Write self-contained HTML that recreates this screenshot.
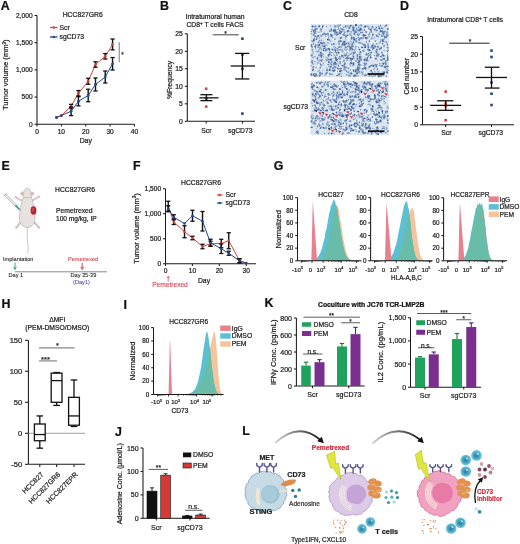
<!DOCTYPE html>
<html><head><meta charset="utf-8"><title>Figure</title>
<style>
html,body{margin:0;padding:0;background:#fff;}
svg{display:block;}
text{font-family:'Liberation Sans', Arial, Helvetica, sans-serif;stroke:currentColor;stroke-width:0.22px;}
</style></head>
<body>
<svg width="520" height="544" viewBox="0 0 520 544">
<rect width="520" height="544" fill="#fff"/>
<g id="panelA">
<text x="0.80" y="9.80" font-size="12.4" font-weight="bold" fill="#111" color="#111">A</text>
<line x1="37.00" y1="15.50" x2="37.00" y2="124.25" stroke="#1a1a1a" stroke-width="1.05"/>
<line x1="34.50" y1="124.25" x2="37.00" y2="124.25" stroke="#1a1a1a" stroke-width="1.05"/>
<text x="32.60" y="126.63" font-size="6.6" text-anchor="end" fill="#222" color="#222">0</text>
<line x1="34.50" y1="97.06" x2="37.00" y2="97.06" stroke="#1a1a1a" stroke-width="1.05"/>
<text x="32.60" y="99.44" font-size="6.6" text-anchor="end" fill="#222" color="#222">500</text>
<line x1="34.50" y1="69.88" x2="37.00" y2="69.88" stroke="#1a1a1a" stroke-width="1.05"/>
<text x="32.60" y="72.25" font-size="6.6" text-anchor="end" fill="#222" color="#222">1,000</text>
<line x1="34.50" y1="42.69" x2="37.00" y2="42.69" stroke="#1a1a1a" stroke-width="1.05"/>
<text x="32.60" y="45.06" font-size="6.6" text-anchor="end" fill="#222" color="#222">1,500</text>
<line x1="34.50" y1="15.50" x2="37.00" y2="15.50" stroke="#1a1a1a" stroke-width="1.05"/>
<text x="32.60" y="17.88" font-size="6.6" text-anchor="end" fill="#222" color="#222">2,000</text>
<line x1="37.00" y1="124.25" x2="134.50" y2="124.25" stroke="#1a1a1a" stroke-width="1.05"/>
<line x1="37.00" y1="124.25" x2="37.00" y2="126.45" stroke="#1a1a1a" stroke-width="1.05"/>
<text x="37.00" y="133.68" font-size="6.6" text-anchor="middle" fill="#222" color="#222">0</text>
<line x1="61.38" y1="124.25" x2="61.38" y2="126.45" stroke="#1a1a1a" stroke-width="1.05"/>
<text x="61.38" y="133.68" font-size="6.6" text-anchor="middle" fill="#222" color="#222">10</text>
<line x1="85.75" y1="124.25" x2="85.75" y2="126.45" stroke="#1a1a1a" stroke-width="1.05"/>
<text x="85.75" y="133.68" font-size="6.6" text-anchor="middle" fill="#222" color="#222">20</text>
<line x1="110.12" y1="124.25" x2="110.12" y2="126.45" stroke="#1a1a1a" stroke-width="1.05"/>
<text x="110.12" y="133.68" font-size="6.6" text-anchor="middle" fill="#222" color="#222">30</text>
<line x1="134.50" y1="124.25" x2="134.50" y2="126.45" stroke="#1a1a1a" stroke-width="1.05"/>
<text x="134.50" y="133.68" font-size="6.6" text-anchor="middle" fill="#222" color="#222">40</text>
<text x="82.70" y="17.45" font-size="6.8" text-anchor="middle" fill="#222" color="#222">HCC827GR6</text>
<text x="5.30" y="77.44" font-size="7.6" text-anchor="middle" fill="#222" color="#222" transform="rotate(-90 5.30 74.70)">Tumor volume (mm<tspan font-size="4.5" dy="-2.5">3</tspan><tspan dy="2.5">)</tspan></text>
<text x="85.75" y="142.75" font-size="6.8" text-anchor="middle" fill="#222" color="#222">Day</text>
<polyline points="56.50,117.51 61.38,115.55 71.12,106.25 78.44,93.26 88.19,81.29 95.50,64.49 105.25,56.28 112.56,44.48" fill="none" stroke="#d4453d" stroke-width="1.0"/>
<polyline points="56.50,117.51 61.38,115.55 71.12,111.25 78.44,101.25 88.19,95.49 95.50,84.50 105.25,77.00 112.56,63.79" fill="none" stroke="#27488c" stroke-width="1.0"/>
<circle cx="56.50" cy="117.51" r="1.40" fill="#d4453d"/>
<circle cx="61.38" cy="115.55" r="1.40" fill="#d4453d"/>
<line x1="71.12" y1="104.35" x2="71.12" y2="108.16" stroke="#111" stroke-width="1.4"/>
<line x1="69.03" y1="104.35" x2="73.22" y2="104.35" stroke="#111" stroke-width="1.3"/>
<line x1="69.03" y1="108.16" x2="73.22" y2="108.16" stroke="#111" stroke-width="1.3"/>
<circle cx="71.12" cy="106.25" r="1.40" fill="#d4453d"/>
<line x1="78.44" y1="90.54" x2="78.44" y2="95.97" stroke="#111" stroke-width="1.4"/>
<line x1="76.34" y1="90.54" x2="80.54" y2="90.54" stroke="#111" stroke-width="1.3"/>
<line x1="76.34" y1="95.97" x2="80.54" y2="95.97" stroke="#111" stroke-width="1.3"/>
<circle cx="78.44" cy="93.26" r="1.40" fill="#d4453d"/>
<line x1="88.19" y1="78.30" x2="88.19" y2="84.28" stroke="#111" stroke-width="1.4"/>
<line x1="86.09" y1="78.30" x2="90.29" y2="78.30" stroke="#111" stroke-width="1.3"/>
<line x1="86.09" y1="84.28" x2="90.29" y2="84.28" stroke="#111" stroke-width="1.3"/>
<circle cx="88.19" cy="81.29" r="1.40" fill="#d4453d"/>
<line x1="95.50" y1="61.77" x2="95.50" y2="67.21" stroke="#111" stroke-width="1.4"/>
<line x1="93.40" y1="61.77" x2="97.60" y2="61.77" stroke="#111" stroke-width="1.3"/>
<line x1="93.40" y1="67.21" x2="97.60" y2="67.21" stroke="#111" stroke-width="1.3"/>
<circle cx="95.50" cy="64.49" r="1.40" fill="#d4453d"/>
<line x1="105.25" y1="53.56" x2="105.25" y2="59.00" stroke="#111" stroke-width="1.4"/>
<line x1="103.15" y1="53.56" x2="107.35" y2="53.56" stroke="#111" stroke-width="1.3"/>
<line x1="103.15" y1="59.00" x2="107.35" y2="59.00" stroke="#111" stroke-width="1.3"/>
<circle cx="105.25" cy="56.28" r="1.40" fill="#d4453d"/>
<line x1="112.56" y1="39.04" x2="112.56" y2="49.92" stroke="#111" stroke-width="1.4"/>
<line x1="110.46" y1="39.04" x2="114.66" y2="39.04" stroke="#111" stroke-width="1.3"/>
<line x1="110.46" y1="49.92" x2="114.66" y2="49.92" stroke="#111" stroke-width="1.3"/>
<circle cx="112.56" cy="44.48" r="1.40" fill="#d4453d"/>
<circle cx="56.50" cy="117.51" r="1.40" fill="#27488c"/>
<circle cx="61.38" cy="115.55" r="1.40" fill="#27488c"/>
<line x1="71.12" y1="106.90" x2="71.12" y2="115.60" stroke="#111" stroke-width="1.4"/>
<line x1="69.03" y1="106.90" x2="73.22" y2="106.90" stroke="#111" stroke-width="1.3"/>
<line x1="69.03" y1="115.60" x2="73.22" y2="115.60" stroke="#111" stroke-width="1.3"/>
<circle cx="71.12" cy="111.25" r="1.40" fill="#27488c"/>
<line x1="78.44" y1="96.63" x2="78.44" y2="105.87" stroke="#111" stroke-width="1.4"/>
<line x1="76.34" y1="96.63" x2="80.54" y2="96.63" stroke="#111" stroke-width="1.3"/>
<line x1="76.34" y1="105.87" x2="80.54" y2="105.87" stroke="#111" stroke-width="1.3"/>
<circle cx="78.44" cy="101.25" r="1.40" fill="#27488c"/>
<line x1="88.19" y1="89.23" x2="88.19" y2="101.74" stroke="#111" stroke-width="1.4"/>
<line x1="86.09" y1="89.23" x2="90.29" y2="89.23" stroke="#111" stroke-width="1.3"/>
<line x1="86.09" y1="101.74" x2="90.29" y2="101.74" stroke="#111" stroke-width="1.3"/>
<circle cx="88.19" cy="95.49" r="1.40" fill="#27488c"/>
<line x1="95.50" y1="77.98" x2="95.50" y2="91.03" stroke="#111" stroke-width="1.4"/>
<line x1="93.40" y1="77.98" x2="97.60" y2="77.98" stroke="#111" stroke-width="1.3"/>
<line x1="93.40" y1="91.03" x2="97.60" y2="91.03" stroke="#111" stroke-width="1.3"/>
<circle cx="95.50" cy="84.50" r="1.40" fill="#27488c"/>
<line x1="105.25" y1="71.02" x2="105.25" y2="82.98" stroke="#111" stroke-width="1.4"/>
<line x1="103.15" y1="71.02" x2="107.35" y2="71.02" stroke="#111" stroke-width="1.3"/>
<line x1="103.15" y1="82.98" x2="107.35" y2="82.98" stroke="#111" stroke-width="1.3"/>
<circle cx="105.25" cy="77.00" r="1.40" fill="#27488c"/>
<line x1="112.56" y1="57.53" x2="112.56" y2="70.04" stroke="#111" stroke-width="1.4"/>
<line x1="110.46" y1="57.53" x2="114.66" y2="57.53" stroke="#111" stroke-width="1.3"/>
<line x1="110.46" y1="70.04" x2="114.66" y2="70.04" stroke="#111" stroke-width="1.3"/>
<circle cx="112.56" cy="63.79" r="1.40" fill="#27488c"/>
<line x1="50.00" y1="27.50" x2="57.50" y2="27.50" stroke="#d4453d" stroke-width="1.3"/>
<circle cx="53.75" cy="27.50" r="1.30" fill="#d4453d"/>
<text x="59.50" y="29.95" font-size="6.8" fill="#222" color="#222">Scr</text>
<line x1="50.00" y1="37.00" x2="57.50" y2="37.00" stroke="#27488c" stroke-width="1.3"/>
<circle cx="53.75" cy="37.00" r="1.30" fill="#27488c"/>
<text x="59.50" y="39.45" font-size="6.8" fill="#222" color="#222">sgCD73</text>
<line x1="119.20" y1="42.10" x2="119.20" y2="62.30" stroke="#777" stroke-width="1.0"/>
<text x="121.20" y="57.34" font-size="6.5" fill="#222" color="#222">*</text>
</g>
<g id="panelB">
<text x="160.00" y="10.20" font-size="12.4" font-weight="bold" fill="#111" color="#111">B</text>
<line x1="187.30" y1="33.80" x2="187.30" y2="121.30" stroke="#1a1a1a" stroke-width="1.05"/>
<line x1="184.80" y1="121.30" x2="187.30" y2="121.30" stroke="#1a1a1a" stroke-width="1.05"/>
<text x="182.90" y="123.75" font-size="6.8" text-anchor="end" fill="#222" color="#222">0</text>
<line x1="184.80" y1="103.80" x2="187.30" y2="103.80" stroke="#1a1a1a" stroke-width="1.05"/>
<text x="182.90" y="106.25" font-size="6.8" text-anchor="end" fill="#222" color="#222">5</text>
<line x1="184.80" y1="86.30" x2="187.30" y2="86.30" stroke="#1a1a1a" stroke-width="1.05"/>
<text x="182.90" y="88.75" font-size="6.8" text-anchor="end" fill="#222" color="#222">10</text>
<line x1="184.80" y1="68.80" x2="187.30" y2="68.80" stroke="#1a1a1a" stroke-width="1.05"/>
<text x="182.90" y="71.25" font-size="6.8" text-anchor="end" fill="#222" color="#222">15</text>
<line x1="184.80" y1="51.30" x2="187.30" y2="51.30" stroke="#1a1a1a" stroke-width="1.05"/>
<text x="182.90" y="53.75" font-size="6.8" text-anchor="end" fill="#222" color="#222">20</text>
<line x1="184.80" y1="33.80" x2="187.30" y2="33.80" stroke="#1a1a1a" stroke-width="1.05"/>
<text x="182.90" y="36.25" font-size="6.8" text-anchor="end" fill="#222" color="#222">25</text>
<line x1="187.30" y1="121.30" x2="255.00" y2="121.30" stroke="#1a1a1a" stroke-width="1.05"/>
<line x1="206.20" y1="121.30" x2="206.20" y2="123.50" stroke="#1a1a1a" stroke-width="1.05"/>
<line x1="242.40" y1="121.30" x2="242.40" y2="123.50" stroke="#1a1a1a" stroke-width="1.05"/>
<text x="206.40" y="133.35" font-size="6.8" text-anchor="middle" fill="#222" color="#222">Scr</text>
<text x="240.30" y="133.35" font-size="6.8" text-anchor="middle" fill="#222" color="#222">sgCD73</text>
<text x="215.00" y="19.45" font-size="6.8" text-anchor="middle" fill="#222" color="#222">Intratumoral human</text>
<text x="215.00" y="27.45" font-size="6.8" text-anchor="middle" fill="#222" color="#222">CD8<tspan font-size="4.5" dy="-2.5">+</tspan><tspan dy="2.5"> T cells FACS</tspan></text>
<text x="169.60" y="82.45" font-size="6.8" text-anchor="middle" fill="#222" color="#222" transform="rotate(-90 169.60 80.00)">%Frequency</text>
<line x1="212.80" y1="34.80" x2="238.80" y2="34.80" stroke="#444" stroke-width="1.0"/>
<text x="225.50" y="35.94" font-size="6.5" text-anchor="middle" fill="#222" color="#222">*</text>
<rect x="204.90" y="87.45" width="2.60" height="2.60" fill="#d4453d"/>
<rect x="204.90" y="97.95" width="2.60" height="2.60" fill="#d4453d"/>
<rect x="204.90" y="105.30" width="2.60" height="2.60" fill="#d4453d"/>
<rect x="204.90" y="96.90" width="2.60" height="2.60" fill="#d4453d"/>
<rect x="241.10" y="37.40" width="2.60" height="2.60" fill="#27488c"/>
<rect x="241.10" y="53.15" width="2.60" height="2.60" fill="#27488c"/>
<rect x="241.10" y="67.50" width="2.60" height="2.60" fill="#27488c"/>
<rect x="241.10" y="112.30" width="2.60" height="2.60" fill="#27488c"/>
<line x1="199.40" y1="97.85" x2="218.50" y2="97.85" stroke="#111" stroke-width="1.3"/>
<line x1="206.40" y1="94.70" x2="206.40" y2="100.65" stroke="#111" stroke-width="1.3"/>
<line x1="200.40" y1="94.70" x2="212.40" y2="94.70" stroke="#111" stroke-width="1.3"/>
<line x1="200.40" y1="100.65" x2="212.40" y2="100.65" stroke="#111" stroke-width="1.3"/>
<line x1="230.70" y1="66.00" x2="255.00" y2="66.00" stroke="#111" stroke-width="1.3"/>
<line x1="242.40" y1="53.40" x2="242.40" y2="78.95" stroke="#111" stroke-width="1.3"/>
<line x1="235.10" y1="53.40" x2="249.30" y2="53.40" stroke="#111" stroke-width="1.3"/>
<line x1="235.10" y1="78.95" x2="249.30" y2="78.95" stroke="#111" stroke-width="1.3"/>
</g>
<g id="panelC">
<text x="283.00" y="10.20" font-size="12.4" font-weight="bold" fill="#111" color="#111">C</text>
<text x="351.00" y="17.45" font-size="6.8" text-anchor="middle" fill="#222" color="#222">CD8</text>
<text x="305.30" y="50.35" font-size="6.8" text-anchor="end" fill="#222" color="#222">Scr</text>
<text x="308.10" y="108.75" font-size="6.8" text-anchor="end" fill="#222" color="#222">sgCD73</text>
<rect x="310.4" y="24.2" width="78.5" height="53.1" fill="#d9e4ee"/>
<path d="M343.2,53.7l2.9,-2.9l2.9,2.9l-2.9,2.9zM344.7,51.1l2.4,-2.4l2.4,2.4l-2.4,2.4zM323.7,51.3l2.4,-2.4l2.4,2.4l-2.4,2.4zM369.5,30.8l2.0,-2.0l2.0,2.0l-2.0,2.0zM316.6,66.0l2.5,-2.5l2.5,2.5l-2.5,2.5zM312.6,74.4l2.9,-2.9l2.9,2.9l-2.9,2.9zM359.4,56.4l1.7,-1.7l1.7,1.7l-1.7,1.7zM311.9,52.1l1.6,-1.6l1.6,1.6l-1.6,1.6zM325.0,38.1l1.5,-1.5l1.5,1.5l-1.5,1.5zM344.2,47.8l2.8,-2.8l2.8,2.8l-2.8,2.8zM348.8,57.6l2.2,-2.2l2.2,2.2l-2.2,2.2zM359.8,48.7l1.9,-1.9l1.9,1.9l-1.9,1.9zM384.0,75.1l2.8,-2.8l2.8,2.8l-2.8,2.8zM363.3,41.7l1.8,-1.8l1.8,1.8l-1.8,1.8zM331.3,29.6l2.6,-2.6l2.6,2.6l-2.6,2.6zM340.2,67.8l2.1,-2.1l2.1,2.1l-2.1,2.1zM382.3,67.8l1.5,-1.5l1.5,1.5l-1.5,1.5zM325.8,70.9l2.2,-2.2l2.2,2.2l-2.2,2.2zM383.8,45.7l1.6,-1.6l1.6,1.6l-1.6,1.6zM357.4,64.4l1.9,-1.9l1.9,1.9l-1.9,1.9zM315.9,42.5l2.9,-2.9l2.9,2.9l-2.9,2.9zM367.0,32.0l1.9,-1.9l1.9,1.9l-1.9,1.9zM317.2,29.1l2.7,-2.7l2.7,2.7l-2.7,2.7zM323.5,53.7l2.2,-2.2l2.2,2.2l-2.2,2.2zM324.9,62.1l1.7,-1.7l1.7,1.7l-1.7,1.7zM358.2,31.9l2.1,-2.1l2.1,2.1l-2.1,2.1zM325.3,39.4l3.0,-3.0l3.0,3.0l-3.0,3.0zM369.4,41.1l2.8,-2.8l2.8,2.8l-2.8,2.8zM325.3,45.6l2.8,-2.8l2.8,2.8l-2.8,2.8zM357.2,31.1l3.0,-3.0l3.0,3.0l-3.0,3.0zM325.6,38.9l2.7,-2.7l2.7,2.7l-2.7,2.7zM335.3,40.7l1.6,-1.6l1.6,1.6l-1.6,1.6zM317.2,54.8l1.9,-1.9l1.9,1.9l-1.9,1.9zM355.0,44.5l2.2,-2.2l2.2,2.2l-2.2,2.2zM381.5,50.0l2.4,-2.4l2.4,2.4l-2.4,2.4zM375.2,35.2l1.7,-1.7l1.7,1.7l-1.7,1.7zM378.2,66.4l1.9,-1.9l1.9,1.9l-1.9,1.9zM323.6,62.5l2.9,-2.9l2.9,2.9l-2.9,2.9zM324.2,72.9l2.8,-2.8l2.8,2.8l-2.8,2.8zM355.7,46.9l1.7,-1.7l1.7,1.7l-1.7,1.7zM313.4,73.5l1.9,-1.9l1.9,1.9l-1.9,1.9zM362.2,38.8l2.7,-2.7l2.7,2.7l-2.7,2.7zM355.1,40.6l1.8,-1.8l1.8,1.8l-1.8,1.8zM364.2,29.6l1.8,-1.8l1.8,1.8l-1.8,1.8zM351.7,68.1l2.4,-2.4l2.4,2.4l-2.4,2.4zM331.5,71.2l1.8,-1.8l1.8,1.8l-1.8,1.8zM311.5,39.4l2.2,-2.2l2.2,2.2l-2.2,2.2zM314.9,34.9l2.1,-2.1l2.1,2.1l-2.1,2.1zM353.0,32.7l2.0,-2.0l2.0,2.0l-2.0,2.0zM376.3,74.3l2.5,-2.5l2.5,2.5l-2.5,2.5zM362.2,54.9l1.7,-1.7l1.7,1.7l-1.7,1.7zM312.1,27.1l2.9,-2.9l2.9,2.9l-2.9,2.9zM363.1,73.5l1.5,-1.5l1.5,1.5l-1.5,1.5zM357.2,49.9l2.6,-2.6l2.6,2.6l-2.6,2.6zM334.5,75.3l1.6,-1.6l1.6,1.6l-1.6,1.6zM350.2,62.4l2.9,-2.9l2.9,2.9l-2.9,2.9zM364.6,60.8l2.7,-2.7l2.7,2.7l-2.7,2.7zM378.0,43.5l2.5,-2.5l2.5,2.5l-2.5,2.5zM377.4,69.0l2.1,-2.1l2.1,2.1l-2.1,2.1zM368.9,68.6l2.4,-2.4l2.4,2.4l-2.4,2.4zM356.6,45.0l2.4,-2.4l2.4,2.4l-2.4,2.4zM355.3,30.1l2.5,-2.5l2.5,2.5l-2.5,2.5zM383.8,69.4l2.6,-2.6l2.6,2.6l-2.6,2.6zM339.0,62.3l2.4,-2.4l2.4,2.4l-2.4,2.4zM343.6,67.4l1.6,-1.6l1.6,1.6l-1.6,1.6zM365.9,27.7l2.4,-2.4l2.4,2.4l-2.4,2.4zM345.7,37.5l2.5,-2.5l2.5,2.5l-2.5,2.5zM346.6,56.4l2.9,-2.9l2.9,2.9l-2.9,2.9zM329.5,26.8l2.0,-2.0l2.0,2.0l-2.0,2.0zM361.2,36.1l1.8,-1.8l1.8,1.8l-1.8,1.8zM377.7,58.6l2.2,-2.2l2.2,2.2l-2.2,2.2zM376.3,42.3l2.5,-2.5l2.5,2.5l-2.5,2.5zM324.5,47.4l2.7,-2.7l2.7,2.7l-2.7,2.7zM378.4,69.4l2.1,-2.1l2.1,2.1l-2.1,2.1zM354.1,41.7l1.7,-1.7l1.7,1.7l-1.7,1.7zM346.6,67.3l2.8,-2.8l2.8,2.8l-2.8,2.8zM363.5,72.8l1.9,-1.9l1.9,1.9l-1.9,1.9zM323.1,48.3l1.9,-1.9l1.9,1.9l-1.9,1.9zM325.9,46.5l2.4,-2.4l2.4,2.4l-2.4,2.4zM346.4,41.7l2.8,-2.8l2.8,2.8l-2.8,2.8zM383.9,48.4l1.6,-1.6l1.6,1.6l-1.6,1.6zM313.2,69.1l1.6,-1.6l1.6,1.6l-1.6,1.6zM363.2,54.2l2.0,-2.0l2.0,2.0l-2.0,2.0zM369.7,27.1l1.7,-1.7l1.7,1.7l-1.7,1.7zM343.5,27.4l2.7,-2.7l2.7,2.7l-2.7,2.7zM328.5,33.1l1.6,-1.6l1.6,1.6l-1.6,1.6zM356.8,48.1l2.4,-2.4l2.4,2.4l-2.4,2.4zM358.3,65.8l2.9,-2.9l2.9,2.9l-2.9,2.9zM361.2,36.0l2.2,-2.2l2.2,2.2l-2.2,2.2zM323.5,26.7l2.2,-2.2l2.2,2.2l-2.2,2.2zM363.7,35.0l1.9,-1.9l1.9,1.9l-1.9,1.9zM335.9,60.4l2.3,-2.3l2.3,2.3l-2.3,2.3zM356.1,63.3l2.1,-2.1l2.1,2.1l-2.1,2.1zM369.8,70.7l1.6,-1.6l1.6,1.6l-1.6,1.6zM380.2,61.7l1.7,-1.7l1.7,1.7l-1.7,1.7zM343.3,56.9l2.9,-2.9l2.9,2.9l-2.9,2.9zM337.7,54.1l2.8,-2.8l2.8,2.8l-2.8,2.8zM369.6,72.6l2.2,-2.2l2.2,2.2l-2.2,2.2zM358.3,36.3l2.6,-2.6l2.6,2.6l-2.6,2.6zM370.8,57.7l2.6,-2.6l2.6,2.6l-2.6,2.6zM325.3,70.4l3.0,-3.0l3.0,3.0l-3.0,3.0zM382.5,52.6l2.7,-2.7l2.7,2.7l-2.7,2.7zM333.5,70.9l2.8,-2.8l2.8,2.8l-2.8,2.8zM336.2,30.3l2.2,-2.2l2.2,2.2l-2.2,2.2z" fill="#eef2f8" opacity="0.7"/>
<path d="M354.4,65.3l-1.4,-0.1l-0.3,-1.4l1.4,0.1zM349.2,46.9l-0.3,-0.9l0.8,-0.5l0.3,0.9zM383.7,31.8l-1.5,0.9l-1.3,-1.2l1.5,-0.9zM357.7,31.0l0.7,-1.5l1.6,0.3l-0.7,1.5zM366.6,64.8l-1.9,0.5l-1.0,-1.6l1.9,-0.5zM387.5,59.2l-0.8,-1.5l1.3,-1.2l0.8,1.5zM313.8,76.8l0.5,-1.8l1.9,0.0l-0.5,1.8zM384.5,38.8l-0.4,-1.6l1.4,-0.8l0.4,1.6zM328.5,59.7l-1.1,-0.4l0.1,-1.2l1.1,0.4zM386.1,63.6l-1.3,-0.7l0.3,-1.4l1.3,0.7zM334.5,27.2l0.2,-1.6l1.6,-0.2l-0.2,1.6zM360.4,65.5l0.2,-1.0l1.0,-0.1l-0.2,1.0zM370.7,47.4l0.4,-1.8l1.9,-0.1l-0.4,1.8zM375.0,42.0l-0.5,-1.1l0.9,-0.8l0.5,1.1zM387.5,60.0l-0.1,-0.9l0.9,-0.3l0.1,0.9zM375.5,30.1l-1.0,0.2l-0.5,-0.9l1.0,-0.2zM358.9,34.6l0.4,-1.0l1.1,0.1l-0.4,1.0zM382.8,44.7l-1.0,-1.0l0.6,-1.2l1.0,1.0zM351.7,47.2l-0.8,-0.2l0.0,-0.9l0.8,0.2zM334.0,55.9l0.4,-0.8l0.9,0.1l-0.4,0.8zM321.6,53.9l-1.8,-0.5l0.0,-1.9l1.8,0.5zM326.3,58.3l-0.2,-1.0l1.0,-0.5l0.2,1.0zM326.9,35.0l-1.7,0.1l-0.6,-1.6l1.7,-0.1zM357.4,25.9l-1.8,0.1l-0.7,-1.7l1.8,-0.1zM311.8,47.2l-1.2,-0.8l0.4,-1.4l1.2,0.8zM333.7,47.5l-0.1,-0.9l0.9,-0.3l0.1,0.9zM338.2,76.1l-1.5,0.2l-0.6,-1.4l1.5,-0.2zM383.9,36.6l-1.3,-0.0l-0.3,-1.2l1.3,0.0zM311.9,42.0l0.6,-1.1l1.3,0.2l-0.6,1.1zM318.1,48.1l-0.8,-1.0l0.7,-1.1l0.8,1.0zM327.9,60.2l0.7,-0.8l1.0,0.4l-0.7,0.8zM372.9,39.2l-0.9,-0.3l0.1,-1.0l0.9,0.3zM377.6,52.0l-1.6,0.2l-0.7,-1.5l1.6,-0.2zM359.1,41.3l-1.1,-1.2l0.8,-1.3l1.1,1.2zM315.6,62.2l-1.0,0.0l-0.3,-0.9l1.0,-0.0zM352.8,54.1l0.6,-0.8l1.0,0.3l-0.6,0.8zM372.2,77.1l-1.0,-0.8l0.5,-1.2l1.0,0.8zM322.5,44.1l-1.1,-0.8l0.4,-1.3l1.1,0.8zM370.5,71.9l-0.2,-1.8l1.6,-0.6l0.2,1.8zM351.5,49.2l-0.4,-1.1l0.9,-0.7l0.4,1.1zM386.7,64.8l-1.8,-0.2l-0.4,-1.8l1.8,0.2zM348.2,28.7l0.5,-1.7l1.8,0.0l-0.5,1.7zM322.1,44.0l0.6,-0.7l0.9,0.4l-0.6,0.7zM368.8,57.0l-1.2,-0.7l0.3,-1.3l1.2,0.7zM346.6,37.1l-1.5,-0.9l0.4,-1.7l1.5,0.9zM348.8,49.8l1.2,-1.1l1.3,0.8l-1.2,1.1zM387.4,56.1l-0.7,-0.7l0.5,-0.9l0.7,0.7zM377.2,28.0l-1.3,-0.0l-0.3,-1.3l1.3,0.0zM387.9,51.3l-0.6,-1.1l0.9,-0.9l0.6,1.1zM364.0,46.3l-0.8,-1.5l1.2,-1.2l0.8,1.5zM377.4,65.7l-1.1,-0.5l0.2,-1.2l1.1,0.5zM360.6,43.8l-1.3,-0.2l-0.2,-1.3l1.3,0.2zM384.2,59.1l-0.9,0.3l-0.5,-0.8l0.9,-0.3zM314.0,32.2l-1.4,-1.1l0.7,-1.7l1.4,1.1zM368.8,66.7l0.6,-0.6l0.7,0.4l-0.6,0.6zM364.1,52.0l-1.1,-0.8l0.5,-1.2l1.1,0.8zM386.3,44.1l1.0,-0.8l1.0,0.7l-1.0,0.8zM369.6,49.7l-1.6,0.8l-1.2,-1.3l1.6,-0.8zM383.9,33.1l-1.6,0.1l-0.5,-1.6l1.6,-0.1zM361.6,29.3l-1.6,-0.3l-0.2,-1.6l1.6,0.3zM385.8,37.9l-0.1,-1.5l1.5,-0.5l0.1,1.5zM329.6,50.9l-1.5,-1.2l0.8,-1.8l1.5,1.2zM311.8,30.3l-0.3,-1.0l0.9,-0.6l0.3,1.0zM357.2,42.6l-1.8,-0.8l0.2,-1.9l1.8,0.8zM387.6,36.6l-1.1,-1.5l1.1,-1.5l1.1,1.5zM314.8,37.3l-0.6,-1.5l1.3,-0.9l0.6,1.5zM345.7,53.9l0.9,-1.0l1.2,0.6l-0.9,1.0zM330.1,34.9l-0.2,-1.0l0.9,-0.5l0.2,1.0zM312.9,35.4l-0.0,-0.9l0.8,-0.3l0.0,0.9zM352.8,55.8l-0.3,-0.9l0.8,-0.6l0.3,0.9zM314.7,34.1l-1.1,-1.2l0.8,-1.4l1.1,1.2zM353.4,29.2l-1.1,-1.2l0.8,-1.4l1.1,1.2zM328.7,59.4l-1.1,-0.1l-0.2,-1.1l1.1,0.1zM358.7,57.3l0.9,-1.7l1.8,0.4l-0.9,1.7zM311.6,47.3l-0.8,-1.3l1.0,-1.1l0.8,1.3zM340.5,34.3l-1.1,-0.6l0.2,-1.2l1.1,0.6zM317.3,40.1l-1.5,-0.2l-0.3,-1.5l1.5,0.2zM358.0,72.7l-0.9,-0.1l-0.2,-0.9l0.9,0.1zM324.6,49.2l-0.3,-1.3l1.2,-0.6l0.3,1.3zM340.3,64.2l-0.6,-0.7l0.5,-0.8l0.6,0.7zM339.7,58.7l-1.2,0.3l-0.6,-1.1l1.2,-0.3zM339.9,32.1l-1.0,-1.2l0.8,-1.3l1.0,1.2zM371.0,58.7l-1.0,-0.9l0.6,-1.2l1.0,0.9zM364.4,69.1l-0.8,0.4l-0.7,-0.7l0.8,-0.4zM336.7,33.8l-0.8,-1.5l1.2,-1.2l0.8,1.5zM382.0,36.9l-1.2,-1.0l0.6,-1.4l1.2,1.0zM322.8,49.2l0.1,-1.0l1.0,-0.2l-0.1,1.0zM328.0,57.0l-0.0,-1.1l1.1,-0.3l0.0,1.1zM331.2,64.9l-1.0,-0.5l0.2,-1.1l1.0,0.5zM337.0,35.1l-0.9,0.4l-0.6,-0.8l0.9,-0.4zM314.8,32.3l-1.2,0.2l-0.5,-1.1l1.2,-0.2zM354.0,31.1l-1.7,-0.8l0.3,-1.8l1.7,0.8zM337.9,47.4l1.1,-1.5l1.7,0.7l-1.1,1.5zM330.1,63.1l-1.7,0.0l-0.5,-1.7l1.7,-0.0zM327.1,49.4l0.8,-1.7l1.8,0.3l-0.8,1.7zM384.1,57.0l-1.4,-1.1l0.6,-1.6l1.4,1.1zM353.1,45.0l-1.2,-0.5l0.2,-1.3l1.2,0.5zM349.9,44.5l-0.9,0.7l-0.9,-0.7l0.9,-0.7zM384.0,55.4l-1.4,0.8l-1.2,-1.1l1.4,-0.8zM361.1,30.4l0.6,-0.8l0.9,0.3l-0.6,0.8zM335.1,47.9l0.2,-0.9l0.9,-0.1l-0.2,0.9zM316.7,58.4l0.5,-1.1l1.2,0.2l-0.5,1.1zM346.6,72.2l-0.6,-1.1l0.9,-0.9l0.6,1.1zM318.7,52.1l-1.1,-0.5l0.2,-1.2l1.1,0.5zM351.8,39.8l-1.2,-0.9l0.5,-1.4l1.2,0.9zM357.6,70.8l-1.5,-0.7l0.3,-1.7l1.5,0.7zM339.1,41.2l1.5,-1.2l1.6,1.1l-1.5,1.2zM374.6,30.8l-1.0,-1.1l0.8,-1.2l1.0,1.1zM361.7,26.2l-1.3,-0.5l0.1,-1.4l1.3,0.5zM341.9,76.9l-1.1,-0.1l-0.3,-1.1l1.1,0.1zM326.6,34.3l0.8,-1.4l1.6,0.4l-0.8,1.4zM376.6,47.1l-1.9,0.4l-0.9,-1.7l1.9,-0.4zM368.6,50.1l0.5,-1.0l1.1,0.2l-0.5,1.0zM352.2,26.6l0.5,-1.1l1.2,0.2l-0.5,1.1zM384.5,56.0l-1.1,-0.0l-0.3,-1.1l1.1,0.0zM379.4,49.5l0.4,-1.0l1.1,0.1l-0.4,1.0zM333.1,72.1l-0.1,-1.8l1.6,-0.6l0.1,1.8zM353.9,54.3l-0.4,-1.0l0.9,-0.7l0.4,1.0zM334.9,32.0l-0.8,-1.7l1.5,-1.2l0.8,1.7zM365.7,60.9l-1.8,0.1l-0.6,-1.7l1.8,-0.1zM388.7,57.4l-1.2,0.3l-0.7,-1.1l1.2,-0.3zM340.4,57.3l0.6,-1.0l1.1,0.3l-0.6,1.0zM317.7,76.1l0.4,-0.7l0.8,0.2l-0.4,0.7zM377.6,31.1l-0.9,0.0l-0.3,-0.8l0.9,-0.0zM367.6,60.9l-0.7,-0.9l0.7,-0.9l0.7,0.9zM361.5,32.3l0.9,-0.7l0.9,0.6l-0.9,0.7zM339.7,34.1l-1.2,-0.3l-0.0,-1.3l1.2,0.3zM328.8,53.2l0.6,-1.5l1.6,0.1l-0.6,1.5z" fill="#4b6fa5"/>
<path d="M388.0,31.4l-0.9,0.4l-0.6,-0.7l0.9,-0.4zM381.4,41.9l-1.2,-0.1l-0.3,-1.2l1.2,0.1zM388.7,71.0l-1.0,0.2l-0.5,-0.9l1.0,-0.2zM351.5,54.6l-1.0,0.3l-0.5,-0.9l1.0,-0.3zM340.9,47.9l-0.4,-1.2l1.0,-0.7l0.4,1.2zM312.6,62.5l-1.4,-1.1l0.6,-1.7l1.4,1.1zM331.7,75.3l-0.2,-1.2l1.1,-0.5l0.2,1.2zM363.0,75.2l-1.1,-0.7l0.4,-1.2l1.1,0.7zM357.6,63.5l-0.4,-1.6l1.4,-0.8l0.4,1.6zM367.1,44.5l0.5,-1.2l1.3,0.2l-0.5,1.2zM381.3,72.2l0.9,-0.7l0.9,0.6l-0.9,0.7zM370.0,65.8l0.5,-0.8l0.9,0.3l-0.5,0.8zM377.7,72.5l0.0,-1.3l1.3,-0.3l-0.0,1.3zM327.7,72.4l-0.9,0.4l-0.6,-0.8l0.9,-0.4zM355.9,29.7l0.9,-0.7l0.9,0.6l-0.9,0.7zM353.1,44.3l-0.6,-1.3l1.1,-0.9l0.6,1.3zM325.4,74.5l0.3,-1.5l1.5,-0.1l-0.3,1.5zM329.3,55.9l-0.6,-1.7l1.4,-1.0l0.6,1.7zM342.2,43.1l-0.4,-0.9l0.7,-0.6l0.4,0.9zM377.2,48.0l-0.3,-1.7l1.6,-0.8l0.3,1.7zM383.9,76.0l-1.4,0.0l-0.4,-1.3l1.4,-0.0zM386.9,71.8l-1.0,-0.2l-0.1,-1.0l1.0,0.2zM376.5,56.9l-0.4,-1.1l0.9,-0.7l0.4,1.1zM366.9,55.7l-1.7,-0.7l0.2,-1.8l1.7,0.7zM331.3,66.8l-0.4,-0.8l0.7,-0.6l0.4,0.8zM353.9,65.9l-1.0,0.5l-0.8,-0.8l1.0,-0.5zM354.1,38.4l-1.2,-0.7l0.3,-1.3l1.2,0.7zM338.0,35.6l-0.9,-1.1l0.8,-1.2l0.9,1.1zM387.4,61.4l-0.9,-1.6l1.3,-1.3l0.9,1.6zM365.5,39.6l0.1,-1.2l1.2,-0.3l-0.1,1.2zM341.5,38.0l-0.5,-0.7l0.6,-0.7l0.5,0.7zM343.7,45.4l-1.7,0.6l-1.0,-1.5l1.7,-0.6zM383.9,40.3l-1.6,0.2l-0.7,-1.5l1.6,-0.2zM365.2,61.5l0.6,-1.5l1.6,0.1l-0.6,1.5zM360.2,68.6l-1.7,0.0l-0.5,-1.7l1.7,-0.0zM345.4,71.0l-1.3,-0.9l0.5,-1.5l1.3,0.9zM319.8,42.4l-1.5,0.8l-1.2,-1.2l1.5,-0.8zM355.7,42.7l-0.8,-1.1l0.8,-1.1l0.8,1.1zM318.4,38.3l0.6,-1.0l1.1,0.3l-0.6,1.0zM320.8,48.0l-1.6,0.7l-1.1,-1.3l1.6,-0.7zM334.3,26.0l0.1,-0.9l0.9,-0.2l-0.1,0.9zM339.9,41.2l-1.2,0.5l-0.8,-1.0l1.2,-0.5zM377.9,31.0l-1.8,0.3l-0.8,-1.6l1.8,-0.3zM351.3,54.1l-0.1,-1.3l1.2,-0.5l0.1,1.3zM366.0,27.7l-0.7,-1.0l0.8,-0.9l0.7,1.0zM358.2,72.9l0.4,-1.7l1.8,-0.1l-0.4,1.7zM321.1,31.0l-0.9,-1.5l1.2,-1.3l0.9,1.5zM323.3,74.0l-1.4,0.8l-1.2,-1.1l1.4,-0.8zM350.7,43.7l0.7,-1.2l1.4,0.4l-0.7,1.2zM353.0,75.5l0.8,-1.2l1.4,0.5l-0.8,1.2zM330.0,36.4l0.9,-0.8l1.0,0.6l-0.9,0.8zM334.2,33.9l1.2,-1.2l1.5,0.8l-1.2,1.2zM329.9,70.9l-1.0,-0.0l-0.3,-1.0l1.0,0.0zM347.0,37.4l-1.9,-0.2l-0.3,-1.8l1.9,0.2zM314.7,74.6l-1.3,0.3l-0.6,-1.2l1.3,-0.3zM358.6,69.1l-1.3,0.2l-0.6,-1.2l1.3,-0.2zM316.6,27.1l-1.2,-0.4l0.0,-1.2l1.2,0.4zM329.7,63.6l0.5,-0.9l1.0,0.3l-0.5,0.9zM368.6,76.6l0.2,-1.5l1.5,-0.2l-0.2,1.5zM328.5,62.3l-0.5,-0.7l0.5,-0.7l0.5,0.7zM351.8,41.4l-1.0,0.6l-0.9,-0.8l1.0,-0.6zM346.8,28.7l-0.5,-0.8l0.6,-0.7l0.5,0.8zM377.7,70.2l-1.2,-0.9l0.5,-1.4l1.2,0.9zM314.4,75.5l1.4,-1.4l1.7,0.9l-1.4,1.4zM343.8,29.7l-1.3,0.7l-1.0,-1.1l1.3,-0.7zM332.0,36.9l-1.1,-1.1l0.8,-1.4l1.1,1.1zM378.8,29.5l0.1,-1.1l1.1,-0.2l-0.1,1.1zM329.9,60.1l1.0,-0.8l1.1,0.7l-1.0,0.8zM312.8,68.5l-0.5,-1.8l1.6,-0.9l0.5,1.8zM337.8,42.2l0.8,-1.6l1.7,0.3l-0.8,1.6zM357.8,76.7l-0.3,-1.0l0.9,-0.6l0.3,1.0zM378.3,37.7l-0.8,-1.0l0.7,-1.0l0.8,1.0zM318.8,27.4l-0.7,-1.4l1.2,-1.1l0.7,1.4zM373.0,49.2l-1.3,-1.0l0.6,-1.5l1.3,1.0zM316.5,76.6l0.2,-0.8l0.9,0.0l-0.2,0.8zM325.0,52.0l-0.7,-1.8l1.5,-1.2l0.7,1.8zM359.8,33.1l0.7,-1.5l1.6,0.3l-0.7,1.5zM321.3,46.6l0.3,-1.4l1.5,-0.1l-0.3,1.4zM362.2,48.4l-1.4,-0.5l0.1,-1.5l1.4,0.5zM318.8,56.6l-0.9,-1.5l1.2,-1.3l0.9,1.5zM376.7,51.3l-1.1,-1.5l1.2,-1.5l1.1,1.5zM342.2,30.4l-1.2,-1.1l0.7,-1.4l1.2,1.1zM355.1,30.9l-0.8,-0.8l0.5,-1.0l0.8,0.8zM332.9,45.1l0.1,-1.8l1.8,-0.4l-0.1,1.8zM312.2,34.0l-1.0,0.2l-0.5,-0.9l1.0,-0.2zM315.3,51.7l0.4,-1.0l1.1,0.1l-0.4,1.0zM361.4,60.7l-1.3,-1.0l0.6,-1.6l1.3,1.0zM368.7,68.5l-0.3,-1.9l1.7,-0.9l0.3,1.9zM348.3,32.3l-1.2,-0.3l-0.0,-1.2l1.2,0.3zM328.8,43.7l-0.8,-0.5l0.2,-0.9l0.8,0.5zM381.8,34.2l1.3,-1.5l1.8,0.8l-1.3,1.5zM385.0,62.1l-0.2,-1.7l1.6,-0.6l0.2,1.7zM341.3,62.3l-1.3,0.2l-0.6,-1.2l1.3,-0.2zM346.5,67.3l-1.3,1.0l-1.3,-1.0l1.3,-1.0zM340.9,37.7l0.8,-0.7l0.9,0.6l-0.8,0.7zM387.0,36.1l-1.3,-0.5l0.1,-1.4l1.3,0.5zM334.6,30.0l-1.3,0.1l-0.4,-1.2l1.3,-0.1zM353.2,71.3l-0.6,-1.0l0.8,-0.9l0.6,1.0zM337.4,29.4l0.9,-0.9l1.1,0.6l-0.9,0.9zM353.1,53.7l-0.1,-1.6l1.6,-0.5l0.1,1.6zM321.4,29.4l-1.3,0.4l-0.7,-1.1l1.3,-0.4zM360.6,44.0l-0.3,-1.2l1.0,-0.7l0.3,1.2zM374.9,76.6l-0.4,-1.5l1.3,-0.8l0.4,1.5zM373.0,66.3l-1.3,-0.4l0.0,-1.4l1.3,0.4zM334.5,64.7l0.4,-1.7l1.8,-0.1l-0.4,1.7zM337.9,51.5l-1.0,-0.9l0.6,-1.2l1.0,0.9zM380.9,48.0l0.1,-1.1l1.1,-0.2l-0.1,1.1zM331.6,65.6l-0.9,-1.0l0.7,-1.2l0.9,1.0zM366.6,68.2l-1.4,1.0l-1.3,-1.1l1.4,-1.0zM374.3,69.6l-0.9,0.1l-0.3,-0.9l0.9,-0.1zM368.1,38.9l-1.2,-0.5l0.1,-1.3l1.2,0.5zM359.0,31.7l0.2,-1.1l1.1,-0.2l-0.2,1.1zM345.7,67.8l1.0,-0.8l1.0,0.7l-1.0,0.8zM354.4,56.8l-1.3,0.1l-0.5,-1.2l1.3,-0.1zM334.1,49.9l-1.8,0.8l-1.2,-1.5l1.8,-0.8zM366.7,55.7l-1.0,-1.5l1.2,-1.4l1.0,1.5zM313.8,74.1l0.7,-1.2l1.3,0.3l-0.7,1.2zM331.2,74.4l-1.5,0.6l-1.0,-1.3l1.5,-0.6zM320.1,41.4l-1.2,-0.5l0.2,-1.2l1.2,0.5zM370.8,38.9l0.5,-0.9l1.0,0.3l-0.5,0.9zM347.3,68.6l1.0,-1.2l1.4,0.7l-1.0,1.2z" fill="#5f83b5"/>
<path d="M328.0,60.7l-1.8,0.5l-1.0,-1.6l1.8,-0.5zM350.9,76.7l-1.7,-0.4l-0.1,-1.7l1.7,0.4zM342.8,62.8l-0.9,-0.3l0.0,-0.9l0.9,0.3zM326.7,44.9l-0.9,-0.2l-0.1,-1.0l0.9,0.2zM351.5,50.7l-0.1,-1.1l1.1,-0.5l0.1,1.1zM322.5,64.6l0.2,-1.3l1.3,-0.2l-0.2,1.3zM380.7,66.3l-1.5,-0.3l-0.1,-1.5l1.5,0.3zM379.3,27.6l-0.9,-0.2l-0.1,-0.9l0.9,0.2zM314.1,27.2l-1.0,0.4l-0.7,-0.8l1.0,-0.4zM353.5,50.7l0.6,-1.5l1.6,0.1l-0.6,1.5zM333.4,62.8l0.9,-1.4l1.6,0.4l-0.9,1.4zM345.6,67.0l-1.2,-0.1l-0.3,-1.2l1.2,0.1zM313.8,50.2l-1.7,0.5l-1.0,-1.5l1.7,-0.5zM376.3,50.9l-0.2,-1.3l1.2,-0.5l0.2,1.3zM358.5,33.5l-1.0,0.2l-0.5,-0.9l1.0,-0.2zM372.2,36.8l-0.4,-1.5l1.3,-0.8l0.4,1.5zM351.6,39.2l-0.2,-1.0l0.9,-0.5l0.2,1.0zM322.2,50.5l-1.2,-0.5l0.1,-1.3l1.2,0.5zM342.4,51.4l-0.8,-0.6l0.3,-0.9l0.8,0.6zM357.9,48.0l0.2,-1.3l1.3,-0.2l-0.2,1.3zM334.8,49.4l-0.7,-1.0l0.7,-1.0l0.7,1.0zM376.6,61.0l0.4,-0.8l0.9,0.1l-0.4,0.8zM333.3,67.7l1.0,-1.7l1.9,0.4l-1.0,1.7zM331.0,62.8l0.4,-1.4l1.4,-0.0l-0.4,1.4zM329.7,66.4l0.7,-0.6l0.8,0.5l-0.7,0.6zM371.1,29.0l-0.0,-1.3l1.2,-0.4l0.0,1.3zM367.2,76.1l-1.5,-0.2l-0.2,-1.5l1.5,0.2zM343.1,28.3l-0.3,-1.1l1.0,-0.6l0.3,1.1zM330.5,27.2l-0.5,-1.1l0.9,-0.8l0.5,1.1zM378.0,70.5l-0.7,-0.5l0.3,-0.9l0.7,0.5zM363.7,67.0l-0.1,-1.9l1.8,-0.6l0.1,1.9zM314.3,53.2l-1.3,0.6l-0.9,-1.0l1.3,-0.6zM374.0,38.3l0.5,-0.9l1.0,0.2l-0.5,0.9zM383.0,46.1l0.9,-1.3l1.6,0.5l-0.9,1.3zM359.4,26.2l-0.8,-0.5l0.3,-1.0l0.8,0.5zM339.1,60.1l-0.4,-1.7l1.5,-0.9l0.4,1.7zM322.1,41.0l-1.0,0.3l-0.6,-0.9l1.0,-0.3zM384.0,42.4l-0.6,-0.9l0.7,-0.8l0.6,0.9zM382.1,33.6l0.1,-1.4l1.3,-0.2l-0.1,1.4zM331.8,45.5l-1.1,-1.1l0.7,-1.3l1.1,1.1zM348.3,31.2l0.7,-0.7l0.9,0.5l-0.7,0.7zM337.6,56.1l-1.5,-0.4l-0.0,-1.6l1.5,0.4zM357.3,70.5l-1.2,-0.5l0.2,-1.3l1.2,0.5zM313.9,58.2l-1.4,0.1l-0.5,-1.3l1.4,-0.1zM343.5,33.2l0.9,-0.9l1.1,0.6l-0.9,0.9zM339.0,48.1l-0.2,-1.4l1.2,-0.6l0.2,1.4zM310.2,55.7l1.4,-1.3l1.7,1.0l-1.4,1.3zM343.7,70.3l-0.5,-1.2l1.0,-0.8l0.5,1.2zM319.1,46.2l-1.0,-0.4l0.1,-1.1l1.0,0.4zM388.3,69.8l-1.6,0.4l-0.9,-1.4l1.6,-0.4zM369.2,56.2l-0.1,-1.9l1.8,-0.6l0.1,1.9zM338.8,75.2l-0.5,-1.6l1.4,-0.9l0.5,1.6zM375.9,75.6l-0.8,0.5l-0.7,-0.6l0.8,-0.5zM352.3,39.0l-0.5,-1.1l0.9,-0.8l0.5,1.1zM362.7,73.5l-1.6,-0.5l0.1,-1.7l1.6,0.5zM355.4,32.6l-1.7,-0.9l0.4,-1.9l1.7,0.9zM328.3,46.1l-1.0,-0.4l0.1,-1.1l1.0,0.4zM339.2,26.0l-1.5,0.8l-1.2,-1.2l1.5,-0.8zM339.8,63.4l-1.0,-1.0l0.7,-1.3l1.0,1.0zM361.3,39.5l-0.6,-1.3l1.1,-0.9l0.6,1.3zM327.7,71.6l-1.7,-0.8l0.3,-1.9l1.7,0.8zM363.8,44.5l-1.6,0.3l-0.7,-1.5l1.6,-0.3zM372.6,48.0l1.2,-1.3l1.6,0.8l-1.2,1.3zM316.7,36.5l0.7,-0.6l0.8,0.5l-0.7,0.6zM382.7,60.6l-0.2,-1.0l0.9,-0.5l0.2,1.0zM313.7,39.4l-0.1,-1.5l1.5,-0.5l0.1,1.5zM378.2,34.1l0.3,-1.4l1.4,-0.1l-0.3,1.4zM340.3,26.2l-0.8,-1.1l0.8,-1.1l0.8,1.1zM376.3,55.0l-0.5,-0.7l0.5,-0.7l0.5,0.7zM348.1,59.6l-1.0,-1.7l1.3,-1.4l1.0,1.7zM332.5,68.6l0.9,-1.1l1.3,0.6l-0.9,1.1zM359.9,60.6l1.0,-0.9l1.1,0.7l-1.0,0.9zM331.0,64.9l0.6,-0.7l0.9,0.4l-0.6,0.7zM345.2,46.3l-1.2,-0.3l0.0,-1.2l1.2,0.3zM379.6,28.6l-0.6,-0.7l0.5,-0.8l0.6,0.7zM335.1,58.1l-0.3,-1.3l1.1,-0.7l0.3,1.3zM338.2,64.8l-0.4,-0.8l0.7,-0.7l0.4,0.8zM339.0,53.3l-0.7,-0.5l0.3,-0.8l0.7,0.5zM334.4,53.9l-1.0,0.7l-1.0,-0.8l1.0,-0.7zM382.6,41.0l-0.8,-0.3l0.0,-0.9l0.8,0.3zM389.3,66.5l-1.5,1.0l-1.4,-1.2l1.5,-1.0zM353.0,27.0l0.9,-0.7l1.0,0.7l-0.9,0.7zM332.6,35.7l-0.9,0.1l-0.3,-0.9l0.9,-0.1zM314.7,28.0l-0.9,-1.7l1.4,-1.3l0.9,1.7zM313.4,56.8l0.7,-0.8l1.0,0.5l-0.7,0.8zM343.5,67.0l-0.9,-1.6l1.3,-1.3l0.9,1.6zM383.1,31.5l-1.5,-0.4l-0.1,-1.6l1.5,0.4zM359.6,58.3l0.3,-1.8l1.8,-0.2l-0.3,1.8zM331.4,37.2l1.0,-1.0l1.2,0.7l-1.0,1.0zM375.7,36.1l0.1,-1.5l1.4,-0.3l-0.1,1.5zM342.9,42.2l0.1,-1.3l1.3,-0.3l-0.1,1.3zM319.7,56.4l1.1,-1.4l1.6,0.7l-1.1,1.4zM356.8,70.5l-1.6,-0.4l-0.0,-1.6l1.6,0.4zM335.3,34.7l1.3,-1.5l1.8,0.8l-1.3,1.5zM376.9,52.3l-1.4,-0.2l-0.2,-1.4l1.4,0.2zM350.3,58.4l-1.2,0.5l-0.8,-1.0l1.2,-0.5zM370.5,47.5l0.7,-0.9l1.0,0.4l-0.7,0.9zM336.5,27.6l-1.3,-0.2l-0.2,-1.3l1.3,0.2zM348.7,34.2l1.2,-1.0l1.3,0.9l-1.2,1.0zM344.5,50.1l-0.4,-1.4l1.3,-0.7l0.4,1.4zM352.3,35.7l-1.2,0.6l-0.9,-1.0l1.2,-0.6zM382.1,28.4l0.8,-0.8l1.0,0.6l-0.8,0.8zM313.1,55.6l-1.8,0.4l-0.8,-1.6l1.8,-0.4zM368.0,50.9l0.6,-1.6l1.7,0.1l-0.6,1.6zM382.5,29.0l-1.4,-0.3l-0.1,-1.5l1.4,0.3zM351.5,47.7l-1.0,-1.3l0.9,-1.3l1.0,1.3zM342.0,29.0l-1.5,0.5l-0.9,-1.3l1.5,-0.5zM342.5,52.8l-0.1,-1.2l1.1,-0.4l0.1,1.2zM381.6,53.2l0.4,-0.8l0.9,0.2l-0.4,0.8zM329.5,69.8l-0.6,-0.9l0.7,-0.8l0.6,0.9zM315.8,49.1l-1.3,-1.2l0.8,-1.6l1.3,1.2zM322.2,54.7l-1.4,1.0l-1.4,-1.1l1.4,-1.0zM329.2,36.0l-1.4,-0.1l-0.3,-1.4l1.4,0.1zM386.6,65.2l-1.8,-0.6l0.0,-1.8l1.8,0.6zM327.6,51.3l-1.7,-0.2l-0.3,-1.7l1.7,0.2zM315.7,57.3l-0.5,-0.7l0.6,-0.7l0.5,0.7zM341.2,32.5l-0.1,-1.6l1.5,-0.5l0.1,1.6zM352.8,31.2l0.2,-1.4l1.4,-0.2l-0.2,1.4zM344.9,56.0l-0.9,0.1l-0.4,-0.8l0.9,-0.1zM330.1,66.4l-1.1,0.8l-1.0,-0.8l1.1,-0.8zM368.0,29.5l-0.1,-1.8l1.7,-0.6l0.1,1.8zM351.9,32.8l-1.5,-0.2l-0.2,-1.5l1.5,0.2zM357.1,29.5l-1.0,-0.7l0.4,-1.2l1.0,0.7zM346.2,39.8l-1.1,-0.5l0.2,-1.2l1.1,0.5z" fill="#7896c2"/>
<path d="M350.8,60.9l-0.5,-1.2l1.0,-0.8l0.5,1.2zM313.2,76.1l-0.7,-1.2l1.0,-1.0l0.7,1.2zM353.6,47.5l-1.9,-0.4l-0.2,-1.9l1.9,0.4zM381.7,52.8l-0.3,-0.9l0.8,-0.5l0.3,0.9zM360.5,62.1l-1.4,0.9l-1.2,-1.1l1.4,-0.9zM317.8,46.0l-0.6,-1.2l0.9,-0.9l0.6,1.2zM320.9,63.6l-1.0,0.2l-0.5,-0.9l1.0,-0.2zM335.8,53.4l0.2,-1.2l1.3,-0.1l-0.2,1.2zM354.6,53.4l-0.3,-1.3l1.1,-0.6l0.3,1.3zM352.6,73.9l-1.6,0.3l-0.8,-1.5l1.6,-0.3zM322.5,40.2l-0.9,0.3l-0.5,-0.8l0.9,-0.3zM347.7,43.9l0.2,-1.2l1.2,-0.2l-0.2,1.2zM352.7,64.8l-0.3,-1.9l1.7,-0.8l0.3,1.9zM338.5,44.3l0.4,-1.2l1.3,0.0l-0.4,1.2zM310.7,44.6l0.7,-0.7l0.8,0.5l-0.7,0.7zM340.0,34.5l-0.6,-0.9l0.7,-0.8l0.6,0.9zM351.6,48.5l-1.8,0.2l-0.7,-1.7l1.8,-0.2zM372.0,30.0l-1.6,0.8l-1.3,-1.3l1.6,-0.8zM331.5,62.5l-0.0,-1.0l0.9,-0.3l0.0,1.0zM346.0,27.4l-1.3,0.2l-0.5,-1.2l1.3,-0.2zM327.3,49.4l-1.0,0.3l-0.5,-0.9l1.0,-0.3zM328.9,71.2l-0.1,-1.9l1.8,-0.6l0.1,1.9zM350.7,37.5l0.8,-0.9l1.1,0.5l-0.8,0.9zM366.4,26.5l0.6,-0.9l1.0,0.3l-0.6,0.9zM358.9,30.0l1.2,-1.5l1.8,0.7l-1.2,1.5zM379.5,76.1l0.5,-0.7l0.8,0.3l-0.5,0.7zM371.6,66.6l-0.5,-1.0l0.8,-0.8l0.5,1.0zM376.3,56.0l0.9,-1.6l1.8,0.4l-0.9,1.6zM342.2,56.9l-1.2,-1.2l0.8,-1.5l1.2,1.2zM320.9,36.8l-0.6,-1.1l0.9,-0.9l0.6,1.1zM381.6,32.3l-1.8,-0.4l-0.1,-1.9l1.8,0.4zM331.6,60.2l-0.9,-0.6l0.3,-1.0l0.9,0.6zM370.1,58.5l-0.4,-1.5l1.3,-0.8l0.4,1.5zM316.5,29.5l-1.2,-0.7l0.4,-1.3l1.2,0.7zM344.0,44.8l-1.6,-0.2l-0.3,-1.6l1.6,0.2zM339.3,53.9l-1.6,-0.7l0.2,-1.7l1.6,0.7zM357.9,65.7l-0.2,-1.9l1.8,-0.7l0.2,1.9zM329.1,40.3l-1.8,0.2l-0.7,-1.7l1.8,-0.2zM319.6,74.0l-0.9,-0.7l0.5,-1.0l0.9,0.7zM360.0,39.6l-1.1,0.0l-0.3,-1.1l1.1,-0.0zM335.7,29.4l-1.0,0.2l-0.5,-0.9l1.0,-0.2zM374.3,66.9l-1.6,-0.5l0.1,-1.7l1.6,0.5zM336.8,63.2l-1.7,0.9l-1.4,-1.4l1.7,-0.9zM367.0,38.8l-1.8,-0.0l-0.5,-1.7l1.8,0.0zM385.4,36.8l-1.2,0.1l-0.4,-1.1l1.2,-0.1zM342.3,69.0l-1.4,0.6l-1.0,-1.2l1.4,-0.6zM317.5,59.2l-0.9,-0.6l0.3,-1.1l0.9,0.6zM365.0,60.4l-1.0,-0.6l0.3,-1.1l1.0,0.6zM352.5,31.3l-0.1,-0.9l0.8,-0.4l0.1,0.9zM333.9,65.9l-0.8,-0.8l0.6,-1.0l0.8,0.8zM353.3,59.5l-1.3,0.0l-0.4,-1.3l1.3,-0.0zM356.5,26.5l-1.5,-0.7l0.2,-1.7l1.5,0.7zM344.5,64.6l-0.1,-1.3l1.2,-0.5l0.1,1.3zM385.0,33.1l-1.0,0.6l-0.8,-0.8l1.0,-0.6zM344.4,45.7l-1.0,-1.3l0.9,-1.3l1.0,1.3zM380.2,28.6l0.6,-0.8l1.0,0.4l-0.6,0.8zM322.4,50.4l1.0,-1.0l1.2,0.7l-1.0,1.0zM384.8,27.2l-0.4,-1.3l1.1,-0.7l0.4,1.3zM356.7,47.3l-1.4,-0.2l-0.2,-1.4l1.4,0.2zM384.0,41.7l-1.5,0.2l-0.6,-1.3l1.5,-0.2zM334.5,71.0l-0.9,-0.3l0.0,-1.0l0.9,0.3zM346.2,58.4l1.1,-1.2l1.5,0.7l-1.1,1.2zM361.8,48.1l0.3,-1.3l1.3,-0.0l-0.3,1.3zM358.1,71.3l-0.8,-1.8l1.5,-1.3l0.8,1.8zM347.1,26.4l0.1,-0.9l0.9,-0.2l-0.1,0.9zM385.2,59.6l-1.6,-0.0l-0.4,-1.5l1.6,0.0zM337.8,62.3l-0.8,-0.4l0.1,-0.9l0.8,0.4zM313.4,64.8l-1.1,-0.5l0.1,-1.2l1.1,0.5zM382.8,66.7l-1.4,-0.4l-0.0,-1.4l1.4,0.4zM370.9,50.6l-1.3,0.6l-1.0,-1.1l1.3,-0.6zM364.4,64.4l-0.8,-1.1l0.8,-1.1l0.8,1.1zM365.9,64.7l-0.5,-1.3l1.1,-0.8l0.5,1.3zM380.0,60.5l-0.2,-1.1l1.0,-0.5l0.2,1.1zM326.4,27.3l-0.2,-1.0l0.9,-0.5l0.2,1.0zM333.8,71.3l0.1,-1.6l1.5,-0.4l-0.1,1.6zM324.5,34.8l-1.2,-0.9l0.5,-1.4l1.2,0.9zM371.8,34.4l0.9,-1.0l1.2,0.6l-0.9,1.0zM362.4,38.6l0.5,-1.0l1.1,0.2l-0.5,1.0zM339.7,59.5l-0.6,-1.1l0.9,-0.9l0.6,1.1zM371.6,45.6l1.2,-1.4l1.7,0.8l-1.2,1.4zM375.4,72.6l-1.0,-0.3l0.0,-1.0l1.0,0.3zM371.7,32.2l-1.0,-0.5l0.2,-1.1l1.0,0.5zM372.2,73.3l-0.3,-1.2l1.0,-0.6l0.3,1.2zM346.8,35.9l0.4,-1.1l1.2,0.0l-0.4,1.1zM368.5,54.4l-0.4,-1.1l0.9,-0.6l0.4,1.1zM359.3,67.7l-1.6,0.6l-1.0,-1.4l1.6,-0.6zM359.1,30.3l-1.0,0.7l-1.0,-0.7l1.0,-0.7zM360.5,50.2l-1.6,0.1l-0.6,-1.5l1.6,-0.1zM377.3,52.8l-1.0,0.7l-0.9,-0.8l1.0,-0.7zM338.5,27.3l-0.1,-0.9l0.9,-0.4l0.1,0.9zM336.3,35.2l0.2,-1.2l1.2,-0.1l-0.2,1.2zM343.3,56.0l-1.2,0.6l-0.9,-1.0l1.2,-0.6zM314.0,46.5l0.9,-1.1l1.3,0.6l-0.9,1.1zM312.6,71.3l-0.6,-1.1l0.9,-0.9l0.6,1.1zM357.9,72.1l-0.9,0.2l-0.4,-0.8l0.9,-0.2zM343.0,42.5l1.0,-1.6l1.8,0.5l-1.0,1.6zM347.3,42.6l0.6,-0.7l0.9,0.4l-0.6,0.7zM352.6,28.3l0.4,-1.3l1.4,0.1l-0.4,1.3zM383.8,67.9l0.4,-1.9l2.0,-0.1l-0.4,1.9zM363.7,30.7l0.1,-1.2l1.2,-0.2l-0.1,1.2zM322.8,27.6l-1.1,-0.9l0.5,-1.3l1.1,0.9zM366.3,37.8l0.6,-0.8l0.9,0.4l-0.6,0.8zM357.2,56.2l-0.8,-1.1l0.8,-1.1l0.8,1.1zM321.7,54.3l0.7,-0.6l0.7,0.5l-0.7,0.6zM338.6,69.2l-1.4,0.0l-0.4,-1.4l1.4,-0.0zM364.2,48.2l0.2,-1.9l1.9,-0.3l-0.2,1.9zM379.8,48.2l1.2,-1.0l1.3,0.8l-1.2,1.0zM382.3,75.4l-1.6,0.5l-1.0,-1.4l1.6,-0.5zM339.9,50.5l-0.6,-0.7l0.5,-0.8l0.6,0.7zM379.1,27.5l-0.8,-0.8l0.5,-1.0l0.8,0.8zM352.9,40.0l1.2,-1.5l1.8,0.7l-1.2,1.5zM336.3,52.7l-1.2,-0.1l-0.3,-1.2l1.2,0.1zM381.0,26.0l-0.9,-0.3l0.1,-1.0l0.9,0.3zM354.0,72.0l-1.1,-1.0l0.7,-1.3l1.1,1.0zM356.3,59.1l1.0,-1.1l1.4,0.6l-1.0,1.1zM365.9,69.8l-1.5,-1.1l0.7,-1.7l1.5,1.1z" fill="#3d5f95"/>
<path d="M378.3,47.7l-0.8,-0.4l0.1,-0.9l0.8,0.4zM371.0,32.5l0.6,-0.8l1.0,0.3l-0.6,0.8zM364.8,64.9l-1.3,-0.4l-0.0,-1.3l1.3,0.4zM328.2,70.0l-1.9,-0.4l-0.1,-1.9l1.9,0.4zM360.9,68.2l-1.5,0.0l-0.4,-1.5l1.5,-0.0zM340.2,44.8l-1.9,0.2l-0.7,-1.7l1.9,-0.2zM378.1,73.2l-0.6,-1.8l1.6,-1.1l0.6,1.8zM320.5,71.0l-1.7,0.9l-1.4,-1.4l1.7,-0.9zM320.6,37.4l-1.2,0.6l-0.9,-1.0l1.2,-0.6zM337.2,53.9l-0.5,-1.2l1.0,-0.9l0.5,1.2zM386.9,69.3l-1.3,0.6l-1.0,-1.1l1.3,-0.6zM384.5,47.6l-1.4,-0.5l0.1,-1.4l1.4,0.5zM370.1,26.6l-1.5,0.8l-1.2,-1.2l1.5,-0.8zM346.9,35.8l-0.9,0.1l-0.4,-0.8l0.9,-0.1zM339.9,33.0l-1.3,-0.2l-0.1,-1.3l1.3,0.2zM354.8,47.4l0.6,-1.6l1.7,0.1l-0.6,1.6zM374.1,45.1l-1.5,-0.6l0.1,-1.6l1.5,0.6zM356.8,49.0l-1.1,0.5l-0.7,-0.9l1.1,-0.5zM313.4,41.4l-1.7,0.7l-1.2,-1.5l1.7,-0.7zM313.6,52.5l-1.4,-0.4l0.0,-1.5l1.4,0.4zM312.8,69.4l-0.6,-1.2l0.9,-0.9l0.6,1.2zM383.2,66.9l0.4,-1.2l1.3,-0.0l-0.4,1.2zM318.2,64.5l-1.4,-0.4l0.0,-1.5l1.4,0.4zM318.2,62.0l0.7,-0.9l1.1,0.4l-0.7,0.9zM367.1,38.5l-0.6,-1.3l1.1,-1.0l0.6,1.3zM345.3,55.4l-1.7,-0.7l0.2,-1.9l1.7,0.7zM343.0,31.8l0.3,-0.9l0.9,-0.0l-0.3,0.9zM374.7,46.1l-1.2,-0.1l-0.3,-1.2l1.2,0.1zM339.8,60.6l-1.0,-1.5l1.2,-1.4l1.0,1.5zM317.3,72.3l-0.8,-0.2l-0.0,-0.9l0.8,0.2zM318.9,48.3l0.3,-1.6l1.6,-0.1l-0.3,1.6zM358.2,57.7l-1.3,-1.2l0.8,-1.6l1.3,1.2zM355.4,77.3l-0.1,-1.7l1.6,-0.5l0.1,1.7zM350.0,63.5l0.9,-1.1l1.3,0.6l-0.9,1.1zM339.3,71.4l0.0,-1.8l1.7,-0.5l-0.0,1.8zM381.7,27.6l-1.0,-0.2l-0.1,-1.0l1.0,0.2zM349.8,49.8l-0.9,0.0l-0.3,-0.8l0.9,-0.0zM324.1,57.9l-1.3,-0.4l-0.0,-1.4l1.3,0.4zM329.8,42.3l0.1,-1.0l1.0,-0.2l-0.1,1.0zM323.7,70.9l-1.1,0.2l-0.5,-1.0l1.1,-0.2zM373.0,46.1l-0.2,-0.9l0.8,-0.5l0.2,0.9zM338.9,64.8l-0.8,-0.9l0.6,-1.0l0.8,0.9zM327.7,56.2l0.9,-1.2l1.4,0.6l-0.9,1.2zM336.2,58.0l-1.2,-0.0l-0.3,-1.1l1.2,0.0zM327.4,65.3l-0.7,-0.8l0.5,-0.9l0.7,0.8zM320.6,32.4l-0.5,-1.8l1.6,-1.0l0.5,1.8zM373.7,69.9l-0.2,-1.5l1.4,-0.6l0.2,1.5zM372.9,73.7l-1.4,-0.0l-0.4,-1.4l1.4,0.0zM379.9,27.2l-0.5,-1.1l0.9,-0.8l0.5,1.1zM386.0,65.7l-0.4,-0.9l0.7,-0.6l0.4,0.9zM316.4,38.5l-0.9,-1.3l1.0,-1.2l0.9,1.3zM367.4,62.5l-0.3,-1.0l0.9,-0.5l0.3,1.0zM341.7,51.8l-0.4,-1.8l1.7,-0.9l0.4,1.8zM386.8,54.0l0.6,-0.8l0.9,0.4l-0.6,0.8zM319.3,57.9l-1.1,-0.2l-0.1,-1.1l1.1,0.2zM337.8,31.2l-1.1,0.5l-0.8,-0.9l1.1,-0.5zM350.7,62.9l0.9,-0.9l1.1,0.6l-0.9,0.9zM319.3,69.0l0.0,-1.6l1.5,-0.4l-0.0,1.6zM383.1,36.3l-1.3,0.3l-0.6,-1.2l1.3,-0.3zM323.1,44.0l-0.1,-1.5l1.4,-0.5l0.1,1.5zM345.0,66.0l-1.6,-0.1l-0.3,-1.5l1.6,0.1zM355.6,43.3l-1.1,0.3l-0.6,-0.9l1.1,-0.3zM347.6,55.8l0.9,-1.3l1.5,0.5l-0.9,1.3zM313.3,41.6l-0.8,-0.4l0.1,-0.9l0.8,0.4zM368.4,60.1l-1.6,0.6l-1.0,-1.4l1.6,-0.6zM387.1,37.1l-0.6,-1.8l1.5,-1.1l0.6,1.8zM334.8,35.2l-0.5,-0.8l0.6,-0.7l0.5,0.8zM319.4,51.4l-1.3,-1.3l0.9,-1.6l1.3,1.3zM347.6,61.0l-1.1,-0.8l0.4,-1.3l1.1,0.8zM383.1,50.9l0.7,-1.4l1.6,0.3l-0.7,1.4zM314.4,39.8l0.3,-0.8l0.9,0.1l-0.3,0.8zM374.0,38.6l-1.8,0.6l-1.1,-1.5l1.8,-0.6zM329.6,73.0l-0.1,-0.9l0.8,-0.4l0.1,0.9zM332.8,45.8l-0.0,-1.1l1.1,-0.4l0.0,1.1zM382.2,41.2l-1.8,-0.6l0.0,-1.9l1.8,0.6zM350.1,27.1l-1.6,0.8l-1.3,-1.3l1.6,-0.8zM369.8,52.9l-1.0,-0.6l0.3,-1.1l1.0,0.6zM383.6,72.4l-0.9,-0.7l0.4,-1.0l0.9,0.7zM324.4,75.9l0.1,-1.7l1.7,-0.4l-0.1,1.7zM313.3,69.3l-1.3,-1.0l0.6,-1.5l1.3,1.0zM318.2,64.1l-1.1,-1.1l0.7,-1.4l1.1,1.1zM333.4,56.0l0.7,-0.6l0.8,0.5l-0.7,0.6zM366.1,65.6l-1.1,-1.3l0.9,-1.4l1.1,1.3zM374.0,46.8l-0.9,0.5l-0.7,-0.7l0.9,-0.5zM340.9,52.0l-0.5,-1.3l1.1,-0.9l0.5,1.3zM334.5,28.0l-1.2,-1.2l0.8,-1.5l1.2,1.2zM350.5,45.2l-0.1,-1.9l1.8,-0.6l0.1,1.9zM317.3,39.2l-1.5,-1.2l0.8,-1.8l1.5,1.2zM375.2,76.1l-1.6,1.0l-1.4,-1.2l1.6,-1.0zM336.5,34.6l-1.7,0.6l-1.1,-1.5l1.7,-0.6zM342.2,74.2l-1.6,0.1l-0.6,-1.5l1.6,-0.1zM349.1,52.0l-0.4,-1.7l1.5,-0.9l0.4,1.7zM345.0,50.2l0.4,-0.8l0.9,0.2l-0.4,0.8zM355.5,60.3l0.8,-1.2l1.4,0.4l-0.8,1.2zM314.5,35.3l-1.4,0.1l-0.5,-1.3l1.4,-0.1zM342.3,35.6l-0.2,-1.7l1.5,-0.6l0.2,1.7zM384.9,63.3l-0.5,-0.8l0.6,-0.7l0.5,0.8zM381.2,66.4l-0.9,-0.1l-0.2,-0.9l0.9,0.1zM356.1,57.4l0.5,-1.6l1.7,-0.0l-0.5,1.6zM364.6,27.6l-1.2,0.4l-0.7,-1.0l1.2,-0.4zM334.0,50.2l0.3,-1.0l1.1,0.0l-0.3,1.0zM320.5,67.3l-0.1,-0.9l0.9,-0.4l0.1,0.9zM346.9,54.4l-0.8,-1.3l1.0,-1.1l0.8,1.3zM386.2,61.7l-0.9,-0.6l0.3,-1.0l0.9,0.6zM349.6,44.0l-1.4,-0.9l0.5,-1.6l1.4,0.9zM346.6,53.7l-0.8,-1.2l1.0,-1.1l0.8,1.2zM325.4,45.9l-1.1,-0.9l0.6,-1.3l1.1,0.9zM379.1,57.1l-1.7,0.2l-0.6,-1.5l1.7,-0.2zM339.2,26.7l-1.1,-1.4l1.0,-1.5l1.1,1.4zM347.8,35.2l0.7,-0.5l0.7,0.5l-0.7,0.5zM329.2,30.9l0.4,-1.7l1.8,-0.1l-0.4,1.7zM323.5,55.4l-1.1,-1.1l0.8,-1.3l1.1,1.1zM316.4,34.0l-0.8,-0.4l0.1,-0.9l0.8,0.4zM388.0,34.6l-1.7,-0.0l-0.4,-1.6l1.7,0.0zM353.6,77.3l-1.1,-1.5l1.1,-1.5l1.1,1.5zM381.1,64.4l-0.5,-1.0l0.9,-0.8l0.5,1.0zM381.3,42.9l-1.6,1.0l-1.4,-1.3l1.6,-1.0zM356.6,42.5l-1.2,-0.3l-0.0,-1.3l1.2,0.3zM353.4,44.1l-0.6,-0.8l0.6,-0.8l0.6,0.8zM325.5,62.2l-1.0,-0.1l-0.2,-1.0l1.0,0.1zM332.6,58.6l1.0,-0.9l1.1,0.7l-1.0,0.9zM343.3,56.8l-0.2,-1.1l1.0,-0.5l0.2,1.1zM359.2,73.1l0.8,-0.7l0.9,0.6l-0.8,0.7zM350.2,77.0l-1.5,-0.3l-0.1,-1.5l1.5,0.3zM379.0,48.0l-1.3,0.2l-0.6,-1.2l1.3,-0.2zM330.2,31.0l-0.9,-0.1l-0.2,-0.9l0.9,0.1zM365.0,37.7l-1.6,-0.3l-0.2,-1.6l1.6,0.3zM350.3,62.5l0.4,-1.4l1.5,-0.1l-0.4,1.4zM350.2,67.4l-0.8,-1.3l1.0,-1.2l0.8,1.3zM374.7,66.1l-0.9,-1.4l1.1,-1.2l0.9,1.4zM373.7,68.2l0.6,-0.8l1.0,0.3l-0.6,0.8zM347.6,50.0l-1.0,-0.8l0.5,-1.1l1.0,0.8zM368.5,47.1l-1.6,-0.9l0.5,-1.8l1.6,0.9zM334.9,60.5l0.7,-0.7l0.9,0.5l-0.7,0.7z" fill="#98b0d0"/>
<path d="M323.6,26.4l-1.0,-0.5l0.2,-1.1l1.0,0.5zM355.1,32.9l0.6,-1.8l1.9,0.1l-0.6,1.8zM349.1,64.6l0.6,-1.3l1.4,0.2l-0.6,1.3zM325.4,33.4l-1.1,0.4l-0.7,-0.9l1.1,-0.4zM368.3,35.0l0.7,-0.9l1.0,0.4l-0.7,0.9zM316.7,59.9l1.1,-0.9l1.2,0.8l-1.1,0.9zM376.4,65.4l-1.3,-0.2l-0.2,-1.3l1.3,0.2zM343.7,56.0l1.1,-1.5l1.7,0.7l-1.1,1.5zM372.5,29.6l-0.9,0.3l-0.5,-0.8l0.9,-0.3zM364.0,50.7l-1.3,0.6l-0.9,-1.1l1.3,-0.6zM359.4,28.6l-1.5,-0.7l0.3,-1.7l1.5,0.7zM333.3,71.0l-1.3,0.4l-0.7,-1.2l1.3,-0.4zM325.5,37.1l-0.7,-0.8l0.6,-0.9l0.7,0.8zM380.2,66.7l0.8,-0.6l0.8,0.6l-0.8,0.6zM361.6,26.6l-0.8,-1.0l0.7,-1.1l0.8,1.0zM363.3,38.5l-1.0,0.3l-0.6,-0.9l1.0,-0.3zM335.6,40.0l-1.3,-0.5l0.2,-1.4l1.3,0.5zM348.7,73.6l-1.3,-0.9l0.5,-1.5l1.3,0.9zM363.6,75.6l1.3,-1.1l1.4,1.0l-1.3,1.1zM325.1,73.9l0.8,-1.8l2.0,0.2l-0.8,1.8zM321.8,73.3l0.5,-0.7l0.8,0.3l-0.5,0.7zM382.6,59.3l0.5,-1.1l1.2,0.2l-0.5,1.1zM336.2,58.5l0.2,-0.9l0.9,-0.0l-0.2,0.9zM380.0,50.3l-1.5,-1.1l0.7,-1.7l1.5,1.1zM337.6,49.3l0.8,-0.6l0.8,0.6l-0.8,0.6zM316.7,37.3l-0.1,-1.2l1.1,-0.4l0.1,1.2zM354.0,59.2l-0.8,-1.0l0.7,-1.0l0.8,1.0zM312.9,41.2l-0.1,-1.8l1.7,-0.6l0.1,1.8zM343.8,62.2l-0.9,-1.5l1.2,-1.3l0.9,1.5zM339.4,38.3l0.5,-1.3l1.4,0.2l-0.5,1.3zM386.0,32.5l1.0,-0.9l1.1,0.8l-1.0,0.9zM342.0,38.4l-1.6,0.8l-1.3,-1.3l1.6,-0.8zM321.8,62.3l-0.8,-0.8l0.5,-1.0l0.8,0.8zM360.5,55.3l-1.7,-0.5l0.0,-1.8l1.7,0.5zM363.1,73.1l-1.0,-0.5l0.2,-1.1l1.0,0.5zM341.6,50.1l0.0,-1.0l1.0,-0.3l-0.0,1.0zM354.9,61.4l0.9,-1.2l1.4,0.5l-0.9,1.2zM340.7,69.4l-1.1,-0.4l0.1,-1.2l1.1,0.4zM336.8,71.4l0.6,-0.6l0.8,0.4l-0.6,0.6zM379.5,77.1l-1.7,-0.6l0.1,-1.8l1.7,0.6zM368.7,61.4l-1.1,-0.2l-0.2,-1.1l1.1,0.2zM353.6,32.9l0.0,-2.0l1.9,-0.5l-0.0,2.0zM342.4,57.6l1.0,-0.8l1.1,0.7l-1.0,0.8zM389.1,48.0l-1.6,0.8l-1.3,-1.3l1.6,-0.8zM378.3,73.9l-1.3,0.6l-0.9,-1.1l1.3,-0.6zM346.2,41.7l-0.9,-0.3l0.1,-0.9l0.9,0.3zM313.2,62.8l-1.4,0.7l-1.1,-1.2l1.4,-0.7zM358.2,43.7l-0.3,-1.3l1.2,-0.7l0.3,1.3zM313.1,47.7l-1.4,-0.1l-0.2,-1.4l1.4,0.1zM385.9,35.8l1.1,-1.0l1.3,0.8l-1.1,1.0zM350.4,74.4l-1.0,-0.8l0.5,-1.1l1.0,0.8zM338.8,33.0l0.4,-1.2l1.3,-0.0l-0.4,1.2zM336.5,68.3l-1.7,-0.4l-0.1,-1.7l1.7,0.4zM382.0,58.4l0.1,-0.9l0.9,-0.1l-0.1,0.9zM374.3,48.2l-1.7,0.8l-1.2,-1.4l1.7,-0.8zM365.0,46.7l-0.7,-1.5l1.2,-1.1l0.7,1.5zM348.2,76.5l-0.8,-0.9l0.7,-1.0l0.8,0.9zM316.9,68.1l-1.3,-0.0l-0.3,-1.2l1.3,0.0zM363.8,51.5l-0.9,-0.5l0.2,-1.0l0.9,0.5zM346.0,45.4l-1.0,-1.3l1.0,-1.3l1.0,1.3zM382.8,53.5l-1.3,0.1l-0.5,-1.3l1.3,-0.1zM319.1,33.0l-0.7,-0.8l0.6,-0.9l0.7,0.8zM320.3,60.4l1.0,-1.5l1.8,0.5l-1.0,1.5zM379.5,75.9l-1.5,0.8l-1.2,-1.2l1.5,-0.8zM314.5,33.8l0.4,-1.0l1.0,0.1l-0.4,1.0zM384.8,39.6l-0.8,0.6l-0.8,-0.6l0.8,-0.6zM382.6,61.3l-1.7,-0.4l-0.1,-1.7l1.7,0.4zM376.9,54.7l1.2,-1.5l1.8,0.8l-1.2,1.5zM337.0,64.7l-1.4,0.7l-1.1,-1.2l1.4,-0.7zM367.3,46.3l0.8,-1.4l1.5,0.3l-0.8,1.4zM358.8,36.6l-0.7,-0.9l0.6,-0.9l0.7,0.9zM321.7,66.2l-0.7,-1.0l0.8,-0.9l0.7,1.0zM324.7,44.4l-1.1,-0.2l-0.1,-1.1l1.1,0.2zM343.3,68.6l0.3,-1.8l1.9,-0.2l-0.3,1.8zM361.2,39.4l-1.8,-0.1l-0.4,-1.7l1.8,0.1zM325.1,43.3l-1.6,0.3l-0.8,-1.5l1.6,-0.3zM388.1,67.3l-1.9,0.1l-0.6,-1.7l1.9,-0.1zM330.8,40.5l-1.7,0.5l-0.9,-1.5l1.7,-0.5zM360.6,59.6l-1.5,-0.6l0.1,-1.6l1.5,0.6zM382.5,32.2l0.7,-1.1l1.2,0.3l-0.7,1.1zM332.8,64.7l0.2,-1.7l1.7,-0.3l-0.2,1.7zM320.9,61.4l-1.5,-0.3l-0.1,-1.5l1.5,0.3zM386.7,58.0l0.6,-0.7l0.8,0.3l-0.6,0.7zM386.1,31.6l-1.3,0.8l-1.1,-1.0l1.3,-0.8zM316.9,32.1l-1.4,0.5l-0.9,-1.2l1.4,-0.5zM380.3,63.9l-0.9,0.1l-0.4,-0.8l0.9,-0.1zM354.2,42.0l-1.0,-0.2l-0.1,-1.0l1.0,0.2zM331.0,60.7l-1.8,-0.1l-0.4,-1.8l1.8,0.1zM366.1,75.8l-1.3,0.5l-0.9,-1.1l1.3,-0.5zM321.1,58.4l-0.7,-1.6l1.3,-1.1l0.7,1.6zM350.9,46.7l0.8,-1.2l1.4,0.4l-0.8,1.2zM369.9,66.3l0.7,-1.2l1.4,0.4l-0.7,1.2zM371.1,39.9l-0.6,-0.7l0.5,-0.8l0.6,0.7zM320.7,48.9l-0.7,-0.9l0.7,-0.9l0.7,0.9zM328.8,38.7l-0.9,-1.0l0.8,-1.1l0.9,1.0zM366.2,58.9l-1.0,0.6l-0.9,-0.8l1.0,-0.6zM331.1,31.8l-0.7,-1.8l1.5,-1.2l0.7,1.8zM352.5,59.5l-1.2,0.3l-0.6,-1.1l1.2,-0.3zM330.2,74.1l0.7,-0.7l0.9,0.5l-0.7,0.7zM380.8,76.7l-1.3,0.0l-0.4,-1.3l1.3,-0.0zM381.9,77.1l-1.8,-0.3l-0.2,-1.8l1.8,0.3zM350.5,61.3l-0.6,-0.9l0.7,-0.8l0.6,0.9zM349.8,48.5l-0.9,-0.2l-0.1,-0.9l0.9,0.2zM321.0,74.5l-1.5,-1.0l0.5,-1.7l1.5,1.0zM378.5,35.3l0.4,-1.3l1.4,0.0l-0.4,1.3zM360.3,67.7l-1.5,0.7l-1.1,-1.2l1.5,-0.7zM318.1,29.3l-1.3,0.2l-0.6,-1.2l1.3,-0.2zM332.2,69.4l-0.6,-1.4l1.1,-1.0l0.6,1.4zM316.9,52.7l-0.1,-1.0l1.0,-0.4l0.1,1.0zM347.7,60.7l-1.0,0.4l-0.6,-0.9l1.0,-0.4zM332.4,44.5l0.7,-1.1l1.3,0.4l-0.7,1.1zM344.1,64.3l-0.2,-1.5l1.4,-0.6l0.2,1.5zM344.9,35.9l-1.9,-0.4l-0.1,-1.9l1.9,0.4zM353.8,70.2l-0.9,-0.1l-0.2,-0.9l0.9,0.1zM352.3,42.3l0.9,-0.7l0.9,0.6l-0.9,0.7zM347.6,74.7l-1.1,0.6l-0.8,-0.9l1.1,-0.6zM334.4,51.4l0.1,-1.9l1.9,-0.4l-0.1,1.9zM349.6,34.2l0.7,-0.6l0.8,0.5l-0.7,0.6zM377.5,54.4l-0.6,-1.0l0.8,-0.8l0.6,1.0zM322.6,53.7l-1.0,0.7l-0.9,-0.7l1.0,-0.7zM346.7,58.9l-1.0,-1.1l0.8,-1.2l1.0,1.1zM355.9,29.4l-0.3,-1.1l1.0,-0.6l0.3,1.1zM378.4,29.3l-0.1,-1.2l1.1,-0.4l0.1,1.2zM369.9,37.4l-1.2,-0.3l-0.0,-1.2l1.2,0.3zM368.7,35.8l-0.7,-1.1l0.8,-1.0l0.7,1.1zM334.9,60.8l0.8,-1.8l1.9,0.3l-0.8,1.8zM359.1,66.4l-0.2,-1.8l1.6,-0.7l0.2,1.8z" fill="#6a8cbc"/>
<path d="M366.2,58.2l0.9,-1.2l1.3,0.5l-0.9,1.2zM329.5,60.0l1.1,-1.6l1.8,0.6l-1.1,1.6zM346.5,31.8l0.9,-1.0l1.2,0.6l-0.9,1.0zM359.6,59.0l-0.7,-1.3l1.0,-1.0l0.7,1.3zM366.6,35.4l-1.3,0.9l-1.2,-1.0l1.3,-0.9zM372.8,50.5l-0.4,-0.8l0.6,-0.6l0.4,0.8zM317.0,74.3l-1.3,0.5l-0.8,-1.1l1.3,-0.5zM349.3,26.5l0.8,-1.7l1.8,0.3l-0.8,1.7zM329.1,62.7l-1.1,-0.1l-0.2,-1.1l1.1,0.1zM375.0,29.2l0.4,-0.9l1.0,0.1l-0.4,0.9zM355.3,35.1l-1.6,-0.4l-0.1,-1.7l1.6,0.4zM360.3,37.9l0.6,-0.9l1.0,0.4l-0.6,0.9zM336.2,48.7l0.9,-0.8l1.1,0.6l-0.9,0.8zM361.7,52.4l-1.6,0.5l-0.9,-1.4l1.6,-0.5zM369.3,42.2l-0.7,-1.3l1.0,-1.0l0.7,1.3zM332.4,53.0l-1.0,0.1l-0.4,-0.9l1.0,-0.1zM318.4,45.9l0.5,-1.3l1.4,0.1l-0.5,1.3zM332.4,30.9l1.3,-1.1l1.4,1.0l-1.3,1.1zM383.8,65.1l-1.6,-1.1l0.6,-1.8l1.6,1.1zM344.8,65.7l-0.9,-0.8l0.5,-1.1l0.9,0.8zM349.8,59.5l-0.1,-1.7l1.6,-0.5l0.1,1.7zM320.1,45.4l-1.4,-0.4l-0.0,-1.4l1.4,0.4zM355.0,39.9l-1.7,-0.7l0.2,-1.9l1.7,0.7zM372.5,48.4l1.0,-0.8l1.1,0.7l-1.0,0.8zM382.2,56.7l-1.3,0.9l-1.2,-1.0l1.3,-0.9zM360.0,61.5l-1.6,-0.4l-0.1,-1.7l1.6,0.4zM378.2,77.6l-0.2,-1.7l1.5,-0.7l0.2,1.7zM366.3,33.2l-1.2,-1.1l0.7,-1.4l1.2,1.1zM350.6,74.6l0.2,-1.0l1.0,-0.1l-0.2,1.0zM331.5,56.1l-0.5,-0.8l0.6,-0.7l0.5,0.8zM364.7,74.8l0.2,-1.0l1.0,-0.1l-0.2,1.0zM370.1,32.3l0.7,-0.9l1.0,0.4l-0.7,0.9zM340.5,56.5l-0.8,0.5l-0.8,-0.7l0.8,-0.5zM320.2,65.8l-0.3,-1.2l1.1,-0.6l0.3,1.2zM352.5,63.9l-1.8,0.3l-0.8,-1.7l1.8,-0.3zM386.0,26.2l-0.2,-1.4l1.3,-0.6l0.2,1.4zM352.7,58.1l-0.1,-1.5l1.4,-0.5l0.1,1.5zM367.0,42.4l-1.2,-0.0l-0.3,-1.2l1.2,0.0zM379.3,29.3l-0.7,-1.1l0.8,-0.9l0.7,1.1zM353.4,59.7l-1.7,0.6l-1.0,-1.4l1.7,-0.6zM313.7,30.1l1.3,-1.4l1.7,0.9l-1.3,1.4zM326.7,71.3l-0.4,-1.1l1.0,-0.7l0.4,1.1zM349.5,54.8l0.1,-1.0l1.0,-0.2l-0.1,1.0zM368.8,48.5l-1.2,-0.7l0.4,-1.3l1.2,0.7zM377.2,59.0l-1.8,0.5l-1.0,-1.6l1.8,-0.5zM354.8,77.1l-1.2,-0.5l0.2,-1.3l1.2,0.5zM365.8,59.6l0.9,-0.9l1.1,0.6l-0.9,0.9zM387.1,76.8l-1.3,-0.1l-0.3,-1.3l1.3,0.1zM310.6,75.3l0.2,-1.6l1.6,-0.3l-0.2,1.6zM329.4,67.3l0.9,-1.4l1.6,0.5l-0.9,1.4zM353.8,34.9l0.0,-1.5l1.5,-0.4l-0.0,1.5zM319.6,67.8l0.4,-1.0l1.1,0.1l-0.4,1.0zM364.3,69.1l-0.4,-1.0l0.9,-0.7l0.4,1.0zM336.0,51.6l-1.3,-0.6l0.2,-1.4l1.3,0.6zM376.0,36.7l0.4,-1.4l1.5,0.0l-0.4,1.4zM345.7,56.4l-0.5,-1.3l1.1,-0.8l0.5,1.3zM345.9,50.9l-0.3,-1.1l0.9,-0.6l0.3,1.1zM370.7,66.9l-0.9,0.1l-0.4,-0.9l0.9,-0.1zM331.8,29.4l-0.9,-0.2l-0.0,-0.9l0.9,0.2zM350.2,70.8l-0.5,-0.9l0.7,-0.7l0.5,0.9zM353.8,75.7l1.2,-1.1l1.4,0.9l-1.2,1.1zM385.7,72.7l-1.5,1.0l-1.4,-1.2l1.5,-1.0zM322.4,35.8l-0.6,-1.4l1.2,-1.0l0.6,1.4zM342.0,32.9l-1.7,-0.2l-0.3,-1.7l1.7,0.2zM348.0,32.1l-0.9,-1.4l1.1,-1.3l0.9,1.4zM338.4,28.7l-0.6,-0.7l0.5,-0.8l0.6,0.7zM347.3,47.5l-0.3,-1.5l1.4,-0.7l0.3,1.5zM342.7,70.9l-1.1,0.4l-0.7,-0.9l1.1,-0.4zM338.6,71.6l1.3,-1.5l1.8,0.8l-1.3,1.5zM344.3,30.6l-1.0,-0.7l0.4,-1.2l1.0,0.7zM341.1,65.9l1.0,-1.2l1.4,0.7l-1.0,1.2zM364.8,27.9l-0.8,-1.7l1.4,-1.2l0.8,1.7zM336.1,59.8l-1.4,-1.3l0.8,-1.7l1.4,1.3zM346.7,56.5l0.7,-1.0l1.2,0.3l-0.7,1.0zM361.5,69.4l0.7,-1.5l1.7,0.2l-0.7,1.5zM357.5,39.1l-0.9,0.3l-0.6,-0.8l0.9,-0.3zM362.2,35.2l0.7,-1.3l1.4,0.4l-0.7,1.3zM327.5,55.5l0.6,-1.4l1.6,0.2l-0.6,1.4zM314.0,35.8l-1.0,-0.9l0.6,-1.2l1.0,0.9zM319.1,76.6l-0.1,-1.7l1.6,-0.6l0.1,1.7zM356.9,35.3l0.6,-1.2l1.3,0.3l-0.6,1.2zM370.7,53.8l-0.2,-1.5l1.4,-0.7l0.2,1.5zM385.5,42.8l0.2,-1.3l1.3,-0.1l-0.2,1.3zM377.1,67.2l-1.6,-0.4l-0.0,-1.6l1.6,0.4zM355.9,72.7l-1.4,-1.4l0.9,-1.7l1.4,1.4zM322.8,28.1l-1.0,-0.3l0.0,-1.0l1.0,0.3zM355.2,26.5l-0.3,-1.9l1.8,-0.9l0.3,1.9zM334.7,33.2l-0.4,-1.5l1.3,-0.8l0.4,1.5zM340.7,49.8l-0.9,-0.3l0.0,-0.9l0.9,0.3zM344.9,43.4l1.0,-0.9l1.2,0.7l-1.0,0.9zM362.3,36.3l0.6,-1.8l1.9,0.1l-0.6,1.8zM314.2,41.7l-1.5,-1.2l0.7,-1.7l1.5,1.2zM369.6,34.0l-0.7,-0.8l0.6,-0.9l0.7,0.8zM323.5,47.6l-0.6,-1.2l0.9,-0.9l0.6,1.2zM386.7,73.8l-0.5,-1.7l1.5,-0.9l0.5,1.7zM355.7,74.2l0.7,-1.7l1.9,0.2l-0.7,1.7zM316.9,36.0l1.1,-1.2l1.5,0.8l-1.1,1.2zM322.0,44.2l-1.8,-0.4l-0.1,-1.9l1.8,0.4zM383.6,73.9l-0.3,-1.8l1.6,-0.8l0.3,1.8zM335.9,61.1l0.2,-1.8l1.8,-0.3l-0.2,1.8zM315.8,46.4l-0.9,-1.1l0.8,-1.2l0.9,1.1zM375.1,55.5l-0.8,0.5l-0.8,-0.6l0.8,-0.5zM357.2,56.8l-0.3,-1.0l0.9,-0.6l0.3,1.0zM379.1,75.1l-0.0,-1.7l1.6,-0.5l0.0,1.7zM323.8,49.3l-0.2,-1.3l1.2,-0.5l0.2,1.3zM310.7,66.2l0.3,-0.9l0.9,0.1l-0.3,0.9zM324.4,47.6l-0.6,-1.5l1.3,-1.0l0.6,1.5zM310.9,75.9l-0.6,-1.6l1.3,-1.0l0.6,1.6zM319.1,27.7l-0.9,-1.3l1.0,-1.2l0.9,1.3zM329.1,32.0l0.5,-1.1l1.2,0.1l-0.5,1.1zM388.2,51.4l-1.1,0.6l-0.9,-0.9l1.1,-0.6zM310.9,31.9l0.4,-0.8l0.9,0.2l-0.4,0.8zM320.2,55.6l1.3,-0.9l1.3,0.9l-1.3,0.9zM312.7,70.8l-0.2,-1.6l1.5,-0.7l0.2,1.6zM327.9,43.5l-0.6,-0.6l0.4,-0.8l0.6,0.6zM344.1,32.4l0.6,-1.0l1.1,0.3l-0.6,1.0zM347.0,48.0l-0.9,0.2l-0.5,-0.8l0.9,-0.2zM312.9,27.8l-1.4,-1.0l0.6,-1.7l1.4,1.0zM330.7,36.3l-0.1,-1.7l1.6,-0.6l0.1,1.7zM373.8,27.1l-1.4,0.8l-1.2,-1.2l1.4,-0.8zM357.7,38.1l-0.1,-1.0l0.9,-0.4l0.1,1.0zM387.9,45.8l-1.0,-0.1l-0.2,-1.0l1.0,0.1zM312.5,44.5l0.4,-1.3l1.3,0.0l-0.4,1.3zM350.8,49.2l-0.3,-1.0l0.9,-0.6l0.3,1.0zM382.2,41.0l0.2,-1.1l1.1,-0.1l-0.2,1.1zM338.5,69.4l-0.1,-1.1l1.1,-0.4l0.1,1.1zM377.8,44.3l-1.1,0.3l-0.6,-1.0l1.1,-0.3zM352.4,50.4l-0.6,-1.3l1.1,-1.0l0.6,1.3zM339.3,66.2l-1.2,0.2l-0.5,-1.1l1.2,-0.2zM367.7,59.8l-0.6,-0.7l0.5,-0.8l0.6,0.7zM346.7,26.8l-1.4,-0.1l-0.3,-1.4l1.4,0.1zM328.1,65.5l-0.4,-1.1l0.9,-0.7l0.4,1.1zM346.9,47.2l-1.3,0.8l-1.2,-1.0l1.3,-0.8zM346.2,59.3l-1.2,-0.2l-0.1,-1.2l1.2,0.2zM389.1,29.0l-1.3,0.9l-1.2,-1.0l1.3,-0.9zM339.1,76.0l-1.1,-0.9l0.5,-1.3l1.1,0.9z" fill="#4668a0"/>
<rect x="310.4" y="80.6" width="78.5" height="54.3" fill="#d9e4ee"/>
<path d="M378.5,130.3l2.8,-2.8l2.8,2.8l-2.8,2.8zM316.5,112.4l2.1,-2.1l2.1,2.1l-2.1,2.1zM350.1,89.2l1.8,-1.8l1.8,1.8l-1.8,1.8zM343.3,93.7l2.2,-2.2l2.2,2.2l-2.2,2.2zM311.7,86.9l2.6,-2.6l2.6,2.6l-2.6,2.6zM341.2,108.4l2.6,-2.6l2.6,2.6l-2.6,2.6zM336.5,85.5l2.7,-2.7l2.7,2.7l-2.7,2.7zM353.9,115.7l2.4,-2.4l2.4,2.4l-2.4,2.4zM382.1,100.8l2.6,-2.6l2.6,2.6l-2.6,2.6zM337.4,111.4l2.5,-2.5l2.5,2.5l-2.5,2.5zM333.6,86.9l2.2,-2.2l2.2,2.2l-2.2,2.2zM363.7,112.3l2.2,-2.2l2.2,2.2l-2.2,2.2zM358.5,91.8l1.8,-1.8l1.8,1.8l-1.8,1.8zM334.7,123.6l1.8,-1.8l1.8,1.8l-1.8,1.8zM319.4,87.6l1.6,-1.6l1.6,1.6l-1.6,1.6zM330.2,111.4l2.7,-2.7l2.7,2.7l-2.7,2.7zM335.1,101.2l1.9,-1.9l1.9,1.9l-1.9,1.9zM332.8,121.7l2.3,-2.3l2.3,2.3l-2.3,2.3zM329.0,88.0l2.7,-2.7l2.7,2.7l-2.7,2.7zM363.2,124.3l1.9,-1.9l1.9,1.9l-1.9,1.9zM350.6,128.8l2.4,-2.4l2.4,2.4l-2.4,2.4zM379.9,91.0l3.0,-3.0l3.0,3.0l-3.0,3.0zM315.0,103.5l1.5,-1.5l1.5,1.5l-1.5,1.5zM369.8,117.2l3.0,-3.0l3.0,3.0l-3.0,3.0zM370.1,130.3l2.3,-2.3l2.3,2.3l-2.3,2.3zM384.0,120.3l2.0,-2.0l2.0,2.0l-2.0,2.0zM383.2,101.6l1.8,-1.8l1.8,1.8l-1.8,1.8zM316.3,106.0l1.8,-1.8l1.8,1.8l-1.8,1.8zM380.1,130.4l1.8,-1.8l1.8,1.8l-1.8,1.8zM318.4,109.2l1.8,-1.8l1.8,1.8l-1.8,1.8zM351.0,123.5l1.9,-1.9l1.9,1.9l-1.9,1.9zM341.7,127.9l2.2,-2.2l2.2,2.2l-2.2,2.2zM335.2,127.5l2.7,-2.7l2.7,2.7l-2.7,2.7zM377.0,117.2l2.1,-2.1l2.1,2.1l-2.1,2.1zM361.6,124.3l2.5,-2.5l2.5,2.5l-2.5,2.5zM328.0,97.5l2.1,-2.1l2.1,2.1l-2.1,2.1zM367.6,110.6l2.3,-2.3l2.3,2.3l-2.3,2.3zM371.5,88.1l2.4,-2.4l2.4,2.4l-2.4,2.4zM334.4,110.7l2.8,-2.8l2.8,2.8l-2.8,2.8zM329.3,130.5l1.6,-1.6l1.6,1.6l-1.6,1.6zM352.4,109.9l1.9,-1.9l1.9,1.9l-1.9,1.9zM352.0,106.3l2.2,-2.2l2.2,2.2l-2.2,2.2zM363.9,82.8l2.1,-2.1l2.1,2.1l-2.1,2.1zM368.1,89.7l2.8,-2.8l2.8,2.8l-2.8,2.8zM325.8,116.9l1.8,-1.8l1.8,1.8l-1.8,1.8zM344.3,103.9l1.6,-1.6l1.6,1.6l-1.6,1.6zM362.0,106.8l2.5,-2.5l2.5,2.5l-2.5,2.5zM350.3,110.6l2.3,-2.3l2.3,2.3l-2.3,2.3zM333.0,127.8l1.6,-1.6l1.6,1.6l-1.6,1.6zM375.5,126.0l2.2,-2.2l2.2,2.2l-2.2,2.2zM367.9,116.5l2.4,-2.4l2.4,2.4l-2.4,2.4zM332.1,98.7l2.0,-2.0l2.0,2.0l-2.0,2.0zM332.9,130.9l2.0,-2.0l2.0,2.0l-2.0,2.0zM338.5,103.7l2.7,-2.7l2.7,2.7l-2.7,2.7zM346.1,110.5l1.9,-1.9l1.9,1.9l-1.9,1.9zM331.3,87.1l1.8,-1.8l1.8,1.8l-1.8,1.8zM329.8,125.5l2.3,-2.3l2.3,2.3l-2.3,2.3zM318.9,105.9l1.7,-1.7l1.7,1.7l-1.7,1.7zM351.8,104.8l2.8,-2.8l2.8,2.8l-2.8,2.8zM329.8,125.4l1.9,-1.9l1.9,1.9l-1.9,1.9zM384.0,114.5l1.6,-1.6l1.6,1.6l-1.6,1.6zM370.5,96.5l2.0,-2.0l2.0,2.0l-2.0,2.0zM321.7,124.7l1.6,-1.6l1.6,1.6l-1.6,1.6zM364.9,102.5l2.5,-2.5l2.5,2.5l-2.5,2.5zM331.4,86.5l2.9,-2.9l2.9,2.9l-2.9,2.9zM358.2,91.1l3.0,-3.0l3.0,3.0l-3.0,3.0zM378.8,91.8l1.5,-1.5l1.5,1.5l-1.5,1.5zM355.3,89.6l2.6,-2.6l2.6,2.6l-2.6,2.6zM345.0,118.3l2.4,-2.4l2.4,2.4l-2.4,2.4zM367.4,123.9l2.4,-2.4l2.4,2.4l-2.4,2.4zM354.8,99.0l1.7,-1.7l1.7,1.7l-1.7,1.7zM317.5,125.7l1.8,-1.8l1.8,1.8l-1.8,1.8zM341.7,98.5l2.4,-2.4l2.4,2.4l-2.4,2.4zM350.0,125.8l2.2,-2.2l2.2,2.2l-2.2,2.2zM336.7,115.4l2.6,-2.6l2.6,2.6l-2.6,2.6zM378.5,98.3l2.8,-2.8l2.8,2.8l-2.8,2.8zM383.8,132.0l1.7,-1.7l1.7,1.7l-1.7,1.7zM338.0,121.5l2.7,-2.7l2.7,2.7l-2.7,2.7zM312.8,102.5l2.6,-2.6l2.6,2.6l-2.6,2.6zM367.1,109.5l1.8,-1.8l1.8,1.8l-1.8,1.8zM340.7,85.5l2.0,-2.0l2.0,2.0l-2.0,2.0zM341.9,124.0l2.4,-2.4l2.4,2.4l-2.4,2.4zM341.3,95.0l2.0,-2.0l2.0,2.0l-2.0,2.0zM360.6,105.0l1.8,-1.8l1.8,1.8l-1.8,1.8zM370.7,111.6l3.0,-3.0l3.0,3.0l-3.0,3.0zM350.2,113.9l2.1,-2.1l2.1,2.1l-2.1,2.1zM354.7,128.8l3.0,-3.0l3.0,3.0l-3.0,3.0zM360.0,104.2l1.6,-1.6l1.6,1.6l-1.6,1.6zM372.9,102.3l2.1,-2.1l2.1,2.1l-2.1,2.1zM314.6,84.3l2.1,-2.1l2.1,2.1l-2.1,2.1zM382.5,119.9l2.6,-2.6l2.6,2.6l-2.6,2.6zM360.4,96.3l1.8,-1.8l1.8,1.8l-1.8,1.8zM354.9,85.8l2.4,-2.4l2.4,2.4l-2.4,2.4zM349.0,109.9l1.7,-1.7l1.7,1.7l-1.7,1.7zM315.7,106.4l1.7,-1.7l1.7,1.7l-1.7,1.7zM357.8,98.2l2.4,-2.4l2.4,2.4l-2.4,2.4zM366.0,113.1l2.3,-2.3l2.3,2.3l-2.3,2.3zM324.1,100.1l3.0,-3.0l3.0,3.0l-3.0,3.0zM330.2,96.9l2.2,-2.2l2.2,2.2l-2.2,2.2zM351.1,122.4l1.9,-1.9l1.9,1.9l-1.9,1.9zM381.4,83.7l2.7,-2.7l2.7,2.7l-2.7,2.7zM353.1,127.9l1.7,-1.7l1.7,1.7l-1.7,1.7zM361.2,130.2l2.5,-2.5l2.5,2.5l-2.5,2.5zM317.8,128.9l3.0,-3.0l3.0,3.0l-3.0,3.0zM319.0,124.2l1.6,-1.6l1.6,1.6l-1.6,1.6zM315.9,122.6l2.6,-2.6l2.6,2.6l-2.6,2.6z" fill="#eef2f8" opacity="0.7"/>
<path d="M382.2,114.0l-0.5,-1.2l1.0,-0.8l0.5,1.2zM323.3,111.3l-0.5,-1.0l0.8,-0.7l0.5,1.0zM369.0,90.7l-1.5,1.0l-1.4,-1.2l1.5,-1.0zM376.1,123.0l0.7,-1.5l1.6,0.3l-0.7,1.5zM360.5,90.6l0.6,-1.5l1.6,0.1l-0.6,1.5zM379.8,116.7l-1.0,-0.2l-0.0,-1.1l1.0,0.2zM384.6,103.6l0.3,-1.0l1.1,0.0l-0.3,1.0zM329.9,94.4l-1.7,0.7l-1.2,-1.4l1.7,-0.7zM354.9,130.2l-0.4,-0.9l0.8,-0.6l0.4,0.9zM386.4,85.1l-1.9,-0.1l-0.4,-1.9l1.9,0.1zM342.6,134.3l-0.7,-0.8l0.6,-0.9l0.7,0.8zM311.4,118.7l1.1,-1.1l1.3,0.8l-1.1,1.1zM313.7,96.2l-1.1,0.2l-0.5,-1.0l1.1,-0.2zM329.3,118.8l-1.8,-0.2l-0.3,-1.8l1.8,0.2zM372.4,89.1l-1.0,0.7l-0.9,-0.7l1.0,-0.7zM370.0,85.3l1.2,-1.1l1.4,0.9l-1.2,1.1zM323.7,85.2l0.5,-0.9l1.0,0.2l-0.5,0.9zM348.0,89.8l-1.8,0.1l-0.6,-1.7l1.8,-0.1zM336.9,100.5l-1.3,-0.2l-0.1,-1.3l1.3,0.2zM319.0,97.2l0.1,-1.6l1.5,-0.4l-0.1,1.6zM383.2,90.9l-0.7,-1.2l0.9,-1.0l0.7,1.2zM361.7,133.1l0.9,-1.6l1.8,0.4l-0.9,1.6zM374.4,114.4l-1.2,-0.1l-0.2,-1.2l1.2,0.1zM322.7,116.7l-0.7,-0.8l0.5,-0.9l0.7,0.8zM356.2,84.4l-1.8,-0.7l0.2,-1.9l1.8,0.7zM329.9,106.6l0.8,-1.4l1.6,0.3l-0.8,1.4zM365.0,84.0l-1.0,-1.1l0.8,-1.3l1.0,1.1zM373.5,109.8l-0.8,0.5l-0.7,-0.6l0.8,-0.5zM354.1,85.9l0.3,-1.4l1.4,-0.1l-0.3,1.4zM336.8,113.8l-1.2,-1.1l0.7,-1.5l1.2,1.1zM375.3,99.8l-1.3,-1.1l0.7,-1.6l1.3,1.1zM359.4,94.4l-1.5,1.1l-1.5,-1.2l1.5,-1.1zM333.2,133.3l-0.5,-0.8l0.6,-0.7l0.5,0.8zM379.8,85.1l-0.8,-0.6l0.3,-0.9l0.8,0.6zM351.3,100.7l-1.1,-0.7l0.3,-1.2l1.1,0.7zM357.2,98.0l-1.2,0.3l-0.6,-1.1l1.2,-0.3zM325.8,82.9l-1.1,-0.6l0.2,-1.2l1.1,0.6zM362.5,105.5l-1.6,-0.0l-0.4,-1.5l1.6,0.0zM346.4,85.4l-1.7,-0.2l-0.3,-1.7l1.7,0.2zM373.2,111.2l-1.4,0.6l-1.0,-1.2l1.4,-0.6zM342.5,117.6l-0.9,-1.3l0.9,-1.3l0.9,1.3zM365.3,127.4l0.9,-0.9l1.1,0.6l-0.9,0.9zM357.4,88.0l-0.3,-0.8l0.7,-0.6l0.3,0.8zM336.7,108.2l0.9,-1.5l1.7,0.4l-0.9,1.5zM340.6,116.6l0.6,-1.1l1.2,0.3l-0.6,1.1zM371.0,92.9l-0.1,-0.9l0.8,-0.4l0.1,0.9zM316.8,131.5l0.7,-1.2l1.4,0.4l-0.7,1.2zM338.4,95.7l-0.1,-1.6l1.5,-0.5l0.1,1.6zM360.5,125.5l-0.9,0.6l-0.8,-0.6l0.9,-0.6zM327.2,111.1l-0.3,-1.0l0.9,-0.6l0.3,1.0zM321.9,89.9l-1.3,0.5l-0.9,-1.1l1.3,-0.5zM376.2,123.7l-1.1,0.7l-1.0,-0.9l1.1,-0.7zM325.4,133.4l-0.8,0.5l-0.7,-0.6l0.8,-0.5zM365.8,88.8l-1.5,-1.1l0.6,-1.7l1.5,1.1zM354.6,108.7l-1.5,0.9l-1.3,-1.2l1.5,-0.9zM312.6,100.3l0.6,-0.9l1.0,0.4l-0.6,0.9zM351.5,92.6l0.0,-1.2l1.1,-0.3l-0.0,1.2zM379.8,101.6l-1.4,0.1l-0.4,-1.3l1.4,-0.1zM322.8,114.4l-0.6,-1.5l1.2,-1.0l0.6,1.5zM338.8,114.2l1.0,-1.2l1.4,0.6l-1.0,1.2zM382.9,128.8l0.7,-1.3l1.4,0.3l-0.7,1.3zM335.1,110.7l-1.5,0.3l-0.7,-1.4l1.5,-0.3zM356.3,88.2l-0.5,-1.9l1.7,-1.0l0.5,1.9zM385.5,129.7l0.4,-0.8l0.9,0.1l-0.4,0.8zM367.3,128.7l-0.1,-1.7l1.6,-0.6l0.1,1.7zM382.0,97.8l-0.8,-1.1l0.8,-1.0l0.8,1.1zM326.3,128.7l-1.0,-1.0l0.7,-1.3l1.0,1.0zM344.1,86.4l1.0,-0.7l1.0,0.7l-1.0,0.7zM339.7,120.1l-0.2,-1.2l1.1,-0.5l0.2,1.2zM364.3,89.4l-1.3,-0.9l0.5,-1.5l1.3,0.9zM362.3,129.7l-1.5,0.5l-0.9,-1.3l1.5,-0.5zM359.4,100.7l0.2,-1.9l1.9,-0.4l-0.2,1.9zM350.1,129.0l1.1,-1.2l1.5,0.7l-1.1,1.2zM336.5,87.2l-1.1,-0.7l0.4,-1.2l1.1,0.7zM356.8,122.7l0.6,-0.7l0.8,0.4l-0.6,0.7zM316.8,94.1l0.2,-1.2l1.2,-0.1l-0.2,1.2zM339.8,115.1l-0.9,-0.4l0.2,-1.0l0.9,0.4zM355.9,83.4l-0.9,-0.6l0.3,-1.0l0.9,0.6zM318.9,92.8l-0.8,-1.6l1.3,-1.2l0.8,1.6zM357.9,98.5l-0.4,-1.9l1.7,-0.9l0.4,1.9zM315.3,125.1l0.4,-0.8l0.9,0.2l-0.4,0.8zM363.7,100.3l-0.9,0.1l-0.4,-0.8l0.9,-0.1zM359.5,115.8l-1.4,-0.9l0.5,-1.6l1.4,0.9zM378.2,84.4l-0.1,-1.4l1.3,-0.5l0.1,1.4zM377.2,128.0l-1.1,0.3l-0.6,-1.0l1.1,-0.3zM352.2,84.1l-1.5,0.7l-1.1,-1.3l1.5,-0.7zM342.3,93.3l-0.7,-1.4l1.1,-1.1l0.7,1.4zM311.7,122.8l-1.3,-1.2l0.8,-1.5l1.3,1.2zM349.6,97.2l0.1,-1.3l1.3,-0.2l-0.1,1.3zM342.2,128.7l-1.6,0.7l-1.1,-1.3l1.6,-0.7zM377.6,105.4l1.4,-1.2l1.5,1.0l-1.4,1.2zM339.9,106.0l0.6,-0.7l0.9,0.3l-0.6,0.7zM344.8,108.4l-0.4,-1.5l1.3,-0.8l0.4,1.5zM322.1,94.0l-1.0,0.3l-0.5,-0.9l1.0,-0.3zM362.4,87.8l-0.7,-1.3l1.1,-1.0l0.7,1.3zM374.3,122.7l-0.6,-1.0l0.8,-0.8l0.6,1.0zM359.6,123.5l-0.9,-0.9l0.6,-1.1l0.9,0.9zM388.3,124.0l-1.2,-0.8l0.5,-1.4l1.2,0.8zM324.3,119.6l-1.0,-0.5l0.2,-1.1l1.0,0.5zM342.6,82.8l-1.2,-0.3l-0.1,-1.2l1.2,0.3zM327.3,116.4l1.3,-1.0l1.3,1.0l-1.3,1.0zM319.8,109.7l-1.8,0.8l-1.2,-1.5l1.8,-0.8zM370.9,109.7l-0.5,-0.8l0.7,-0.7l0.5,0.8zM333.9,96.9l-1.2,0.3l-0.6,-1.0l1.2,-0.3zM325.8,84.6l0.4,-1.0l1.1,0.1l-0.4,1.0zM379.3,100.0l-1.3,-0.6l0.2,-1.4l1.3,0.6zM355.7,95.9l-0.6,-1.2l1.0,-0.9l0.6,1.2zM340.5,125.5l-0.7,-1.6l1.3,-1.1l0.7,1.6zM338.0,103.4l0.5,-0.8l0.9,0.2l-0.5,0.8zM360.5,117.2l-0.8,-1.0l0.7,-1.0l0.8,1.0zM365.2,82.3l-1.1,0.2l-0.5,-1.0l1.1,-0.2zM349.7,104.0l-0.1,-1.6l1.5,-0.5l0.1,1.6zM381.2,84.4l-1.4,-0.6l0.1,-1.5l1.4,0.6z" fill="#4b6fa5"/>
<path d="M343.0,115.0l0.5,-0.7l0.8,0.3l-0.5,0.7zM363.0,117.8l-1.6,0.1l-0.6,-1.5l1.6,-0.1zM328.8,85.6l-1.6,-0.3l-0.2,-1.6l1.6,0.3zM356.3,124.0l-1.5,0.3l-0.7,-1.4l1.5,-0.3zM318.6,126.4l0.5,-1.6l1.7,0.1l-0.5,1.6zM323.8,129.3l-0.8,-0.9l0.6,-1.1l0.8,0.9zM331.2,87.9l0.9,-1.2l1.4,0.5l-0.9,1.2zM358.5,118.0l0.8,-0.8l1.0,0.6l-0.8,0.8zM364.1,134.7l-1.2,-1.5l1.1,-1.6l1.2,1.5zM357.3,120.4l-0.9,0.3l-0.5,-0.8l0.9,-0.3zM377.4,134.0l-1.3,0.4l-0.7,-1.1l1.3,-0.4zM329.9,115.9l-0.9,-0.7l0.4,-1.1l0.9,0.7zM380.7,85.8l-0.8,-0.4l0.2,-0.8l0.8,0.4zM379.5,122.9l-1.8,-0.4l-0.1,-1.8l1.8,0.4zM371.3,88.7l-0.9,0.3l-0.5,-0.8l0.9,-0.3zM329.0,87.0l-1.4,0.0l-0.4,-1.4l1.4,-0.0zM378.8,114.9l-0.3,-1.0l0.9,-0.6l0.3,1.0zM357.5,88.5l-0.5,-1.1l0.9,-0.8l0.5,1.1zM364.8,125.0l-0.0,-1.9l1.8,-0.5l0.0,1.9zM385.0,86.5l-0.1,-1.3l1.2,-0.5l0.1,1.3zM350.5,93.1l-0.7,-0.7l0.5,-0.9l0.7,0.7zM311.7,106.1l0.7,-1.0l1.1,0.4l-0.7,1.0zM328.8,117.2l-0.2,-1.5l1.4,-0.6l0.2,1.5zM337.3,99.2l-1.3,-0.3l-0.0,-1.3l1.3,0.3zM360.7,117.8l0.4,-0.8l0.9,0.2l-0.4,0.8zM320.0,97.5l-1.0,-1.4l1.1,-1.3l1.0,1.4zM323.7,121.1l-1.1,-0.7l0.4,-1.3l1.1,0.7zM316.9,129.2l-0.9,0.0l-0.3,-0.8l0.9,-0.0zM321.6,119.9l0.5,-1.8l1.9,0.0l-0.5,1.8zM377.1,95.2l0.2,-0.9l0.9,-0.0l-0.2,0.9zM375.2,115.1l-1.1,-0.5l0.1,-1.2l1.1,0.5zM348.5,84.5l0.8,-0.8l1.0,0.6l-0.8,0.8zM323.5,87.0l-1.0,-0.7l0.4,-1.2l1.0,0.7zM337.3,117.4l-1.0,-1.6l1.3,-1.4l1.0,1.6zM318.3,92.1l-1.6,0.9l-1.4,-1.3l1.6,-0.9zM355.0,108.5l-1.3,0.2l-0.6,-1.2l1.3,-0.2zM323.0,120.6l-1.0,0.7l-0.9,-0.7l1.0,-0.7zM338.7,99.0l-1.1,-0.4l0.0,-1.2l1.1,0.4zM359.7,116.6l-1.5,-1.3l0.8,-1.8l1.5,1.3zM370.7,101.5l-1.5,1.0l-1.4,-1.1l1.5,-1.0zM345.3,88.7l-1.2,-1.0l0.6,-1.4l1.2,1.0zM374.5,132.6l0.8,-1.4l1.5,0.3l-0.8,1.4zM367.8,128.2l0.9,-1.5l1.6,0.5l-0.9,1.5zM372.7,131.2l0.1,-0.9l0.9,-0.2l-0.1,0.9zM336.7,110.1l-0.4,-0.9l0.8,-0.6l0.4,0.9zM338.6,102.3l0.9,-1.1l1.3,0.6l-0.9,1.1zM353.9,125.2l-0.0,-1.0l1.0,-0.3l0.0,1.0zM369.7,105.6l0.2,-1.1l1.1,-0.1l-0.2,1.1zM370.2,119.3l-0.2,-0.9l0.8,-0.4l0.2,0.9zM364.3,84.5l-1.3,-1.5l1.1,-1.6l1.3,1.5zM346.1,105.6l-1.8,-0.3l-0.2,-1.9l1.8,0.3zM367.8,101.6l0.4,-0.9l1.0,0.1l-0.4,0.9zM353.8,126.9l0.4,-1.3l1.4,-0.0l-0.4,1.3zM315.7,100.8l-1.0,-1.5l1.2,-1.4l1.0,1.5zM357.8,116.3l-1.3,0.2l-0.6,-1.2l1.3,-0.2zM318.8,119.2l-1.3,0.3l-0.7,-1.1l1.3,-0.3zM335.7,87.1l-0.5,-1.5l1.3,-0.9l0.5,1.5zM370.0,121.9l-0.7,-1.7l1.4,-1.2l0.7,1.7zM387.3,117.4l-0.7,-0.6l0.4,-0.8l0.7,0.6zM369.5,95.4l-1.0,0.4l-0.7,-0.9l1.0,-0.4zM324.2,128.9l0.1,-1.5l1.5,-0.4l-0.1,1.5zM386.8,121.0l0.0,-1.7l1.6,-0.5l-0.0,1.7zM368.3,116.8l-0.9,-0.9l0.6,-1.1l0.9,0.9zM326.6,125.7l-0.6,-1.8l1.6,-1.0l0.6,1.8zM331.2,119.9l-1.0,0.1l-0.4,-0.9l1.0,-0.1zM386.0,95.1l-1.4,-0.4l-0.0,-1.5l1.4,0.4zM312.1,89.8l0.3,-0.9l0.9,0.0l-0.3,0.9zM381.3,108.7l-0.5,-0.7l0.5,-0.7l0.5,0.7zM313.8,105.5l1.1,-1.2l1.4,0.7l-1.1,1.2zM313.7,87.3l-1.9,-0.0l-0.5,-1.8l1.9,0.0zM334.8,86.4l-0.9,-1.4l1.1,-1.3l0.9,1.4zM347.6,120.1l-0.6,-0.9l0.7,-0.9l0.6,0.9zM344.5,86.3l-1.0,-0.8l0.5,-1.1l1.0,0.8zM347.7,101.0l-1.4,0.1l-0.5,-1.4l1.4,-0.1zM346.2,130.8l-1.8,0.5l-1.0,-1.6l1.8,-0.5zM372.4,108.3l-0.2,-1.0l0.9,-0.4l0.2,1.0zM355.1,112.2l-1.6,-0.4l-0.1,-1.7l1.6,0.4zM324.4,101.5l-1.4,0.2l-0.5,-1.3l1.4,-0.2zM366.6,84.3l-1.1,-0.1l-0.2,-1.0l1.1,0.1zM339.4,124.3l0.3,-1.8l1.8,-0.2l-0.3,1.8zM351.4,102.7l-1.4,-1.2l0.7,-1.7l1.4,1.2zM343.6,96.2l-0.9,-0.3l0.0,-1.0l0.9,0.3zM338.8,111.2l0.2,-1.8l1.7,-0.3l-0.2,1.8zM342.3,127.1l-1.3,0.2l-0.5,-1.2l1.3,-0.2zM351.6,92.3l0.5,-0.8l0.9,0.3l-0.5,0.8zM342.6,101.4l-0.3,-1.1l0.9,-0.6l0.3,1.1zM386.3,85.5l-0.1,-0.9l0.8,-0.3l0.1,0.9zM343.9,110.7l0.2,-1.8l1.8,-0.3l-0.2,1.8zM340.6,95.7l-0.2,-1.5l1.4,-0.6l0.2,1.5zM348.1,113.0l-1.4,0.5l-0.9,-1.2l1.4,-0.5zM349.7,99.4l0.8,-0.7l0.9,0.6l-0.8,0.7zM383.8,128.7l-1.2,0.5l-0.8,-1.1l1.2,-0.5zM384.7,116.4l-1.5,-0.4l-0.1,-1.5l1.5,0.4zM314.6,101.5l0.3,-1.2l1.2,-0.0l-0.3,1.2zM378.5,129.4l-1.9,-0.5l-0.0,-1.9l1.9,0.5zM371.2,90.4l-1.1,-0.9l0.6,-1.3l1.1,0.9zM384.7,89.8l-0.8,-1.0l0.7,-1.0l0.8,1.0zM359.0,89.7l-1.3,-0.2l-0.2,-1.3l1.3,0.2zM337.2,94.3l-0.9,-1.6l1.3,-1.3l0.9,1.6zM332.5,110.7l-0.2,-1.2l1.1,-0.6l0.2,1.2zM375.8,87.3l-0.8,-0.5l0.2,-0.9l0.8,0.5zM377.7,95.9l0.2,-1.1l1.1,-0.1l-0.2,1.1zM386.9,115.9l0.8,-0.6l0.8,0.6l-0.8,0.6zM320.5,82.5l1.2,-1.1l1.4,0.8l-1.2,1.1zM382.8,111.1l-1.5,-0.1l-0.3,-1.5l1.5,0.1zM326.6,104.1l0.7,-1.7l1.8,0.2l-0.7,1.7zM335.0,131.4l-0.9,0.1l-0.4,-0.8l0.9,-0.1zM336.5,97.6l0.9,-1.4l1.6,0.5l-0.9,1.4zM316.7,95.7l-1.6,-1.0l0.5,-1.8l1.6,1.0zM340.3,89.7l-1.0,-0.6l0.3,-1.1l1.0,0.6zM358.1,90.1l-1.8,0.7l-1.1,-1.5l1.8,-0.7zM379.5,92.9l-0.9,-0.8l0.6,-1.1l0.9,0.8zM365.3,126.3l-0.7,-1.2l1.0,-1.0l0.7,1.2zM384.0,117.7l-1.0,0.3l-0.6,-0.8l1.0,-0.3zM332.5,117.5l-1.6,0.6l-1.0,-1.3l1.6,-0.6zM329.7,126.4l-1.5,-0.7l0.2,-1.6l1.5,0.7zM321.5,128.7l-1.6,-0.3l-0.1,-1.7l1.6,0.3zM376.2,119.8l-1.1,-0.1l-0.2,-1.1l1.1,0.1zM337.7,86.6l-0.5,-0.7l0.6,-0.7l0.5,0.7zM337.9,105.1l0.8,-1.1l1.3,0.4l-0.8,1.1zM376.5,91.0l-0.2,-1.4l1.3,-0.6l0.2,1.4zM326.6,82.7l1.1,-1.3l1.5,0.7l-1.1,1.3zM351.7,84.8l-1.5,0.2l-0.6,-1.4l1.5,-0.2zM386.2,98.0l-1.3,-0.7l0.3,-1.4l1.3,0.7zM319.1,128.9l0.9,-0.9l1.1,0.6l-0.9,0.9zM351.2,114.0l-0.7,-1.2l1.0,-1.0l0.7,1.2zM350.0,127.3l-1.4,0.2l-0.6,-1.2l1.4,-0.2zM316.4,111.9l-1.4,-0.1l-0.3,-1.3l1.4,0.1zM356.5,97.6l-1.1,-0.2l-0.1,-1.1l1.1,0.2zM336.8,120.2l-1.8,0.6l-1.1,-1.6l1.8,-0.6zM370.0,109.1l1.0,-1.1l1.3,0.6l-1.0,1.1zM373.0,129.1l0.7,-0.7l0.9,0.5l-0.7,0.7zM363.8,122.1l-1.6,-0.7l0.2,-1.7l1.6,0.7zM333.3,115.6l-0.2,-1.6l1.5,-0.6l0.2,1.6zM384.9,82.5l0.3,-1.4l1.4,-0.2l-0.3,1.4zM358.8,93.6l0.1,-1.2l1.2,-0.2l-0.1,1.2z" fill="#5f83b5"/>
<path d="M384.6,115.8l-0.7,-1.2l1.0,-1.0l0.7,1.2zM343.5,127.0l-0.9,-0.2l-0.0,-0.9l0.9,0.2zM365.7,83.7l0.3,-1.0l1.0,0.0l-0.3,1.0zM315.4,117.8l0.3,-1.2l1.3,-0.1l-0.3,1.2zM361.2,116.1l1.2,-1.3l1.6,0.8l-1.2,1.3zM360.7,130.5l-1.0,0.2l-0.5,-0.9l1.0,-0.2zM335.8,123.1l-0.6,-1.1l0.9,-0.9l0.6,1.1zM321.4,105.1l-1.8,0.2l-0.7,-1.7l1.8,-0.2zM367.7,83.8l-0.5,-1.2l1.0,-0.8l0.5,1.2zM378.2,111.4l-0.6,-0.8l0.6,-0.8l0.6,0.8zM359.1,117.2l0.4,-1.6l1.7,-0.0l-0.4,1.6zM314.4,120.9l1.3,-1.4l1.7,0.9l-1.3,1.4zM354.9,92.5l-1.4,-0.1l-0.3,-1.4l1.4,0.1zM384.5,89.6l-1.1,0.4l-0.7,-1.0l1.1,-0.4zM327.8,103.3l-1.3,-0.8l0.4,-1.5l1.3,0.8zM348.7,110.0l-1.9,0.5l-1.0,-1.7l1.9,-0.5zM328.8,84.5l-0.9,0.2l-0.5,-0.8l0.9,-0.2zM315.6,86.4l-1.4,0.1l-0.5,-1.3l1.4,-0.1zM336.2,128.1l-1.3,-0.6l0.2,-1.4l1.3,0.6zM328.4,134.5l-0.5,-1.6l1.4,-1.0l0.5,1.6zM333.9,94.3l0.5,-0.8l0.9,0.3l-0.5,0.8zM377.2,90.8l0.6,-1.4l1.5,0.2l-0.6,1.4zM313.5,124.4l0.7,-0.7l0.8,0.5l-0.7,0.7zM354.6,100.2l-1.7,0.7l-1.2,-1.5l1.7,-0.7zM311.3,121.6l-0.3,-1.5l1.4,-0.7l0.3,1.5zM347.0,130.1l-0.3,-1.2l1.1,-0.7l0.3,1.2zM368.6,99.0l0.0,-1.2l1.2,-0.3l-0.0,1.2zM323.0,92.9l-1.6,0.6l-1.1,-1.4l1.6,-0.6zM330.2,127.0l-1.4,0.6l-1.0,-1.2l1.4,-0.6zM367.9,122.1l0.5,-0.9l1.0,0.2l-0.5,0.9zM318.1,98.9l-0.7,-0.5l0.2,-0.8l0.7,0.5zM322.6,108.4l0.7,-1.2l1.3,0.4l-0.7,1.2zM378.7,109.0l-1.4,0.2l-0.6,-1.2l1.4,-0.2zM356.6,106.8l-0.9,0.1l-0.4,-0.8l0.9,-0.1zM317.7,82.7l0.6,-0.9l1.0,0.3l-0.6,0.9zM355.4,97.3l-0.9,0.7l-0.9,-0.7l0.9,-0.7zM323.9,125.2l-1.9,-0.1l-0.4,-1.9l1.9,0.1zM360.0,92.6l-0.7,-1.6l1.3,-1.1l0.7,1.6zM364.9,114.1l-1.8,-0.0l-0.5,-1.7l1.8,0.0zM332.6,125.4l-0.5,-1.4l1.2,-0.9l0.5,1.4zM353.8,101.4l-1.9,0.5l-1.0,-1.6l1.9,-0.5zM343.9,134.4l-1.8,0.1l-0.6,-1.7l1.8,-0.1zM325.0,96.0l-0.8,-0.9l0.7,-1.0l0.8,0.9zM328.2,107.4l-0.4,-0.9l0.7,-0.6l0.4,0.9zM333.6,124.7l-1.9,0.5l-1.0,-1.7l1.9,-0.5zM363.0,101.2l-0.9,-1.5l1.2,-1.3l0.9,1.5zM355.0,117.0l-1.2,-0.5l0.1,-1.3l1.2,0.5zM367.8,121.1l-1.6,-0.7l0.3,-1.7l1.6,0.7zM369.3,97.5l-0.8,-1.5l1.2,-1.2l0.8,1.5zM326.4,91.2l-1.6,-0.7l0.2,-1.8l1.6,0.7zM341.7,106.5l-1.0,-0.8l0.5,-1.2l1.0,0.8zM365.1,98.5l-0.3,-1.7l1.5,-0.7l0.3,1.7zM371.3,135.0l-0.7,-1.6l1.3,-1.1l0.7,1.6zM381.8,97.2l-1.0,-1.3l1.0,-1.3l1.0,1.3zM345.6,81.9l-0.8,0.6l-0.8,-0.6l0.8,-0.6zM319.0,121.9l0.6,-1.5l1.6,0.1l-0.6,1.5zM381.1,129.0l0.6,-0.8l1.0,0.4l-0.6,0.8zM363.4,132.7l-1.7,-0.3l-0.2,-1.7l1.7,0.3zM330.0,109.1l-0.8,0.5l-0.7,-0.6l0.8,-0.5zM353.7,119.9l-1.0,-0.6l0.3,-1.2l1.0,0.6zM379.8,113.9l-1.8,-0.3l-0.2,-1.8l1.8,0.3zM372.7,129.3l-0.9,-0.5l0.2,-1.0l0.9,0.5zM360.7,92.9l-1.8,-0.6l0.1,-1.9l1.8,0.6zM322.0,110.7l-0.8,0.5l-0.7,-0.6l0.8,-0.5zM338.6,109.4l1.3,-1.1l1.4,0.9l-1.3,1.1zM344.8,82.2l-0.9,-0.3l0.0,-1.0l0.9,0.3zM315.6,85.7l-1.2,0.8l-1.1,-1.0l1.2,-0.8zM342.5,114.4l-0.6,-0.6l0.4,-0.7l0.6,0.6zM369.3,119.9l-1.2,0.2l-0.5,-1.1l1.2,-0.2zM329.2,82.3l-0.2,-1.1l1.0,-0.5l0.2,1.1zM360.6,129.6l-0.6,-0.9l0.7,-0.8l0.6,0.9zM342.6,130.6l-0.1,-1.6l1.5,-0.6l0.1,1.6zM311.2,85.2l-0.3,-1.8l1.6,-0.8l0.3,1.8zM372.4,132.9l-1.6,0.2l-0.6,-1.4l1.6,-0.2zM319.7,118.9l-1.1,-0.8l0.5,-1.3l1.1,0.8zM362.6,82.3l-1.0,0.2l-0.5,-0.9l1.0,-0.2zM315.6,108.9l0.0,-1.8l1.7,-0.5l-0.0,1.8zM335.2,86.9l-1.3,-1.3l0.9,-1.6l1.3,1.3zM331.0,107.1l-1.7,0.0l-0.5,-1.6l1.7,-0.0zM384.9,133.3l0.3,-1.5l1.5,-0.1l-0.3,1.5zM384.8,99.6l-1.5,-0.4l-0.0,-1.6l1.5,0.4zM314.3,122.3l-0.5,-1.3l1.1,-0.8l0.5,1.3zM335.8,84.7l-1.7,0.8l-1.2,-1.4l1.7,-0.8zM361.9,130.4l-1.2,-0.3l-0.1,-1.3l1.2,0.3zM379.5,86.6l0.8,-0.7l0.9,0.6l-0.8,0.7zM374.3,131.9l-1.3,-0.0l-0.3,-1.3l1.3,0.0zM346.2,131.0l-1.8,0.3l-0.8,-1.6l1.8,-0.3zM381.2,106.7l-1.4,0.1l-0.5,-1.3l1.4,-0.1zM382.2,99.6l-1.7,-0.5l-0.0,-1.8l1.7,0.5zM311.7,88.4l-1.2,-1.2l0.8,-1.5l1.2,1.2zM364.2,115.1l-1.0,-0.1l-0.2,-1.0l1.0,0.1zM358.1,91.1l0.4,-1.7l1.7,-0.1l-0.4,1.7zM387.0,129.7l-1.3,-1.1l0.7,-1.6l1.3,1.1zM350.0,104.8l-1.5,0.2l-0.6,-1.4l1.5,-0.2zM316.4,134.0l-1.0,-1.6l1.3,-1.4l1.0,1.6zM336.0,121.0l1.0,-0.8l1.0,0.7l-1.0,0.8zM328.9,123.0l-1.6,-0.1l-0.4,-1.5l1.6,0.1zM383.1,128.8l0.1,-1.1l1.1,-0.2l-0.1,1.1zM328.1,96.0l-0.2,-1.9l1.8,-0.7l0.2,1.9zM334.1,93.7l-1.6,-1.1l0.6,-1.8l1.6,1.1zM324.4,127.5l-1.0,0.8l-1.0,-0.8l1.0,-0.8zM335.3,114.5l1.0,-1.1l1.3,0.7l-1.0,1.1zM365.9,133.2l-1.5,0.3l-0.7,-1.4l1.5,-0.3zM312.4,86.9l-0.8,-0.6l0.3,-0.9l0.8,0.6zM362.6,124.0l-1.2,0.1l-0.5,-1.2l1.2,-0.1zM334.5,117.0l-0.4,-1.0l0.8,-0.7l0.4,1.0zM349.4,86.1l-1.5,-0.9l0.5,-1.7l1.5,0.9zM354.8,89.9l-0.2,-1.8l1.6,-0.7l0.2,1.8zM323.1,87.7l-1.7,0.1l-0.6,-1.6l1.7,-0.1zM355.7,105.8l-0.4,-1.5l1.4,-0.8l0.4,1.5zM380.0,86.6l-1.2,-1.0l0.6,-1.4l1.2,1.0zM351.5,111.4l-1.7,-0.9l0.4,-1.9l1.7,0.9zM373.7,99.7l-1.4,0.5l-0.9,-1.2l1.4,-0.5zM358.6,88.8l-0.5,-0.8l0.6,-0.7l0.5,0.8zM317.9,98.0l0.7,-1.0l1.2,0.4l-0.7,1.0zM311.5,128.0l0.3,-1.3l1.4,-0.1l-0.3,1.3zM357.8,100.3l0.7,-1.5l1.6,0.2l-0.7,1.5zM340.9,113.6l-1.9,0.0l-0.6,-1.8l1.9,-0.0zM314.7,90.4l-1.4,-0.1l-0.3,-1.4l1.4,0.1zM336.5,117.2l-1.8,0.3l-0.8,-1.7l1.8,-0.3zM334.5,126.5l1.3,-1.4l1.7,0.8l-1.3,1.4zM346.1,129.2l-0.7,-1.8l1.5,-1.2l0.7,1.8zM341.5,90.7l0.6,-1.0l1.2,0.3l-0.6,1.0z" fill="#7896c2"/>
<path d="M319.0,95.5l-0.9,-0.9l0.6,-1.1l0.9,0.9zM353.3,115.7l0.6,-1.6l1.7,0.1l-0.6,1.6zM370.4,99.4l0.6,-0.8l0.9,0.3l-0.6,0.8zM372.4,88.0l-1.2,-0.7l0.4,-1.4l1.2,0.7zM337.1,98.0l-0.6,-0.7l0.5,-0.8l0.6,0.7zM355.7,126.4l0.5,-0.7l0.9,0.3l-0.5,0.7zM353.5,115.2l-0.7,0.5l-0.7,-0.6l0.7,-0.5zM372.4,92.5l-0.4,-1.1l0.9,-0.7l0.4,1.1zM327.6,102.0l-0.8,0.2l-0.4,-0.7l0.8,-0.2zM359.7,126.6l-0.8,-0.1l-0.1,-0.8l0.8,0.1zM335.4,115.0l0.7,-1.0l1.2,0.4l-0.7,1.0zM381.9,121.1l-1.9,0.3l-0.8,-1.7l1.9,-0.3zM354.5,130.5l-1.6,0.7l-1.1,-1.3l1.6,-0.7zM347.2,116.7l-1.7,-0.8l0.3,-1.9l1.7,0.8zM362.8,120.2l-0.5,-1.5l1.3,-0.9l0.5,1.5zM334.7,114.5l-0.8,0.2l-0.4,-0.7l0.8,-0.2zM347.5,82.4l-0.9,-0.5l0.2,-1.0l0.9,0.5zM318.6,125.6l-0.3,-1.1l1.0,-0.6l0.3,1.1zM378.1,102.7l-1.4,0.8l-1.2,-1.2l1.4,-0.8zM345.7,128.1l-0.3,-0.9l0.8,-0.6l0.3,0.9zM333.8,118.7l-1.1,-0.6l0.3,-1.3l1.1,0.6zM359.4,107.4l-0.9,-1.2l0.9,-1.2l0.9,1.2zM379.9,108.7l0.1,-1.6l1.5,-0.3l-0.1,1.6zM375.1,96.9l-1.4,-1.3l0.8,-1.7l1.4,1.3zM354.0,124.6l-0.8,0.6l-0.8,-0.6l0.8,-0.6zM337.8,96.0l-1.2,0.8l-1.1,-1.0l1.2,-0.8zM381.2,111.6l1.0,-1.1l1.3,0.7l-1.0,1.1zM381.1,122.3l-1.3,-0.1l-0.2,-1.3l1.3,0.1zM318.1,82.9l-1.3,0.9l-1.2,-1.0l1.3,-0.9zM379.2,101.3l-0.5,-1.1l0.9,-0.7l0.5,1.1zM382.5,96.4l0.1,-1.1l1.1,-0.2l-0.1,1.1zM321.5,108.8l0.2,-1.6l1.6,-0.3l-0.2,1.6zM378.9,94.6l-1.0,0.7l-0.9,-0.8l1.0,-0.7zM366.3,113.6l-0.9,-0.9l0.6,-1.1l0.9,0.9zM346.5,105.8l-1.1,0.5l-0.8,-0.9l1.1,-0.5zM377.5,128.1l-0.8,-1.1l0.8,-1.1l0.8,1.1zM387.3,92.7l-0.7,-0.8l0.6,-0.9l0.7,0.8zM365.2,129.0l0.9,-1.7l1.8,0.4l-0.9,1.7zM386.2,117.0l-1.8,0.7l-1.2,-1.5l1.8,-0.7zM331.7,134.7l-1.1,-1.5l1.2,-1.5l1.1,1.5zM349.9,87.1l0.3,-1.3l1.3,-0.1l-0.3,1.3zM339.2,122.4l-1.2,-0.9l0.6,-1.4l1.2,0.9zM350.2,126.7l-1.3,-1.0l0.6,-1.5l1.3,1.0zM361.6,93.6l-0.8,-1.2l1.0,-1.1l0.8,1.2zM341.5,94.2l0.2,-1.3l1.3,-0.1l-0.2,1.3zM356.1,127.0l-1.1,0.1l-0.5,-1.0l1.1,-0.1zM376.2,123.8l0.4,-0.8l0.8,0.2l-0.4,0.8zM346.6,130.5l-1.1,-0.9l0.6,-1.3l1.1,0.9zM385.1,91.3l0.4,-1.9l1.9,-0.1l-0.4,1.9zM372.7,111.8l0.6,-1.0l1.2,0.3l-0.6,1.0zM358.2,125.5l-1.2,-0.3l-0.0,-1.3l1.2,0.3zM334.1,122.7l-1.2,-1.2l0.8,-1.5l1.2,1.2zM388.8,95.1l-1.4,0.6l-0.9,-1.1l1.4,-0.6zM328.9,98.7l-1.1,-0.5l0.2,-1.2l1.1,0.5zM350.2,84.9l-1.0,-0.7l0.4,-1.1l1.0,0.7zM362.5,125.3l-0.2,-1.6l1.4,-0.7l0.2,1.6zM362.8,132.2l-0.8,-1.4l1.1,-1.1l0.8,1.4zM332.1,121.2l0.1,-1.2l1.2,-0.2l-0.1,1.2zM346.8,92.5l-0.5,-0.9l0.7,-0.7l0.5,0.9zM341.5,116.9l-0.3,-1.8l1.7,-0.7l0.3,1.8zM360.8,102.8l-0.2,-1.6l1.5,-0.7l0.2,1.6zM333.8,89.7l0.7,-1.3l1.4,0.4l-0.7,1.3zM379.9,102.6l-1.2,0.4l-0.8,-1.0l1.2,-0.4zM347.5,133.9l-0.8,-0.6l0.3,-0.9l0.8,0.6zM377.6,85.6l-0.6,-1.2l1.0,-0.9l0.6,1.2zM339.6,132.2l0.0,-1.0l0.9,-0.2l-0.0,1.0zM374.9,131.5l-0.5,-1.0l0.9,-0.7l0.5,1.0zM335.9,124.8l-1.7,0.2l-0.6,-1.6l1.7,-0.2zM351.4,130.6l1.0,-1.2l1.5,0.6l-1.0,1.2zM334.1,130.7l-1.1,-1.1l0.8,-1.4l1.1,1.1zM368.0,83.7l-1.1,-1.3l0.9,-1.4l1.1,1.3zM349.3,97.4l0.9,-1.2l1.4,0.5l-0.9,1.2zM365.8,127.7l-1.3,-0.2l-0.2,-1.3l1.3,0.2zM356.5,97.1l-1.8,0.3l-0.8,-1.7l1.8,-0.3zM325.6,105.5l-1.5,0.9l-1.3,-1.2l1.5,-0.9zM366.7,84.6l-0.4,-1.8l1.6,-0.8l0.4,1.8zM364.0,84.0l-0.4,-1.0l0.9,-0.7l0.4,1.0zM315.9,87.4l1.3,-1.1l1.4,0.9l-1.3,1.1zM332.3,87.8l-1.7,0.4l-0.8,-1.5l1.7,-0.4zM326.6,111.0l-1.3,0.6l-0.9,-1.1l1.3,-0.6zM314.8,107.0l0.6,-0.7l0.9,0.4l-0.6,0.7zM332.2,118.1l-0.9,-0.3l0.0,-0.9l0.9,0.3zM355.6,84.3l0.8,-1.5l1.7,0.3l-0.8,1.5zM375.6,88.1l0.4,-1.1l1.2,0.1l-0.4,1.1zM344.9,101.5l0.8,-1.2l1.4,0.5l-0.8,1.2zM339.3,95.5l0.3,-1.8l1.8,-0.2l-0.3,1.8zM362.0,105.6l0.2,-1.1l1.1,-0.1l-0.2,1.1zM315.6,96.5l-1.4,0.1l-0.4,-1.3l1.4,-0.1zM325.5,118.5l-0.9,-0.5l0.2,-1.0l0.9,0.5zM359.5,90.4l-0.8,0.5l-0.7,-0.6l0.8,-0.5zM385.5,97.0l-1.4,0.1l-0.5,-1.3l1.4,-0.1zM318.6,124.2l-0.2,-1.0l0.9,-0.5l0.2,1.0zM356.8,85.3l-1.4,-1.1l0.7,-1.7l1.4,1.1zM343.3,97.8l-1.8,0.6l-1.1,-1.6l1.8,-0.6zM339.2,116.4l-1.7,-0.8l0.3,-1.8l1.7,0.8zM375.1,87.6l-1.0,-1.3l1.0,-1.3l1.0,1.3zM373.5,93.3l-1.3,-0.5l0.1,-1.4l1.3,0.5zM313.9,101.1l-1.6,-0.6l0.1,-1.7l1.6,0.6zM320.2,127.7l0.5,-0.7l0.8,0.3l-0.5,0.7zM315.3,110.8l0.8,-1.4l1.6,0.4l-0.8,1.4zM365.4,133.6l-0.2,-1.2l1.1,-0.5l0.2,1.2zM335.4,131.4l1.0,-1.1l1.4,0.6l-1.0,1.1zM384.9,82.2l-1.1,0.2l-0.5,-1.0l1.1,-0.2zM319.2,110.7l1.3,-1.2l1.5,0.9l-1.3,1.2zM388.7,121.0l-0.9,0.3l-0.5,-0.8l0.9,-0.3zM372.7,132.8l-1.0,0.6l-0.9,-0.8l1.0,-0.6zM346.6,117.2l-0.2,-1.1l1.0,-0.5l0.2,1.1zM318.5,103.4l-1.4,0.9l-1.2,-1.1l1.4,-0.9zM363.6,118.5l1.0,-1.0l1.3,0.7l-1.0,1.0zM319.7,83.9l-0.9,-0.4l0.2,-1.0l0.9,0.4zM346.4,89.2l-0.1,-0.9l0.8,-0.3l0.1,0.9zM322.5,128.3l0.4,-1.3l1.3,0.0l-0.4,1.3zM321.1,113.7l0.6,-0.6l0.8,0.4l-0.6,0.6zM379.4,86.8l-1.7,-0.9l0.4,-1.9l1.7,0.9zM377.9,93.3l0.8,-1.5l1.7,0.4l-0.8,1.5zM338.5,86.3l-0.5,-0.8l0.6,-0.7l0.5,0.8zM323.8,97.7l0.2,-1.1l1.1,-0.2l-0.2,1.1zM340.5,97.6l-1.0,-0.1l-0.2,-1.0l1.0,0.1zM315.0,103.0l-0.8,-0.7l0.4,-1.0l0.8,0.7zM330.8,129.7l-1.4,0.8l-1.1,-1.1l1.4,-0.8zM341.9,116.6l1.0,-1.7l1.9,0.5l-1.0,1.7zM336.2,103.2l-0.9,-1.5l1.2,-1.3l0.9,1.5zM334.0,101.7l1.1,-1.2l1.4,0.7l-1.1,1.2zM367.6,119.7l0.9,-1.3l1.5,0.5l-0.9,1.3zM368.5,126.1l-0.0,-1.6l1.5,-0.5l0.0,1.6zM371.6,118.1l-0.0,-1.4l1.4,-0.4l0.0,1.4zM316.3,119.3l-1.2,-0.3l-0.0,-1.2l1.2,0.3zM320.6,84.4l-1.1,-1.0l0.7,-1.3l1.1,1.0zM314.6,85.9l-1.3,-0.0l-0.3,-1.3l1.3,0.0zM378.4,115.2l-1.5,0.3l-0.7,-1.4l1.5,-0.3zM378.5,118.2l-0.1,-1.1l1.0,-0.4l0.1,1.1zM369.7,129.4l-0.3,-1.3l1.2,-0.7l0.3,1.3zM379.6,114.0l-1.5,-0.9l0.5,-1.7l1.5,0.9zM345.2,105.9l-1.0,0.6l-0.9,-0.8l1.0,-0.6zM314.2,102.4l-1.2,-1.5l1.1,-1.6l1.2,1.5zM350.2,131.8l-0.2,-1.4l1.3,-0.6l0.2,1.4zM312.3,127.5l-1.1,0.6l-0.9,-0.9l1.1,-0.6zM347.5,118.3l-1.7,-0.9l0.3,-1.9l1.7,0.9zM348.7,92.4l-1.0,0.6l-0.9,-0.8l1.0,-0.6zM324.7,84.4l-1.1,-0.3l-0.0,-1.1l1.1,0.3zM355.0,90.8l-0.1,-1.9l1.7,-0.7l0.1,1.9zM375.4,91.4l0.3,-1.0l1.0,0.1l-0.3,1.0zM354.3,100.4l-0.9,0.5l-0.7,-0.7l0.9,-0.5zM335.9,107.6l-1.1,-1.1l0.8,-1.3l1.1,1.1z" fill="#3d5f95"/>
<path d="M310.8,115.9l1.1,-1.5l1.8,0.6l-1.1,1.5zM372.0,89.6l-0.1,-1.0l0.9,-0.4l0.1,1.0zM315.7,116.6l0.0,-1.0l0.9,-0.2l-0.0,1.0zM384.6,130.4l-0.7,-0.6l0.4,-0.9l0.7,0.6zM340.6,129.0l-1.7,0.6l-1.1,-1.4l1.7,-0.6zM342.9,113.1l-1.3,0.8l-1.1,-1.0l1.3,-0.8zM369.6,124.8l-0.7,-0.9l0.6,-0.9l0.7,0.9zM357.8,117.3l-0.6,-1.1l0.9,-0.9l0.6,1.1zM327.6,100.5l0.1,-1.9l1.9,-0.4l-0.1,1.9zM327.6,89.9l-1.0,0.2l-0.4,-0.9l1.0,-0.2zM367.3,83.5l-0.8,-0.7l0.4,-1.0l0.8,0.7zM365.2,130.0l0.0,-1.1l1.1,-0.3l-0.0,1.1zM343.4,112.0l0.7,-1.2l1.4,0.3l-0.7,1.2zM357.4,97.9l-1.0,-0.1l-0.2,-1.0l1.0,0.1zM383.0,120.1l-1.0,-0.5l0.2,-1.1l1.0,0.5zM341.1,105.4l-1.6,-0.1l-0.4,-1.6l1.6,0.1zM376.8,116.5l0.6,-1.5l1.6,0.2l-0.6,1.5zM385.6,118.6l-1.4,-0.9l0.5,-1.6l1.4,0.9zM380.7,86.6l-1.4,-1.3l0.8,-1.7l1.4,1.3zM329.1,108.8l0.2,-1.1l1.2,-0.1l-0.2,1.1zM326.7,125.3l0.9,-1.5l1.7,0.4l-0.9,1.5zM348.2,91.4l0.1,-1.8l1.8,-0.4l-0.1,1.8zM322.4,110.8l0.1,-1.4l1.4,-0.3l-0.1,1.4zM327.8,126.1l-1.1,-1.5l1.1,-1.4l1.1,1.5zM312.9,93.4l-0.4,-1.0l0.8,-0.6l0.4,1.0zM318.6,120.2l-0.6,-1.6l1.4,-1.0l0.6,1.6zM354.9,118.4l0.3,-1.5l1.5,-0.1l-0.3,1.5zM386.0,127.1l-1.3,0.4l-0.7,-1.2l1.3,-0.4zM386.7,108.3l-0.4,-0.7l0.6,-0.6l0.4,0.7zM380.8,109.2l-1.1,-1.3l1.0,-1.4l1.1,1.3zM337.7,113.0l-0.3,-1.3l1.1,-0.7l0.3,1.3zM313.1,112.1l-0.9,-0.2l-0.1,-0.9l0.9,0.2zM369.3,125.2l0.3,-1.3l1.3,-0.1l-0.3,1.3zM312.8,103.7l-1.6,-0.0l-0.4,-1.5l1.6,0.0zM337.1,98.1l0.1,-1.1l1.1,-0.2l-0.1,1.1zM385.2,91.5l-0.5,-0.9l0.7,-0.7l0.5,0.9zM375.9,99.4l0.8,-1.0l1.2,0.5l-0.8,1.0zM334.4,96.6l-1.6,0.3l-0.8,-1.4l1.6,-0.3zM344.6,128.4l-0.9,0.5l-0.7,-0.7l0.9,-0.5zM364.8,88.9l-1.3,0.2l-0.6,-1.2l1.3,-0.2zM386.2,128.9l-0.3,-0.9l0.8,-0.5l0.3,0.9zM367.3,125.9l-0.6,-0.7l0.5,-0.7l0.6,0.7zM312.6,119.4l0.0,-1.7l1.6,-0.4l-0.0,1.7zM336.3,130.9l-0.5,-0.7l0.5,-0.7l0.5,0.7zM374.5,109.8l-0.9,0.4l-0.7,-0.8l0.9,-0.4zM364.6,95.3l-1.0,-0.6l0.2,-1.2l1.0,0.6zM369.1,99.5l-1.8,-0.7l0.2,-1.9l1.8,0.7zM323.0,115.3l0.1,-0.9l0.9,-0.2l-0.1,0.9zM345.5,85.1l-0.2,-1.4l1.2,-0.6l0.2,1.4zM359.0,132.9l-0.9,-0.5l0.3,-1.0l0.9,0.5zM322.3,127.7l-1.2,-0.7l0.3,-1.3l1.2,0.7zM360.7,125.6l-1.5,0.7l-1.1,-1.2l1.5,-0.7zM381.7,107.7l0.6,-0.6l0.8,0.4l-0.6,0.6zM321.8,109.9l0.8,-0.6l0.8,0.6l-0.8,0.6zM321.0,93.6l-1.2,-0.4l0.1,-1.2l1.2,0.4zM346.4,87.4l-0.3,-1.1l1.0,-0.6l0.3,1.1zM315.1,120.3l-0.7,-1.0l0.8,-0.9l0.7,1.0zM323.8,105.5l-1.8,-0.7l0.1,-1.9l1.8,0.7zM387.5,110.8l-0.2,-0.9l0.8,-0.5l0.2,0.9zM381.6,132.7l0.2,-0.9l0.9,-0.0l-0.2,0.9zM331.1,84.9l-1.0,-0.5l0.2,-1.1l1.0,0.5zM364.1,86.6l-1.3,0.1l-0.5,-1.2l1.3,-0.1zM361.3,123.4l0.4,-0.8l0.9,0.2l-0.4,0.8zM369.5,105.5l-0.6,-1.2l1.0,-0.9l0.6,1.2zM311.6,123.2l-0.1,-1.4l1.4,-0.5l0.1,1.4zM339.4,116.0l1.1,-0.9l1.2,0.8l-1.1,0.9zM380.6,122.7l0.3,-1.2l1.2,-0.1l-0.3,1.2zM334.0,128.2l-0.4,-1.5l1.3,-0.8l0.4,1.5zM315.5,94.8l-0.7,-0.9l0.7,-0.9l0.7,0.9zM366.8,112.0l-0.8,-0.4l0.2,-0.8l0.8,0.4zM367.3,105.3l0.5,-1.7l1.8,-0.0l-0.5,1.7zM350.6,92.6l-0.2,-0.9l0.8,-0.5l0.2,0.9zM342.8,88.5l-0.5,-0.7l0.5,-0.7l0.5,0.7zM382.8,96.6l-0.6,-0.9l0.7,-0.8l0.6,0.9zM325.7,99.7l0.8,-1.4l1.6,0.3l-0.8,1.4zM348.9,105.7l-0.0,-1.1l1.0,-0.3l0.0,1.1zM378.4,102.9l0.8,-0.6l0.8,0.6l-0.8,0.6zM343.3,131.6l-0.8,0.3l-0.5,-0.7l0.8,-0.3zM389.3,108.3l-1.4,0.9l-1.2,-1.1l1.4,-0.9zM363.5,125.8l-1.7,-0.6l0.2,-1.8l1.7,0.6zM387.0,120.2l-0.6,-1.2l1.0,-0.9l0.6,1.2zM341.0,121.9l-0.9,-1.5l1.2,-1.3l0.9,1.5zM384.4,99.6l-1.2,-0.3l-0.0,-1.2l1.2,0.3zM329.6,95.7l0.4,-1.3l1.3,0.0l-0.4,1.3zM388.0,123.0l-1.0,0.4l-0.7,-0.8l1.0,-0.4zM325.0,129.2l-0.1,-1.8l1.7,-0.7l0.1,1.8zM352.1,88.7l0.5,-1.2l1.3,0.1l-0.5,1.2zM339.3,114.2l-0.4,-1.8l1.6,-0.9l0.4,1.8zM329.8,120.1l1.2,-1.4l1.7,0.7l-1.2,1.4zM348.5,109.4l-1.6,-1.0l0.5,-1.8l1.6,1.0zM326.6,100.3l-1.3,0.8l-1.1,-1.1l1.3,-0.8zM321.2,83.5l-1.7,-0.7l0.2,-1.9l1.7,0.7zM338.0,122.2l0.4,-1.3l1.4,0.0l-0.4,1.3zM367.9,101.2l-0.8,-0.9l0.7,-1.0l0.8,0.9zM372.6,110.6l-1.3,0.7l-1.1,-1.0l1.3,-0.7zM318.0,93.6l-1.4,0.9l-1.3,-1.1l1.4,-0.9zM341.0,133.9l1.1,-1.3l1.5,0.7l-1.1,1.3zM358.6,86.4l0.0,-1.3l1.2,-0.3l-0.0,1.3zM345.4,126.3l0.1,-1.3l1.3,-0.3l-0.1,1.3zM347.5,107.8l-0.8,-1.1l0.8,-1.1l0.8,1.1zM314.3,123.6l-1.7,0.5l-0.9,-1.5l1.7,-0.5zM348.9,93.1l-0.6,-0.7l0.5,-0.8l0.6,0.7zM345.4,122.0l0.9,-1.1l1.3,0.6l-0.9,1.1zM365.0,94.0l0.7,-1.0l1.1,0.4l-0.7,1.0zM342.2,128.5l-1.8,0.6l-1.1,-1.6l1.8,-0.6zM332.4,96.5l0.2,-1.2l1.2,-0.1l-0.2,1.2zM318.3,88.8l0.2,-1.2l1.2,-0.1l-0.2,1.2zM361.1,114.3l0.7,-1.4l1.6,0.3l-0.7,1.4zM353.1,85.4l-0.7,-0.9l0.7,-0.9l0.7,0.9zM361.7,130.3l0.9,-1.5l1.7,0.5l-0.9,1.5zM332.9,107.4l-0.2,-1.4l1.3,-0.5l0.2,1.4zM357.7,87.7l1.0,-0.9l1.1,0.7l-1.0,0.9zM336.6,128.9l-1.6,0.3l-0.7,-1.4l1.6,-0.3zM381.9,117.5l-0.1,-1.8l1.8,-0.6l0.1,1.8zM354.4,119.7l-1.1,-0.0l-0.3,-1.0l1.1,0.0zM371.6,87.5l-0.9,0.1l-0.4,-0.9l0.9,-0.1zM364.1,85.9l-1.6,-0.8l0.4,-1.8l1.6,0.8zM371.1,114.9l-1.2,0.2l-0.5,-1.1l1.2,-0.2zM326.5,128.8l-1.5,-0.9l0.4,-1.6l1.5,0.9zM355.7,95.0l1.2,-1.1l1.4,0.8l-1.2,1.1zM352.7,97.9l0.7,-0.7l0.9,0.5l-0.7,0.7zM355.6,122.5l0.8,-1.6l1.7,0.4l-0.8,1.6zM314.3,124.2l-1.6,-0.9l0.4,-1.8l1.6,0.9zM370.6,83.7l-1.2,-0.2l-0.2,-1.2l1.2,0.2zM336.5,97.2l0.4,-1.5l1.5,-0.1l-0.4,1.5zM341.3,87.1l-0.9,-1.0l0.7,-1.2l0.9,1.0zM365.1,93.9l-0.8,-0.5l0.3,-0.9l0.8,0.5zM331.2,99.2l1.2,-1.2l1.5,0.8l-1.2,1.2zM384.0,104.5l-0.6,-0.7l0.5,-0.8l0.6,0.7zM357.4,131.9l-1.7,-0.2l-0.3,-1.6l1.7,0.2zM331.0,88.7l0.1,-0.8l0.8,-0.1l-0.1,0.8zM367.6,85.4l-1.1,-1.6l1.2,-1.5l1.1,1.6zM350.3,133.3l-1.5,0.7l-1.1,-1.3l1.5,-0.7zM364.1,131.8l-0.9,-0.2l-0.0,-1.0l0.9,0.2zM340.7,115.5l0.5,-0.7l0.8,0.3l-0.5,0.7zM323.7,119.2l-0.9,-0.5l0.2,-1.0l0.9,0.5zM330.3,110.6l0.8,-1.3l1.5,0.4l-0.8,1.3zM376.8,112.3l-1.0,-0.6l0.3,-1.1l1.0,0.6zM333.5,134.2l0.4,-1.3l1.4,-0.0l-0.4,1.3zM339.4,97.8l-1.5,-0.1l-0.3,-1.5l1.5,0.1zM340.4,123.6l-0.5,-1.0l0.9,-0.7l0.5,1.0zM357.0,89.6l0.1,-1.1l1.1,-0.2l-0.1,1.1zM352.2,88.1l-1.8,0.2l-0.7,-1.7l1.8,-0.2zM379.9,96.2l-1.2,-0.3l-0.1,-1.3l1.2,0.3zM342.6,82.3l-1.9,0.3l-0.8,-1.8l1.9,-0.3zM338.5,105.1l-0.2,-1.1l1.0,-0.5l0.2,1.1zM362.2,85.4l0.0,-0.9l0.9,-0.2l-0.0,0.9zM355.6,89.0l0.2,-1.3l1.3,-0.1l-0.2,1.3zM345.5,95.6l-1.8,0.8l-1.3,-1.5l1.8,-0.8z" fill="#98b0d0"/>
<path d="M359.9,131.8l-1.3,0.1l-0.5,-1.2l1.3,-0.1zM386.7,131.8l0.8,-1.6l1.8,0.3l-0.8,1.6zM338.5,92.6l0.4,-1.1l1.2,0.1l-0.4,1.1zM365.6,110.1l-1.2,0.6l-0.9,-1.0l1.2,-0.6zM370.3,127.8l-1.8,-0.6l0.0,-1.9l1.8,0.6zM378.6,92.6l-0.9,-0.9l0.6,-1.1l0.9,0.9zM348.2,100.4l-0.5,-1.1l0.9,-0.8l0.5,1.1zM374.0,100.4l-1.1,-0.6l0.2,-1.3l1.1,0.6zM321.8,119.5l-1.2,-0.6l0.2,-1.3l1.2,0.6zM339.7,125.5l-1.6,0.5l-0.9,-1.4l1.6,-0.5zM335.7,109.6l-0.5,-1.0l0.8,-0.8l0.5,1.0zM381.0,87.2l-0.7,0.5l-0.7,-0.5l0.7,-0.5zM352.5,117.2l-0.3,-1.3l1.1,-0.7l0.3,1.3zM348.0,106.3l-0.7,-0.6l0.4,-0.8l0.7,0.6zM337.3,97.1l0.5,-1.5l1.5,0.1l-0.5,1.5zM374.6,116.2l0.4,-1.5l1.6,-0.0l-0.4,1.5zM355.2,127.7l0.2,-1.8l1.8,-0.3l-0.2,1.8zM325.4,119.9l-0.9,0.2l-0.5,-0.8l0.9,-0.2zM347.0,106.1l-1.0,-0.8l0.5,-1.2l1.0,0.8zM380.9,119.1l-0.6,-1.8l1.5,-1.1l0.6,1.8zM374.7,88.8l1.1,-1.0l1.3,0.8l-1.1,1.0zM335.7,94.7l0.9,-0.7l0.9,0.6l-0.9,0.7zM357.1,90.8l0.6,-0.7l0.8,0.4l-0.6,0.7zM351.0,128.5l-1.3,0.4l-0.7,-1.2l1.3,-0.4zM375.1,87.6l1.5,-1.2l1.6,1.1l-1.5,1.2zM385.0,117.8l-0.7,-1.1l0.8,-1.0l0.7,1.1zM345.9,103.3l-0.9,-0.7l0.4,-1.0l0.9,0.7zM385.2,113.8l-0.3,-1.6l1.5,-0.8l0.3,1.6zM346.5,102.8l0.1,-1.0l1.0,-0.2l-0.1,1.0zM343.4,85.3l-0.0,-1.3l1.3,-0.4l0.0,1.3zM344.3,122.1l-0.2,-1.8l1.7,-0.7l0.2,1.8zM372.3,109.3l-1.0,-0.5l0.2,-1.1l1.0,0.5zM362.9,116.9l-1.2,0.1l-0.5,-1.1l1.2,-0.1zM384.6,88.9l-1.8,-0.6l0.0,-1.9l1.8,0.6zM321.0,116.8l0.6,-1.2l1.3,0.3l-0.6,1.2zM339.1,116.3l-0.5,-0.8l0.6,-0.7l0.5,0.8zM358.5,87.0l-0.4,-1.3l1.1,-0.7l0.4,1.3zM342.8,83.0l0.2,-1.5l1.6,-0.2l-0.2,1.5zM373.5,112.5l0.8,-0.7l0.9,0.6l-0.8,0.7zM322.0,100.0l-0.8,-0.5l0.3,-0.9l0.8,0.5zM351.4,121.9l-1.8,0.0l-0.5,-1.7l1.8,-0.0zM314.4,118.0l-1.0,-0.4l0.0,-1.1l1.0,0.4zM350.1,96.9l-0.9,-0.8l0.5,-1.1l0.9,0.8zM386.8,106.9l0.8,-1.0l1.2,0.5l-0.8,1.0zM384.8,112.0l0.2,-1.2l1.2,-0.1l-0.2,1.2zM342.4,134.5l-0.2,-1.6l1.5,-0.7l0.2,1.6zM377.9,86.9l-1.4,-0.6l0.2,-1.5l1.4,0.6zM386.3,88.7l0.4,-1.3l1.3,0.0l-0.4,1.3zM380.3,96.7l-1.5,-0.3l-0.2,-1.6l1.5,0.3zM315.7,131.8l0.6,-0.9l1.0,0.3l-0.6,0.9zM363.7,124.5l-0.8,0.3l-0.5,-0.7l0.8,-0.3zM330.9,93.8l1.0,-0.9l1.2,0.7l-1.0,0.9zM316.7,118.1l-0.8,-1.3l1.0,-1.1l0.8,1.3zM367.7,89.5l0.6,-1.1l1.2,0.3l-0.6,1.1zM344.8,84.0l-0.5,-0.9l0.8,-0.7l0.5,0.9zM319.2,133.7l-1.6,0.2l-0.6,-1.5l1.6,-0.2zM316.5,97.2l-1.0,0.2l-0.5,-0.9l1.0,-0.2zM376.5,110.5l-1.0,0.2l-0.5,-0.9l1.0,-0.2zM335.1,119.4l-1.1,0.2l-0.5,-1.0l1.1,-0.2zM383.3,83.4l-1.0,0.4l-0.6,-0.8l1.0,-0.4zM369.3,83.6l-0.4,-1.7l1.5,-0.9l0.4,1.7zM376.8,122.4l-1.1,-1.0l0.7,-1.3l1.1,1.0zM320.6,115.9l-1.5,-1.2l0.7,-1.8l1.5,1.2zM388.0,84.0l-1.4,-0.1l-0.3,-1.4l1.4,0.1zM338.4,87.2l-1.7,0.8l-1.3,-1.4l1.7,-0.8zM319.9,108.4l-1.1,0.8l-1.0,-0.9l1.1,-0.8zM316.9,133.4l-0.7,-1.5l1.3,-1.1l0.7,1.5zM373.5,115.8l0.1,-1.9l1.8,-0.5l-0.1,1.9zM364.8,90.7l0.2,-1.9l1.8,-0.3l-0.2,1.9zM322.1,110.2l-0.6,-1.7l1.5,-1.1l0.6,1.7zM379.1,90.3l-0.8,-0.5l0.2,-0.9l0.8,0.5zM314.0,108.4l0.3,-0.9l1.0,0.0l-0.3,0.9zM325.1,120.0l-1.3,0.6l-0.9,-1.0l1.3,-0.6zM377.5,86.7l-0.0,-1.5l1.5,-0.4l0.0,1.5zM356.7,87.0l-0.7,-1.2l1.0,-1.0l0.7,1.2zM377.4,131.6l-1.4,-1.3l0.8,-1.7l1.4,1.3zM337.5,120.0l-1.2,0.4l-0.7,-1.1l1.2,-0.4zM343.8,96.2l0.3,-1.7l1.7,-0.1l-0.3,1.7zM330.9,101.2l-0.6,-0.9l0.7,-0.8l0.6,0.9zM357.9,132.6l0.3,-1.5l1.6,-0.1l-0.3,1.5zM349.1,104.8l0.1,-1.4l1.4,-0.3l-0.1,1.4zM336.3,87.2l-1.6,-0.1l-0.4,-1.6l1.6,0.1zM330.0,115.6l0.2,-1.2l1.2,-0.1l-0.2,1.2zM328.7,95.2l-1.0,-0.2l-0.0,-1.0l1.0,0.2zM368.5,98.8l0.2,-1.3l1.3,-0.2l-0.2,1.3zM372.7,92.7l-0.6,-1.1l0.9,-0.9l0.6,1.1zM367.6,134.4l-0.5,-1.5l1.3,-0.9l0.5,1.5zM383.1,119.1l-0.2,-1.9l1.8,-0.7l0.2,1.9zM360.3,104.7l1.0,-1.6l1.8,0.5l-1.0,1.6zM314.0,91.5l0.7,-1.4l1.5,0.3l-0.7,1.4zM343.6,100.8l-0.8,-0.4l0.2,-0.9l0.8,0.4zM323.0,115.1l-1.3,-1.3l0.8,-1.6l1.3,1.3zM381.9,131.2l-1.0,0.0l-0.3,-1.0l1.0,-0.0zM330.6,119.6l-0.8,-0.3l0.1,-0.9l0.8,0.3zM319.4,98.5l-0.4,-1.0l0.9,-0.7l0.4,1.0zM318.9,106.4l0.4,-1.1l1.2,0.0l-0.4,1.1zM347.5,133.6l0.6,-1.4l1.6,0.1l-0.6,1.4zM377.9,86.3l-0.4,-1.5l1.3,-0.8l0.4,1.5zM314.4,87.2l-1.1,-0.4l0.0,-1.2l1.1,0.4zM367.4,91.5l-1.3,-1.4l1.0,-1.6l1.3,1.4z" fill="#6a8cbc"/>
<path d="M352.3,110.4l-1.5,-0.0l-0.4,-1.5l1.5,0.0zM386.7,86.8l-1.0,0.2l-0.4,-0.9l1.0,-0.2zM331.9,111.2l-0.4,-1.5l1.3,-0.8l0.4,1.5zM333.2,119.7l-1.4,1.0l-1.3,-1.0l1.4,-1.0zM365.3,84.8l0.6,-1.2l1.3,0.2l-0.6,1.2zM380.2,101.2l0.2,-1.2l1.2,-0.2l-0.2,1.2zM346.0,121.3l-0.7,-1.4l1.2,-1.0l0.7,1.4zM339.9,123.4l-1.6,-0.1l-0.3,-1.5l1.6,0.1zM368.5,96.3l-1.1,-0.1l-0.2,-1.1l1.1,0.1zM350.9,108.2l0.4,-1.4l1.4,0.0l-0.4,1.4zM363.6,126.2l-1.8,0.2l-0.6,-1.7l1.8,-0.2zM331.0,102.2l0.5,-0.8l0.9,0.2l-0.5,0.8zM353.2,119.7l0.4,-1.0l1.1,0.1l-0.4,1.0zM357.9,124.1l-1.4,0.5l-0.9,-1.2l1.4,-0.5zM333.0,88.3l-0.9,-0.7l0.4,-1.0l0.9,0.7zM384.3,119.4l-0.5,-0.7l0.5,-0.7l0.5,0.7zM312.7,89.1l-1.3,-1.2l0.8,-1.6l1.3,1.2zM376.3,97.3l-1.5,0.7l-1.0,-1.2l1.5,-0.7zM332.6,95.8l0.4,-1.3l1.4,0.0l-0.4,1.3zM339.8,133.8l-1.4,-0.7l0.3,-1.6l1.4,0.7zM366.7,112.5l-0.9,-0.7l0.4,-1.0l0.9,0.7zM364.9,121.7l-1.0,-0.3l-0.0,-1.0l1.0,0.3zM374.4,90.6l-1.6,-0.3l-0.2,-1.7l1.6,0.3zM314.1,94.7l-1.7,0.5l-0.9,-1.5l1.7,-0.5zM366.6,109.4l-0.8,0.5l-0.7,-0.6l0.8,-0.5zM319.6,113.6l-1.2,-0.8l0.5,-1.3l1.2,0.8zM354.7,105.2l-1.6,-0.8l0.3,-1.7l1.6,0.8zM347.7,108.8l1.2,-1.3l1.6,0.8l-1.2,1.3zM344.1,94.4l0.0,-1.2l1.1,-0.3l-0.0,1.2zM367.4,98.1l-0.1,-1.7l1.6,-0.6l0.1,1.7zM371.4,85.3l0.2,-1.7l1.7,-0.3l-0.2,1.7zM380.1,87.2l-1.4,-0.3l-0.1,-1.4l1.4,0.3zM370.6,100.8l-1.0,-1.3l1.0,-1.4l1.0,1.3zM370.8,84.9l-1.6,-0.0l-0.4,-1.6l1.6,0.0zM318.4,116.4l-1.5,0.6l-1.0,-1.3l1.5,-0.6zM344.8,115.6l0.1,-0.9l0.9,-0.1l-0.1,0.9zM357.8,86.3l-1.3,0.9l-1.2,-1.0l1.3,-0.9zM353.5,82.9l-0.7,-1.1l0.9,-1.0l0.7,1.1zM362.4,114.6l-0.9,-1.1l0.8,-1.2l0.9,1.1zM337.5,105.2l0.4,-1.2l1.2,0.1l-0.4,1.2zM323.3,93.6l-0.8,-0.8l0.6,-1.0l0.8,0.8zM353.8,85.1l-1.3,0.9l-1.3,-0.9l1.3,-0.9zM380.9,91.4l-1.0,-0.7l0.4,-1.2l1.0,0.7zM321.7,96.2l-0.1,-1.3l1.2,-0.4l0.1,1.3zM341.3,104.7l-0.4,-1.0l0.8,-0.7l0.4,1.0zM346.5,124.7l-0.9,-0.9l0.6,-1.1l0.9,0.9zM378.9,135.2l-1.7,-0.7l0.2,-1.8l1.7,0.7zM353.0,106.4l-1.2,0.5l-0.8,-1.0l1.2,-0.5zM383.1,92.6l0.3,-0.9l0.9,0.0l-0.3,0.9zM342.2,124.0l0.6,-1.4l1.5,0.2l-0.6,1.4zM354.3,124.6l-0.5,-1.5l1.3,-0.9l0.5,1.5zM357.6,125.5l-0.1,-1.0l0.9,-0.4l0.1,1.0zM319.6,91.9l0.5,-1.2l1.3,0.1l-0.5,1.2zM351.6,97.2l0.0,-1.5l1.4,-0.4l-0.0,1.5zM311.2,88.0l0.2,-1.7l1.7,-0.2l-0.2,1.7zM381.1,93.0l0.7,-0.7l0.8,0.5l-0.7,0.7zM372.3,91.9l-1.0,0.1l-0.4,-1.0l1.0,-0.1zM314.5,94.1l1.0,-1.0l1.2,0.6l-1.0,1.0zM360.7,110.7l-0.7,-0.8l0.6,-0.9l0.7,0.8zM372.8,110.2l-1.2,-0.7l0.3,-1.3l1.2,0.7zM368.4,97.4l-1.2,-0.0l-0.3,-1.2l1.2,0.0zM336.8,106.5l-0.2,-0.9l0.8,-0.4l0.2,0.9zM378.2,108.3l0.2,-1.5l1.5,-0.3l-0.2,1.5zM376.2,101.1l0.7,-0.9l1.1,0.5l-0.7,0.9zM362.0,106.6l-1.7,0.7l-1.1,-1.4l1.7,-0.7zM335.4,86.2l-1.1,-0.1l-0.2,-1.1l1.1,0.1zM362.4,103.3l0.8,-0.8l1.0,0.6l-0.8,0.8zM368.7,127.7l-0.9,-0.5l0.3,-1.0l0.9,0.5zM355.3,93.0l-0.2,-1.2l1.1,-0.6l0.2,1.2zM332.6,87.6l-0.6,-1.6l1.3,-1.0l0.6,1.6zM317.5,127.6l-0.6,-1.2l0.9,-0.9l0.6,1.2zM387.9,85.8l-1.1,-0.9l0.6,-1.3l1.1,0.9zM375.1,114.8l1.1,-1.5l1.8,0.6l-1.1,1.5zM354.1,105.4l-1.3,-0.7l0.3,-1.4l1.3,0.7zM366.5,118.3l0.4,-1.3l1.4,0.0l-0.4,1.3zM388.4,95.3l-1.1,0.3l-0.6,-1.0l1.1,-0.3zM317.9,103.8l0.2,-1.4l1.3,-0.2l-0.2,1.4zM340.4,126.5l-1.0,0.7l-1.0,-0.8l1.0,-0.7zM380.9,117.4l-1.7,-0.1l-0.4,-1.7l1.7,0.1zM313.8,111.5l0.0,-1.9l1.8,-0.5l-0.0,1.9zM364.5,111.4l-0.8,-1.2l0.9,-1.1l0.8,1.2zM327.9,111.6l-1.8,-0.3l-0.2,-1.8l1.8,0.3zM359.8,129.3l-1.3,-1.1l0.7,-1.6l1.3,1.1zM365.0,87.8l-1.1,-0.9l0.5,-1.3l1.1,0.9zM381.8,133.5l-1.7,-0.8l0.3,-1.9l1.7,0.8zM366.2,112.1l-0.3,-1.6l1.5,-0.7l0.3,1.6zM341.2,89.9l-1.8,0.2l-0.7,-1.7l1.8,-0.2zM353.5,105.4l-1.4,-0.3l-0.1,-1.4l1.4,0.3zM359.6,104.2l-0.8,-0.6l0.3,-0.9l0.8,0.6zM316.0,123.2l-1.3,0.8l-1.2,-1.0l1.3,-0.8zM344.3,85.2l-1.5,-0.9l0.5,-1.7l1.5,0.9zM359.1,127.5l0.7,-1.0l1.1,0.4l-0.7,1.0zM341.0,115.6l-0.5,-0.9l0.8,-0.7l0.5,0.9zM355.0,84.0l-1.0,-0.8l0.5,-1.2l1.0,0.8zM378.1,86.5l-1.5,-0.9l0.5,-1.7l1.5,0.9zM332.3,109.4l-1.1,0.3l-0.6,-1.0l1.1,-0.3zM331.5,120.6l0.5,-1.2l1.3,0.2l-0.5,1.2zM351.3,107.6l-1.0,-0.5l0.2,-1.0l1.0,0.5zM331.1,129.3l-0.8,-1.7l1.4,-1.3l0.8,1.7zM364.7,125.5l0.3,-1.3l1.3,-0.1l-0.3,1.3zM369.9,130.1l-0.9,-1.0l0.7,-1.2l0.9,1.0zM316.3,103.4l-0.5,-1.7l1.5,-0.9l0.5,1.7zM371.2,128.9l-1.0,0.6l-0.8,-0.8l1.0,-0.6zM341.6,106.0l-0.9,-1.1l0.8,-1.2l0.9,1.1zM315.3,98.2l-0.5,-1.0l0.8,-0.8l0.5,1.0zM377.7,120.0l-1.6,0.5l-0.9,-1.4l1.6,-0.5zM349.3,114.9l0.5,-1.6l1.7,0.0l-0.5,1.6zM322.2,103.1l-1.3,0.2l-0.6,-1.2l1.3,-0.2zM386.6,88.9l-1.8,0.7l-1.2,-1.6l1.8,-0.7zM387.5,112.7l-1.2,-0.9l0.6,-1.4l1.2,0.9zM378.9,132.3l-1.5,-0.7l0.2,-1.6l1.5,0.7zM383.8,126.8l-0.9,0.3l-0.6,-0.8l0.9,-0.3zM368.5,96.7l0.3,-1.1l1.1,0.0l-0.3,1.1zM342.5,94.2l0.7,-0.7l0.9,0.5l-0.7,0.7zM364.7,93.4l1.2,-1.1l1.4,0.9l-1.2,1.1zM334.7,89.2l-1.4,0.5l-0.9,-1.2l1.4,-0.5zM385.0,101.8l-1.2,0.1l-0.5,-1.1l1.2,-0.1zM349.2,104.5l0.2,-1.8l1.8,-0.3l-0.2,1.8zM360.2,132.2l-1.2,-0.1l-0.2,-1.2l1.2,0.1zM347.5,106.8l0.7,-0.5l0.7,0.5l-0.7,0.5zM332.2,109.6l-1.4,-1.1l0.7,-1.6l1.4,1.1zM324.5,90.8l0.5,-1.2l1.2,0.1l-0.5,1.2zM375.5,102.4l0.0,-1.9l1.8,-0.5l-0.0,1.9zM335.5,129.7l-0.4,-0.8l0.7,-0.7l0.4,0.8zM351.9,126.4l-1.1,-1.0l0.6,-1.4l1.1,1.0zM359.3,89.2l-1.3,-0.7l0.3,-1.4l1.3,0.7zM311.6,117.9l-1.0,-0.6l0.3,-1.2l1.0,0.6zM382.7,92.1l-0.3,-1.5l1.4,-0.7l0.3,1.5zM330.9,101.4l-1.3,-0.5l0.1,-1.4l1.3,0.5zM381.4,100.0l0.3,-0.9l1.0,0.0l-0.3,0.9zM347.6,128.6l-1.2,0.5l-0.8,-1.1l1.2,-0.5zM325.0,96.9l0.4,-1.1l1.1,0.1l-0.4,1.1zM347.6,95.7l-1.5,-1.1l0.6,-1.8l1.5,1.1zM378.3,131.1l-1.5,0.1l-0.5,-1.4l1.5,-0.1zM346.7,84.3l0.4,-1.8l1.8,-0.1l-0.4,1.8zM332.7,100.3l1.2,-1.4l1.7,0.8l-1.2,1.4zM388.7,116.7l-1.6,-0.2l-0.3,-1.6l1.6,0.2zM374.1,106.9l-1.8,0.4l-0.9,-1.7l1.8,-0.4zM345.3,102.0l-1.8,0.7l-1.1,-1.6l1.8,-0.7zM342.8,87.9l-0.9,-0.5l0.2,-1.0l0.9,0.5zM354.8,125.9l-1.0,-0.4l0.2,-1.0l1.0,0.4z" fill="#4668a0"/>
<ellipse cx="365.0" cy="94.0" rx="2.6" ry="2.1" fill="#f2e8ec" opacity="0.8"/>
<path d="M363.0,92.6 l3.8,0.3 l-1.6,2.6 z" fill="#dc3c5a"/>
<path d="M360.4,90.8 l2.2,0.5 l-1.1,1.3 z" fill="#111"/>
<ellipse cx="373.5" cy="91.0" rx="2.6" ry="2.1" fill="#f2e8ec" opacity="0.8"/>
<path d="M371.5,89.6 l3.8,0.3 l-1.6,2.6 z" fill="#dc3c5a"/>
<path d="M368.9,87.8 l2.2,0.5 l-1.1,1.3 z" fill="#111"/>
<ellipse cx="382.5" cy="88.5" rx="2.6" ry="2.1" fill="#f2e8ec" opacity="0.8"/>
<path d="M380.5,87.1 l3.8,0.3 l-1.6,2.6 z" fill="#dc3c5a"/>
<path d="M377.9,85.3 l2.2,0.5 l-1.1,1.3 z" fill="#111"/>
<ellipse cx="386.0" cy="94.5" rx="2.6" ry="2.1" fill="#f2e8ec" opacity="0.8"/>
<path d="M384.0,93.1 l3.8,0.3 l-1.6,2.6 z" fill="#dc3c5a"/>
<path d="M381.4,91.3 l2.2,0.5 l-1.1,1.3 z" fill="#111"/>
<ellipse cx="320.0" cy="113.5" rx="2.6" ry="2.1" fill="#f2e8ec" opacity="0.8"/>
<path d="M318.0,112.1 l3.8,0.3 l-1.6,2.6 z" fill="#dc3c5a"/>
<path d="M315.4,110.3 l2.2,0.5 l-1.1,1.3 z" fill="#111"/>
<ellipse cx="326.5" cy="115.0" rx="2.6" ry="2.1" fill="#f2e8ec" opacity="0.8"/>
<path d="M324.5,113.6 l3.8,0.3 l-1.6,2.6 z" fill="#dc3c5a"/>
<path d="M321.9,111.8 l2.2,0.5 l-1.1,1.3 z" fill="#111"/>
<ellipse cx="336.5" cy="116.0" rx="2.6" ry="2.1" fill="#f2e8ec" opacity="0.8"/>
<path d="M334.5,114.6 l3.8,0.3 l-1.6,2.6 z" fill="#dc3c5a"/>
<path d="M331.9,112.8 l2.2,0.5 l-1.1,1.3 z" fill="#111"/>
<ellipse cx="348.0" cy="112.5" rx="2.6" ry="2.1" fill="#f2e8ec" opacity="0.8"/>
<path d="M346.0,111.1 l3.8,0.3 l-1.6,2.6 z" fill="#dc3c5a"/>
<path d="M343.4,109.3 l2.2,0.5 l-1.1,1.3 z" fill="#111"/>
<ellipse cx="351.5" cy="117.5" rx="2.6" ry="2.1" fill="#f2e8ec" opacity="0.8"/>
<path d="M349.5,116.1 l3.8,0.3 l-1.6,2.6 z" fill="#dc3c5a"/>
<path d="M346.9,114.3 l2.2,0.5 l-1.1,1.3 z" fill="#111"/>
<ellipse cx="361.5" cy="114.0" rx="2.6" ry="2.1" fill="#f2e8ec" opacity="0.8"/>
<path d="M359.5,112.6 l3.8,0.3 l-1.6,2.6 z" fill="#dc3c5a"/>
<path d="M356.9,110.8 l2.2,0.5 l-1.1,1.3 z" fill="#111"/>
<ellipse cx="332.5" cy="131.0" rx="2.6" ry="2.1" fill="#f2e8ec" opacity="0.8"/>
<path d="M330.5,129.6 l3.8,0.3 l-1.6,2.6 z" fill="#dc3c5a"/>
<path d="M327.9,127.8 l2.2,0.5 l-1.1,1.3 z" fill="#111"/>
<ellipse cx="339.5" cy="132.0" rx="2.6" ry="2.1" fill="#f2e8ec" opacity="0.8"/>
<path d="M337.5,130.6 l3.8,0.3 l-1.6,2.6 z" fill="#dc3c5a"/>
<path d="M334.9,128.8 l2.2,0.5 l-1.1,1.3 z" fill="#111"/>
<line x1="367.60" y1="74.00" x2="384.50" y2="74.00" stroke="#111" stroke-width="1.8"/>
<line x1="368.00" y1="131.20" x2="384.50" y2="131.20" stroke="#111" stroke-width="1.8"/>
</g>
<g id="panelD">
<text x="400.00" y="10.20" font-size="12.4" font-weight="bold" fill="#111" color="#111">D</text>
<line x1="422.50" y1="36.50" x2="422.50" y2="124.80" stroke="#1a1a1a" stroke-width="1.05"/>
<line x1="420.00" y1="124.80" x2="422.50" y2="124.80" stroke="#1a1a1a" stroke-width="1.05"/>
<text x="418.10" y="127.25" font-size="6.8" text-anchor="end" fill="#222" color="#222">0</text>
<line x1="420.00" y1="107.14" x2="422.50" y2="107.14" stroke="#1a1a1a" stroke-width="1.05"/>
<text x="418.10" y="109.59" font-size="6.8" text-anchor="end" fill="#222" color="#222">5</text>
<line x1="420.00" y1="89.48" x2="422.50" y2="89.48" stroke="#1a1a1a" stroke-width="1.05"/>
<text x="418.10" y="91.93" font-size="6.8" text-anchor="end" fill="#222" color="#222">10</text>
<line x1="420.00" y1="71.82" x2="422.50" y2="71.82" stroke="#1a1a1a" stroke-width="1.05"/>
<text x="418.10" y="74.27" font-size="6.8" text-anchor="end" fill="#222" color="#222">15</text>
<line x1="420.00" y1="54.16" x2="422.50" y2="54.16" stroke="#1a1a1a" stroke-width="1.05"/>
<text x="418.10" y="56.61" font-size="6.8" text-anchor="end" fill="#222" color="#222">20</text>
<line x1="420.00" y1="36.50" x2="422.50" y2="36.50" stroke="#1a1a1a" stroke-width="1.05"/>
<text x="418.10" y="38.95" font-size="6.8" text-anchor="end" fill="#222" color="#222">25</text>
<line x1="422.50" y1="124.80" x2="514.00" y2="124.80" stroke="#1a1a1a" stroke-width="1.05"/>
<line x1="445.70" y1="124.80" x2="445.70" y2="127.00" stroke="#1a1a1a" stroke-width="1.05"/>
<line x1="491.50" y1="124.80" x2="491.50" y2="127.00" stroke="#1a1a1a" stroke-width="1.05"/>
<text x="446.40" y="135.15" font-size="6.8" text-anchor="middle" fill="#222" color="#222">Scr</text>
<text x="490.80" y="135.15" font-size="6.8" text-anchor="middle" fill="#222" color="#222">sgCD73</text>
<text x="465.00" y="22.25" font-size="6.8" text-anchor="middle" fill="#222" color="#222">Intratumoral CD8<tspan font-size="4.5" dy="-2.5">+</tspan><tspan dy="2.5"> T cells</tspan></text>
<text x="406.50" y="78.65" font-size="6.8" text-anchor="middle" fill="#222" color="#222" transform="rotate(-90 406.50 76.20)">Cell number</text>
<line x1="449.20" y1="43.20" x2="489.50" y2="43.20" stroke="#222" stroke-width="1.0"/>
<text x="470.00" y="44.14" font-size="6.5" text-anchor="middle" fill="#222" color="#222">*</text>
<rect x="444.40" y="90.30" width="2.60" height="2.60" fill="#d4453d"/>
<rect x="444.40" y="102.31" width="2.60" height="2.60" fill="#d4453d"/>
<rect x="444.40" y="118.91" width="2.60" height="2.60" fill="#d4453d"/>
<rect x="444.40" y="104.78" width="2.60" height="2.60" fill="#d4453d"/>
<rect x="490.20" y="49.33" width="2.60" height="2.60" fill="#27488c"/>
<rect x="490.20" y="55.69" width="2.60" height="2.60" fill="#27488c"/>
<rect x="490.20" y="81.12" width="2.60" height="2.60" fill="#27488c"/>
<rect x="490.20" y="92.42" width="2.60" height="2.60" fill="#27488c"/>
<rect x="490.20" y="103.72" width="2.60" height="2.60" fill="#27488c"/>
<line x1="430.20" y1="105.37" x2="461.10" y2="105.37" stroke="#111" stroke-width="1.3"/>
<line x1="445.70" y1="100.78" x2="445.70" y2="110.32" stroke="#111" stroke-width="1.3"/>
<line x1="437.20" y1="100.78" x2="453.40" y2="100.78" stroke="#111" stroke-width="1.3"/>
<line x1="437.20" y1="110.32" x2="453.40" y2="110.32" stroke="#111" stroke-width="1.3"/>
<line x1="476.10" y1="77.47" x2="507.00" y2="77.47" stroke="#111" stroke-width="1.3"/>
<line x1="491.50" y1="67.23" x2="491.50" y2="88.07" stroke="#111" stroke-width="1.3"/>
<line x1="484.80" y1="67.23" x2="499.50" y2="67.23" stroke="#111" stroke-width="1.3"/>
<line x1="484.80" y1="88.07" x2="499.50" y2="88.07" stroke="#111" stroke-width="1.3"/>
</g>
<g id="panelE">
<text x="1.50" y="170.40" font-size="12.4" font-weight="bold" fill="#111" color="#111">E</text>
<path d="M27.3,225 C27.6,232 26.6,238 27.8,244 C28.6,248 28,251 27.6,253.5" fill="none" stroke="#c8b8b4" stroke-width="0.8"/>
<path d="M23,201 L16,197.5 M31.5,201 L38.8,196.8 M21.5,221 L16.5,227.3 M33,221 L38.8,227.3" fill="none" stroke="#b3aaa7" stroke-width="1.9" stroke-linecap="round"/>
<path d="M23,201 L16,197.5 M31.5,201 L38.8,196.8 M21.5,221 L16.5,227.3 M33,221 L38.8,227.3" fill="none" stroke="#e7e2df" stroke-width="1.0" stroke-linecap="round"/>
<circle cx="15.60" cy="197.20" r="1.10" fill="#e8b9b9"/>
<circle cx="39.20" cy="196.50" r="1.10" fill="#e8b9b9"/>
<circle cx="16.20" cy="227.60" r="1.20" fill="#e8b9b9"/>
<circle cx="39.10" cy="227.60" r="1.20" fill="#e8b9b9"/>
<path d="M22.5,199 C21,205 19,213 19.5,219 C20,225 23.5,227.5 27.3,227.5 C31,227.5 34.5,225 35,219 C35.5,213 33.5,205 32,199 C30.5,195.5 24,195.5 22.5,199 Z" fill="#e7e2df" stroke="#b3aaa7" stroke-width="0.6"/>
<path d="M23.2,197.5 C22.6,192.5 24.8,188 27.3,188 C29.8,188 32,192.5 31.4,197.5 Z" fill="#e7e2df" stroke="#b3aaa7" stroke-width="0.6"/>
<circle cx="22.20" cy="193.60" r="1.60" fill="#e8b9b9" stroke="#b3aaa7" stroke-width="0.4"/>
<circle cx="32.40" cy="193.60" r="1.60" fill="#e8b9b9" stroke="#b3aaa7" stroke-width="0.4"/>
<ellipse cx="33.5" cy="210.5" rx="2.9" ry="4.3" fill="#b52533"/>
<ellipse cx="33" cy="209.5" rx="1.3" ry="2.2" fill="#cc4450"/>
<path d="M5.2,194.6 L17.2,207" fill="none" stroke="#a8a8a8" stroke-width="2.5" stroke-linecap="butt"/>
<path d="M5.4,194.8 L17,206.8" fill="none" stroke="#f0f0f0" stroke-width="1.3"/>
<path d="M15.5,205.3 L19.8,209.8" fill="none" stroke="#2e9c8a" stroke-width="1.5"/>
<path d="M19.8,209.8 L21.2,211.2" fill="none" stroke="#888" stroke-width="0.5"/>
<path d="M3.6,196.2 L6.8,193" fill="none" stroke="#999" stroke-width="0.8"/>
<text x="55.00" y="191.95" font-size="6.8" fill="#222" color="#222">HCC827GR6</text>
<text x="56.00" y="213.05" font-size="6.8" fill="#222" color="#222">Pemetrexed</text>
<text x="56.00" y="220.98" font-size="6.6" fill="#222" color="#222">100 mg/kg, IP</text>
<text x="3.00" y="261.42" font-size="5.6" style="stroke-width:0.08px" fill="#222" color="#222">Implantation</text>
<text x="68.00" y="261.42" font-size="5.6" style="stroke-width:0.08px" fill="#d9404e" color="#d9404e">Pemetrexed</text>
<line x1="15.00" y1="262.50" x2="15.00" y2="268.50" stroke="#2f9a86" stroke-width="0.9"/>
<path d="M13.6,266.8 L15,269.5 L16.4,266.8" fill="none" stroke="#2f9a86" stroke-width="0.9"/>
<line x1="82.20" y1="263.00" x2="82.20" y2="268.50" stroke="#d6323c" stroke-width="0.9"/>
<path d="M80.8,266.8 L82.2,269.5 L83.6,266.8" fill="none" stroke="#d6323c" stroke-width="0.9"/>
<line x1="15.00" y1="271.80" x2="107.00" y2="271.80" stroke="#888" stroke-width="1.0"/>
<text x="8.50" y="277.22" font-size="5.6" style="stroke-width:0.08px" fill="#222" color="#222">Day 1</text>
<text x="70.50" y="277.22" font-size="5.6" style="stroke-width:0.08px" fill="#222" color="#222">Day 35-39</text>
<text x="81.50" y="283.82" font-size="5.6" text-anchor="middle" style="stroke-width:0.08px" fill="#4a4aa6" color="#4a4aa6">(Day1)</text>
</g>
<g id="panelF">
<text x="133.00" y="170.10" font-size="12.4" font-weight="bold" fill="#111" color="#111">F</text>
<line x1="165.50" y1="188.75" x2="165.50" y2="263.75" stroke="#1a1a1a" stroke-width="1.05"/>
<line x1="163.00" y1="263.75" x2="165.50" y2="263.75" stroke="#1a1a1a" stroke-width="1.05"/>
<text x="161.10" y="266.13" font-size="6.6" text-anchor="end" fill="#222" color="#222">0</text>
<line x1="163.00" y1="238.75" x2="165.50" y2="238.75" stroke="#1a1a1a" stroke-width="1.05"/>
<text x="161.10" y="241.13" font-size="6.6" text-anchor="end" fill="#222" color="#222">500</text>
<line x1="163.00" y1="213.75" x2="165.50" y2="213.75" stroke="#1a1a1a" stroke-width="1.05"/>
<text x="161.10" y="216.13" font-size="6.6" text-anchor="end" fill="#222" color="#222">1,000</text>
<line x1="163.00" y1="188.75" x2="165.50" y2="188.75" stroke="#1a1a1a" stroke-width="1.05"/>
<text x="161.10" y="191.13" font-size="6.6" text-anchor="end" fill="#222" color="#222">1,500</text>
<line x1="165.50" y1="263.75" x2="256.00" y2="263.75" stroke="#1a1a1a" stroke-width="1.05"/>
<line x1="165.50" y1="263.75" x2="165.50" y2="265.95" stroke="#1a1a1a" stroke-width="1.05"/>
<text x="165.50" y="272.88" font-size="6.6" text-anchor="middle" fill="#222" color="#222">0</text>
<line x1="192.40" y1="263.75" x2="192.40" y2="265.95" stroke="#1a1a1a" stroke-width="1.05"/>
<text x="192.40" y="272.88" font-size="6.6" text-anchor="middle" fill="#222" color="#222">10</text>
<line x1="219.30" y1="263.75" x2="219.30" y2="265.95" stroke="#1a1a1a" stroke-width="1.05"/>
<text x="219.30" y="272.88" font-size="6.6" text-anchor="middle" fill="#222" color="#222">20</text>
<line x1="246.20" y1="263.75" x2="246.20" y2="265.95" stroke="#1a1a1a" stroke-width="1.05"/>
<text x="246.20" y="272.88" font-size="6.6" text-anchor="middle" fill="#222" color="#222">30</text>
<text x="201.00" y="185.45" font-size="6.8" text-anchor="middle" fill="#222" color="#222">HCC827GR6</text>
<text x="136.00" y="231.24" font-size="7.6" text-anchor="middle" fill="#222" color="#222" transform="rotate(-90 136.00 228.50)">Tumor volume (mm<tspan font-size="4.5" dy="-2.5">3</tspan><tspan dy="2.5">)</tspan></text>
<text x="204.00" y="283.45" font-size="6.8" text-anchor="middle" fill="#222" color="#222">Day</text>
<text x="170.00" y="286.58" font-size="6.6" text-anchor="middle" fill="#d9404e" color="#d9404e" style="stroke-width:0.1px">Pemetrexed</text>
<line x1="168.20" y1="276.40" x2="168.20" y2="281.50" stroke="#d9404e" stroke-width="0.8"/>
<path d="M167.1,277.9 L168.2,276.1 L169.3,277.9" fill="none" stroke="#d9404e" stroke-width="0.7"/>
<polyline points="168.25,206.25 173.75,221.75 184.50,231.75 192.50,238.00 202.50,246.50 210.50,243.75 221.25,243.50 228.75,240.75 239.50,260.75 246.25,263.25" fill="none" stroke="#d4453d" stroke-width="1.0"/>
<polyline points="168.25,208.75 173.75,217.25 184.50,223.50 192.50,215.75 202.50,221.25 210.50,242.75 221.25,248.75 228.75,253.25 239.50,260.75 246.25,263.00" fill="none" stroke="#27488c" stroke-width="1.0"/>
<line x1="168.25" y1="201.25" x2="168.25" y2="211.25" stroke="#111" stroke-width="1.4"/>
<line x1="166.15" y1="201.25" x2="170.35" y2="201.25" stroke="#111" stroke-width="1.3"/>
<line x1="166.15" y1="211.25" x2="170.35" y2="211.25" stroke="#111" stroke-width="1.3"/>
<circle cx="168.25" cy="206.25" r="1.30" fill="#d4453d"/>
<line x1="173.75" y1="219.00" x2="173.75" y2="224.50" stroke="#111" stroke-width="1.4"/>
<line x1="171.65" y1="219.00" x2="175.85" y2="219.00" stroke="#111" stroke-width="1.3"/>
<line x1="171.65" y1="224.50" x2="175.85" y2="224.50" stroke="#111" stroke-width="1.3"/>
<circle cx="173.75" cy="221.75" r="1.30" fill="#d4453d"/>
<line x1="184.50" y1="225.75" x2="184.50" y2="237.75" stroke="#111" stroke-width="1.4"/>
<line x1="182.40" y1="225.75" x2="186.60" y2="225.75" stroke="#111" stroke-width="1.3"/>
<line x1="182.40" y1="237.75" x2="186.60" y2="237.75" stroke="#111" stroke-width="1.3"/>
<circle cx="184.50" cy="231.75" r="1.30" fill="#d4453d"/>
<line x1="192.50" y1="236.25" x2="192.50" y2="239.75" stroke="#111" stroke-width="1.4"/>
<line x1="190.40" y1="236.25" x2="194.60" y2="236.25" stroke="#111" stroke-width="1.3"/>
<line x1="190.40" y1="239.75" x2="194.60" y2="239.75" stroke="#111" stroke-width="1.3"/>
<circle cx="192.50" cy="238.00" r="1.30" fill="#d4453d"/>
<line x1="202.50" y1="244.25" x2="202.50" y2="248.75" stroke="#111" stroke-width="1.4"/>
<line x1="200.40" y1="244.25" x2="204.60" y2="244.25" stroke="#111" stroke-width="1.3"/>
<line x1="200.40" y1="248.75" x2="204.60" y2="248.75" stroke="#111" stroke-width="1.3"/>
<circle cx="202.50" cy="246.50" r="1.30" fill="#d4453d"/>
<line x1="210.50" y1="241.25" x2="210.50" y2="246.25" stroke="#111" stroke-width="1.4"/>
<line x1="208.40" y1="241.25" x2="212.60" y2="241.25" stroke="#111" stroke-width="1.3"/>
<line x1="208.40" y1="246.25" x2="212.60" y2="246.25" stroke="#111" stroke-width="1.3"/>
<circle cx="210.50" cy="243.75" r="1.30" fill="#d4453d"/>
<line x1="221.25" y1="239.25" x2="221.25" y2="247.75" stroke="#111" stroke-width="1.4"/>
<line x1="219.15" y1="239.25" x2="223.35" y2="239.25" stroke="#111" stroke-width="1.3"/>
<line x1="219.15" y1="247.75" x2="223.35" y2="247.75" stroke="#111" stroke-width="1.3"/>
<circle cx="221.25" cy="243.50" r="1.30" fill="#d4453d"/>
<line x1="228.75" y1="232.75" x2="228.75" y2="248.75" stroke="#111" stroke-width="1.4"/>
<line x1="226.65" y1="232.75" x2="230.85" y2="232.75" stroke="#111" stroke-width="1.3"/>
<line x1="226.65" y1="248.75" x2="230.85" y2="248.75" stroke="#111" stroke-width="1.3"/>
<circle cx="228.75" cy="240.75" r="1.30" fill="#d4453d"/>
<line x1="239.50" y1="258.75" x2="239.50" y2="262.75" stroke="#111" stroke-width="1.4"/>
<line x1="237.40" y1="258.75" x2="241.60" y2="258.75" stroke="#111" stroke-width="1.3"/>
<line x1="237.40" y1="262.75" x2="241.60" y2="262.75" stroke="#111" stroke-width="1.3"/>
<circle cx="239.50" cy="260.75" r="1.30" fill="#d4453d"/>
<circle cx="246.25" cy="263.25" r="1.30" fill="#d4453d"/>
<line x1="168.25" y1="205.75" x2="168.25" y2="211.75" stroke="#111" stroke-width="1.4"/>
<line x1="166.15" y1="205.75" x2="170.35" y2="205.75" stroke="#111" stroke-width="1.3"/>
<line x1="166.15" y1="211.75" x2="170.35" y2="211.75" stroke="#111" stroke-width="1.3"/>
<circle cx="168.25" cy="208.75" r="1.30" fill="#27488c"/>
<line x1="173.75" y1="214.75" x2="173.75" y2="219.75" stroke="#111" stroke-width="1.4"/>
<line x1="171.65" y1="214.75" x2="175.85" y2="214.75" stroke="#111" stroke-width="1.3"/>
<line x1="171.65" y1="219.75" x2="175.85" y2="219.75" stroke="#111" stroke-width="1.3"/>
<circle cx="173.75" cy="217.25" r="1.30" fill="#27488c"/>
<circle cx="184.50" cy="223.50" r="1.30" fill="#27488c"/>
<line x1="192.50" y1="210.25" x2="192.50" y2="221.25" stroke="#111" stroke-width="1.4"/>
<line x1="190.40" y1="210.25" x2="194.60" y2="210.25" stroke="#111" stroke-width="1.3"/>
<line x1="190.40" y1="221.25" x2="194.60" y2="221.25" stroke="#111" stroke-width="1.3"/>
<circle cx="192.50" cy="215.75" r="1.30" fill="#27488c"/>
<line x1="202.50" y1="211.50" x2="202.50" y2="231.00" stroke="#111" stroke-width="1.4"/>
<line x1="200.40" y1="211.50" x2="204.60" y2="211.50" stroke="#111" stroke-width="1.3"/>
<line x1="200.40" y1="231.00" x2="204.60" y2="231.00" stroke="#111" stroke-width="1.3"/>
<circle cx="202.50" cy="221.25" r="1.30" fill="#27488c"/>
<line x1="210.50" y1="239.25" x2="210.50" y2="246.25" stroke="#111" stroke-width="1.4"/>
<line x1="208.40" y1="239.25" x2="212.60" y2="239.25" stroke="#111" stroke-width="1.3"/>
<line x1="208.40" y1="246.25" x2="212.60" y2="246.25" stroke="#111" stroke-width="1.3"/>
<circle cx="210.50" cy="242.75" r="1.30" fill="#27488c"/>
<line x1="221.25" y1="244.00" x2="221.25" y2="253.50" stroke="#111" stroke-width="1.4"/>
<line x1="219.15" y1="244.00" x2="223.35" y2="244.00" stroke="#111" stroke-width="1.3"/>
<line x1="219.15" y1="253.50" x2="223.35" y2="253.50" stroke="#111" stroke-width="1.3"/>
<circle cx="221.25" cy="248.75" r="1.30" fill="#27488c"/>
<line x1="228.75" y1="251.25" x2="228.75" y2="255.25" stroke="#111" stroke-width="1.4"/>
<line x1="226.65" y1="251.25" x2="230.85" y2="251.25" stroke="#111" stroke-width="1.3"/>
<line x1="226.65" y1="255.25" x2="230.85" y2="255.25" stroke="#111" stroke-width="1.3"/>
<circle cx="228.75" cy="253.25" r="1.30" fill="#27488c"/>
<line x1="239.50" y1="258.75" x2="239.50" y2="262.75" stroke="#111" stroke-width="1.4"/>
<line x1="237.40" y1="258.75" x2="241.60" y2="258.75" stroke="#111" stroke-width="1.3"/>
<line x1="237.40" y1="262.75" x2="241.60" y2="262.75" stroke="#111" stroke-width="1.3"/>
<circle cx="239.50" cy="260.75" r="1.30" fill="#27488c"/>
<circle cx="246.25" cy="263.00" r="1.30" fill="#27488c"/>
<line x1="217.00" y1="195.00" x2="222.50" y2="195.00" stroke="#d4453d" stroke-width="1.2"/>
<circle cx="219.75" cy="195.00" r="1.20" fill="#d4453d"/>
<text x="225.50" y="197.45" font-size="6.8" fill="#222" color="#222">Scr</text>
<line x1="217.00" y1="203.00" x2="222.50" y2="203.00" stroke="#1f5f78" stroke-width="1.2"/>
<circle cx="219.75" cy="203.00" r="1.20" fill="#1f5f78"/>
<text x="225.50" y="205.45" font-size="6.8" fill="#222" color="#222">sgCD73</text>
</g>
<g id="panelG">
<text x="273.75" y="170.10" font-size="12.4" font-weight="bold" fill="#111" color="#111">G</text>
<text x="278.00" y="232.04" font-size="7.6" text-anchor="middle" fill="#222" color="#222" transform="rotate(-90 278.00 229.30)">Normalized</text>
<text x="406.50" y="280.47" font-size="6.3" text-anchor="middle" fill="#222" color="#222">HLA-A,B,C</text>
<path d="M298.50,260.80 L298.50,260.80 L298.89,260.80 L299.27,260.80 L299.66,260.80 L300.05,260.80 L300.44,260.80 L300.82,260.80 L301.21,260.80 L301.60,260.80 L301.99,260.80 L302.38,260.80 L302.76,260.80 L303.15,260.80 L303.54,260.80 L303.93,260.80 L304.31,260.80 L304.70,260.80 L305.09,260.80 L305.48,260.80 L305.86,260.80 L306.25,260.80 L306.64,260.80 L307.02,260.80 L307.41,260.80 L307.80,260.80 L308.19,260.80 L308.57,260.80 L308.96,260.80 L309.35,260.80 L309.74,260.80 L310.12,260.80 L310.51,260.80 L310.90,260.80 L311.29,260.80 L311.68,260.79 L312.06,260.79 L312.45,260.79 L312.84,260.79 L313.23,260.78 L313.61,260.78 L314.00,260.77 L314.39,260.76 L314.77,260.75 L315.16,260.73 L315.55,260.72 L315.94,260.70 L316.32,260.67 L316.71,260.63 L317.10,260.60 L317.49,260.55 L317.88,260.49 L318.26,260.42 L318.65,260.32 L319.04,260.22 L319.43,260.09 L319.81,259.92 L320.20,259.73 L320.59,259.47 L320.98,259.21 L321.36,258.94 L321.75,258.65 L322.14,258.26 L322.52,257.68 L322.91,257.14 L323.30,256.56 L323.69,255.89 L324.07,255.12 L324.46,254.20 L324.85,253.23 L325.24,252.23 L325.62,251.07 L326.01,249.78 L326.40,248.71 L326.79,247.25 L327.18,245.10 L327.56,243.36 L327.95,241.53 L328.34,240.57 L328.73,238.63 L329.11,235.72 L329.50,233.56 L329.89,231.40 L330.27,229.14 L330.66,227.37 L331.05,224.98 L331.44,222.74 L331.82,220.64 L332.21,218.51 L332.60,215.31 L332.99,213.33 L333.38,212.70 L333.76,210.06 L334.15,208.55 L334.54,208.74 L334.93,207.67 L335.31,205.09 L335.70,204.39 L336.09,203.99 L336.48,205.31 L336.86,205.45 L337.25,205.56 L337.64,206.33 L338.02,206.28 L338.41,208.28 L338.80,209.91 L339.19,212.46 L339.57,214.49 L339.96,217.40 L340.35,219.45 L340.74,221.88 L341.12,223.55 L341.51,226.14 L341.90,229.75 L342.29,232.24 L342.68,233.49 L343.06,236.90 L343.45,239.20 L343.84,240.63 L344.23,242.78 L344.61,245.35 L345.00,246.62 L345.39,248.35 L345.77,250.09 L346.16,251.50 L346.55,252.87 L346.94,254.00 L347.32,254.99 L347.71,255.84 L348.10,256.61 L348.49,257.30 L348.88,257.89 L349.26,258.42 L349.65,258.84 L350.04,259.21 L350.43,259.48 L350.81,259.73 L351.20,259.92 L351.59,260.09 L351.98,260.25 L352.36,260.38 L352.75,260.47 L353.14,260.53 L353.52,260.59 L353.91,260.64 L354.30,260.68 L354.69,260.70 L355.07,260.73 L355.46,260.75 L355.85,260.76 L356.24,260.77 L356.62,260.78 L357.01,260.78 L357.40,260.79 L357.79,260.79 L358.18,260.79 L358.56,260.80 L358.95,260.80 L359.34,260.80 L359.73,260.80 L360.11,260.80 L360.50,260.80 L360.50,260.80Z" fill="#f6c39a" stroke="none" stroke-width="1"/>
<path d="M298.50,260.80 L298.50,260.80 L298.89,260.80 L299.27,260.80 L299.66,260.80 L300.05,260.80 L300.44,260.80 L300.82,260.80 L301.21,260.80 L301.60,260.80 L301.99,260.80 L302.38,260.80 L302.76,260.80 L303.15,260.80 L303.54,260.80 L303.93,260.80 L304.31,260.79 L304.70,260.79 L305.09,260.79 L305.48,260.79 L305.86,260.78 L306.25,260.78 L306.64,260.78 L307.02,260.77 L307.41,260.76 L307.80,260.75 L308.19,260.74 L308.57,260.73 L308.96,260.71 L309.35,260.70 L309.74,260.67 L310.12,260.64 L310.51,260.61 L310.90,260.57 L311.29,260.54 L311.68,260.49 L312.06,260.43 L312.45,260.34 L312.84,260.25 L313.23,260.14 L313.61,260.02 L314.00,259.91 L314.39,259.77 L314.77,259.59 L315.16,259.37 L315.55,259.14 L315.94,258.92 L316.32,258.63 L316.71,258.28 L317.10,257.86 L317.49,257.44 L317.88,256.95 L318.26,256.42 L318.65,255.91 L319.04,255.28 L319.43,254.57 L319.81,253.81 L320.20,252.97 L320.59,251.93 L320.98,250.93 L321.36,249.95 L321.75,249.00 L322.14,247.78 L322.52,245.77 L322.91,244.32 L323.30,243.10 L323.69,241.42 L324.07,239.75 L324.46,238.63 L324.85,236.87 L325.24,233.79 L325.62,231.83 L326.01,230.06 L326.40,229.46 L326.79,227.50 L327.18,225.06 L327.56,223.06 L327.95,220.13 L328.34,218.14 L328.73,216.16 L329.11,213.61 L329.50,211.73 L329.89,211.46 L330.27,209.81 L330.66,206.98 L331.05,206.04 L331.44,204.73 L331.82,204.82 L332.21,203.84 L332.60,202.02 L332.99,201.35 L333.38,199.81 L333.76,199.63 L334.15,199.51 L334.54,200.86 L334.93,201.29 L335.31,201.72 L335.70,204.67 L336.09,205.93 L336.48,206.75 L336.86,208.51 L337.25,208.78 L337.64,210.99 L338.02,214.43 L338.41,217.51 L338.80,219.99 L339.19,221.66 L339.57,224.28 L339.96,226.60 L340.35,229.28 L340.74,231.85 L341.12,234.82 L341.51,237.19 L341.90,239.37 L342.29,241.52 L342.68,243.48 L343.06,245.13 L343.45,246.92 L343.84,248.76 L344.23,250.25 L344.61,251.67 L345.00,252.84 L345.39,253.93 L345.77,255.06 L346.16,255.90 L346.55,256.64 L346.94,257.28 L347.32,257.72 L347.71,258.18 L348.10,258.62 L348.49,259.04 L348.88,259.35 L349.26,259.63 L349.65,259.84 L350.04,260.03 L350.43,260.17 L350.81,260.29 L351.20,260.39 L351.59,260.47 L351.98,260.54 L352.36,260.60 L352.75,260.64 L353.14,260.68 L353.52,260.70 L353.91,260.73 L354.30,260.75 L354.69,260.76 L355.07,260.77 L355.46,260.78 L355.85,260.78 L356.24,260.79 L356.62,260.79 L357.01,260.79 L357.40,260.79 L357.79,260.80 L358.18,260.80 L358.56,260.80 L358.95,260.80 L359.34,260.80 L359.73,260.80 L360.11,260.80 L360.50,260.80 L360.50,260.80Z" fill="#5cc0d2" stroke="none" stroke-width="1"/>
<path d="M298.50,260.80 L298.50,260.80 L298.89,260.80 L299.27,260.80 L299.66,260.80 L300.05,260.80 L300.44,260.80 L300.82,260.80 L301.21,260.80 L301.60,260.80 L301.99,260.80 L302.38,260.80 L302.76,260.80 L303.15,260.80 L303.54,260.80 L303.93,260.80 L304.31,260.80 L304.70,260.80 L305.09,260.80 L305.48,260.80 L305.86,260.80 L306.25,260.80 L306.64,260.80 L307.02,260.80 L307.41,260.80 L307.80,260.80 L308.19,260.80 L308.57,260.80 L308.96,260.80 L309.35,260.80 L309.74,260.80 L310.12,260.80 L310.51,260.80 L310.90,260.80 L311.29,260.80 L311.68,260.79 L312.06,260.79 L312.45,260.79 L312.84,260.79 L313.23,260.78 L313.61,260.78 L314.00,260.77 L314.39,260.76 L314.77,260.75 L315.16,260.73 L315.55,260.72 L315.94,260.70 L316.32,260.67 L316.71,260.63 L317.10,260.60 L317.49,260.55 L317.88,260.49 L318.26,260.42 L318.65,260.32 L319.04,260.22 L319.43,260.09 L319.81,259.92 L320.20,259.73 L320.59,259.47 L320.98,259.21 L321.36,258.94 L321.75,258.65 L322.14,258.26 L322.52,257.68 L322.91,257.14 L323.30,256.56 L323.69,255.89 L324.07,255.12 L324.46,254.20 L324.85,253.23 L325.24,252.23 L325.62,251.07 L326.01,249.78 L326.40,248.71 L326.79,247.25 L327.18,245.10 L327.56,243.36 L327.95,241.53 L328.34,240.57 L328.73,238.63 L329.11,235.72 L329.50,233.56 L329.89,231.40 L330.27,229.14 L330.66,227.37 L331.05,224.98 L331.44,222.74 L331.82,220.64 L332.21,218.51 L332.60,215.31 L332.99,213.33 L333.38,212.70 L333.76,210.06 L334.15,208.55 L334.54,208.74 L334.93,207.67 L335.31,205.09 L335.70,204.67 L336.09,205.93 L336.48,206.75 L336.86,208.51 L337.25,208.78 L337.64,210.99 L338.02,214.43 L338.41,217.51 L338.80,219.99 L339.19,221.66 L339.57,224.28 L339.96,226.60 L340.35,229.28 L340.74,231.85 L341.12,234.82 L341.51,237.19 L341.90,239.37 L342.29,241.52 L342.68,243.48 L343.06,245.13 L343.45,246.92 L343.84,248.76 L344.23,250.25 L344.61,251.67 L345.00,252.84 L345.39,253.93 L345.77,255.06 L346.16,255.90 L346.55,256.64 L346.94,257.28 L347.32,257.72 L347.71,258.18 L348.10,258.62 L348.49,259.04 L348.88,259.35 L349.26,259.63 L349.65,259.84 L350.04,260.03 L350.43,260.17 L350.81,260.29 L351.20,260.39 L351.59,260.47 L351.98,260.54 L352.36,260.60 L352.75,260.64 L353.14,260.68 L353.52,260.70 L353.91,260.73 L354.30,260.75 L354.69,260.76 L355.07,260.77 L355.46,260.78 L355.85,260.78 L356.24,260.79 L356.62,260.79 L357.01,260.79 L357.40,260.79 L357.79,260.80 L358.18,260.80 L358.56,260.80 L358.95,260.80 L359.34,260.80 L359.73,260.80 L360.11,260.80 L360.50,260.80 L360.50,260.80Z" fill="#69bda8" stroke="none" stroke-width="1"/>
<path d="M298.50,260.80 L298.50,260.80 L298.89,260.80 L299.27,260.80 L299.66,260.80 L300.05,260.80 L300.44,260.80 L300.82,260.80 L301.21,260.80 L301.60,260.80 L301.99,260.80 L302.38,260.80 L302.76,260.80 L303.15,260.80 L303.54,260.80 L303.93,260.80 L304.31,260.80 L304.70,260.80 L305.09,260.80 L305.48,260.80 L305.86,260.80 L306.25,260.80 L306.64,260.80 L307.02,260.80 L307.41,260.80 L307.80,260.80 L308.19,260.80 L308.57,260.80 L308.96,260.80 L309.35,260.80 L309.74,260.80 L310.12,260.80 L310.51,260.80 L310.90,260.80 L311.29,260.80 L311.68,248.88 L312.06,232.09 L312.45,215.30 L312.84,200.66 L313.23,206.12 L313.61,211.59 L314.00,217.06 L314.39,222.53 L314.77,227.99 L315.16,233.46 L315.55,238.93 L315.94,244.40 L316.32,249.86 L316.71,255.33 L317.10,260.80 L317.49,260.80 L317.88,260.80 L318.26,260.80 L318.65,260.80 L319.04,260.80 L319.43,260.80 L319.81,260.80 L320.20,260.80 L320.59,260.80 L320.98,260.80 L321.36,260.80 L321.75,260.80 L322.14,260.80 L322.52,260.80 L322.91,260.80 L323.30,260.80 L323.69,260.80 L324.07,260.80 L324.46,260.80 L324.85,260.80 L325.24,260.80 L325.62,260.80 L326.01,260.80 L326.40,260.80 L326.79,260.80 L327.18,260.80 L327.56,260.80 L327.95,260.80 L328.34,260.80 L328.73,260.80 L329.11,260.80 L329.50,260.80 L329.89,260.80 L330.27,260.80 L330.66,260.80 L331.05,260.80 L331.44,260.80 L331.82,260.80 L332.21,260.80 L332.60,260.80 L332.99,260.80 L333.38,260.80 L333.76,260.80 L334.15,260.80 L334.54,260.80 L334.93,260.80 L335.31,260.80 L335.70,260.80 L336.09,260.80 L336.48,260.80 L336.86,260.80 L337.25,260.80 L337.64,260.80 L338.02,260.80 L338.41,260.80 L338.80,260.80 L339.19,260.80 L339.57,260.80 L339.96,260.80 L340.35,260.80 L340.74,260.80 L341.12,260.80 L341.51,260.80 L341.90,260.80 L342.29,260.80 L342.68,260.80 L343.06,260.80 L343.45,260.80 L343.84,260.80 L344.23,260.80 L344.61,260.80 L345.00,260.80 L345.39,260.80 L345.77,260.80 L346.16,260.80 L346.55,260.80 L346.94,260.80 L347.32,260.80 L347.71,260.80 L348.10,260.80 L348.49,260.80 L348.88,260.80 L349.26,260.80 L349.65,260.80 L350.04,260.80 L350.43,260.80 L350.81,260.80 L351.20,260.80 L351.59,260.80 L351.98,260.80 L352.36,260.80 L352.75,260.80 L353.14,260.80 L353.52,260.80 L353.91,260.80 L354.30,260.80 L354.69,260.80 L355.07,260.80 L355.46,260.80 L355.85,260.80 L356.24,260.80 L356.62,260.80 L357.01,260.80 L357.40,260.80 L357.79,260.80 L358.18,260.80 L358.56,260.80 L358.95,260.80 L359.34,260.80 L359.73,260.80 L360.11,260.80 L360.50,260.80 L360.50,260.80Z" fill="#e9808e" stroke="none" stroke-width="1"/>
<line x1="297.50" y1="197.60" x2="297.50" y2="260.80" stroke="#1a1a1a" stroke-width="1.05"/>
<line x1="295.20" y1="260.80" x2="297.50" y2="260.80" stroke="#1a1a1a" stroke-width="1.05"/>
<text x="293.30" y="263.07" font-size="6.3" text-anchor="end" fill="#222" color="#222">0</text>
<line x1="295.20" y1="248.16" x2="297.50" y2="248.16" stroke="#1a1a1a" stroke-width="1.05"/>
<text x="293.30" y="250.43" font-size="6.3" text-anchor="end" fill="#222" color="#222">20</text>
<line x1="295.20" y1="235.52" x2="297.50" y2="235.52" stroke="#1a1a1a" stroke-width="1.05"/>
<text x="293.30" y="237.79" font-size="6.3" text-anchor="end" fill="#222" color="#222">40</text>
<line x1="295.20" y1="222.88" x2="297.50" y2="222.88" stroke="#1a1a1a" stroke-width="1.05"/>
<text x="293.30" y="225.15" font-size="6.3" text-anchor="end" fill="#222" color="#222">60</text>
<line x1="295.20" y1="210.24" x2="297.50" y2="210.24" stroke="#1a1a1a" stroke-width="1.05"/>
<text x="293.30" y="212.51" font-size="6.3" text-anchor="end" fill="#222" color="#222">80</text>
<line x1="295.20" y1="197.60" x2="297.50" y2="197.60" stroke="#1a1a1a" stroke-width="1.05"/>
<text x="293.30" y="199.87" font-size="6.3" text-anchor="end" fill="#222" color="#222">100</text>
<line x1="297.50" y1="260.80" x2="361.50" y2="260.80" stroke="#1a1a1a" stroke-width="1.05"/>
<line x1="301.40" y1="260.80" x2="301.40" y2="262.80" stroke="#1a1a1a" stroke-width="0.9"/>
<text x="297.50" y="271.56" font-size="6.0" text-anchor="middle" fill="#222" color="#222">-10<tspan font-size="3.8" dy="-2.3">3</tspan></text>
<line x1="312.00" y1="260.80" x2="312.00" y2="262.80" stroke="#1a1a1a" stroke-width="0.9"/>
<text x="310.30" y="271.56" font-size="6.0" text-anchor="middle" fill="#222" color="#222">0</text>
<line x1="323.10" y1="260.80" x2="323.10" y2="262.80" stroke="#1a1a1a" stroke-width="0.9"/>
<text x="321.00" y="271.56" font-size="6.0" text-anchor="middle" fill="#222" color="#222">10<tspan font-size="3.8" dy="-2.3">3</tspan></text>
<line x1="341.20" y1="260.80" x2="341.20" y2="262.80" stroke="#1a1a1a" stroke-width="0.9"/>
<text x="339.00" y="271.56" font-size="6.0" text-anchor="middle" fill="#222" color="#222">10<tspan font-size="3.8" dy="-2.3">4</tspan></text>
<line x1="356.50" y1="260.80" x2="356.50" y2="262.80" stroke="#1a1a1a" stroke-width="0.9"/>
<text x="352.90" y="271.56" font-size="6.0" text-anchor="middle" fill="#222" color="#222">10<tspan font-size="3.8" dy="-2.3">5</tspan></text>
<line x1="328.55" y1="260.80" x2="328.55" y2="262.00" stroke="#1a1a1a" stroke-width="0.6"/>
<line x1="331.74" y1="260.80" x2="331.74" y2="262.00" stroke="#1a1a1a" stroke-width="0.6"/>
<line x1="334.00" y1="260.80" x2="334.00" y2="262.00" stroke="#1a1a1a" stroke-width="0.6"/>
<line x1="335.75" y1="260.80" x2="335.75" y2="262.00" stroke="#1a1a1a" stroke-width="0.6"/>
<line x1="337.18" y1="260.80" x2="337.18" y2="262.00" stroke="#1a1a1a" stroke-width="0.6"/>
<line x1="338.40" y1="260.80" x2="338.40" y2="262.00" stroke="#1a1a1a" stroke-width="0.6"/>
<line x1="339.45" y1="260.80" x2="339.45" y2="262.00" stroke="#1a1a1a" stroke-width="0.6"/>
<line x1="340.37" y1="260.80" x2="340.37" y2="262.00" stroke="#1a1a1a" stroke-width="0.6"/>
<line x1="346.65" y1="260.80" x2="346.65" y2="262.00" stroke="#1a1a1a" stroke-width="0.6"/>
<line x1="349.84" y1="260.80" x2="349.84" y2="262.00" stroke="#1a1a1a" stroke-width="0.6"/>
<line x1="352.10" y1="260.80" x2="352.10" y2="262.00" stroke="#1a1a1a" stroke-width="0.6"/>
<line x1="353.85" y1="260.80" x2="353.85" y2="262.00" stroke="#1a1a1a" stroke-width="0.6"/>
<line x1="355.28" y1="260.80" x2="355.28" y2="262.00" stroke="#1a1a1a" stroke-width="0.6"/>
<line x1="356.50" y1="260.80" x2="356.50" y2="262.00" stroke="#1a1a1a" stroke-width="0.6"/>
<line x1="357.55" y1="260.80" x2="357.55" y2="262.00" stroke="#1a1a1a" stroke-width="0.6"/>
<line x1="358.47" y1="260.80" x2="358.47" y2="262.00" stroke="#1a1a1a" stroke-width="0.6"/>
<line x1="308.81" y1="260.80" x2="308.81" y2="262.00" stroke="#1a1a1a" stroke-width="0.6"/>
<line x1="306.94" y1="260.80" x2="306.94" y2="262.00" stroke="#1a1a1a" stroke-width="0.6"/>
<line x1="305.62" y1="260.80" x2="305.62" y2="262.00" stroke="#1a1a1a" stroke-width="0.6"/>
<line x1="304.59" y1="260.80" x2="304.59" y2="262.00" stroke="#1a1a1a" stroke-width="0.6"/>
<line x1="303.75" y1="260.80" x2="303.75" y2="262.00" stroke="#1a1a1a" stroke-width="0.6"/>
<line x1="303.04" y1="260.80" x2="303.04" y2="262.00" stroke="#1a1a1a" stroke-width="0.6"/>
<line x1="302.43" y1="260.80" x2="302.43" y2="262.00" stroke="#1a1a1a" stroke-width="0.6"/>
<line x1="301.89" y1="260.80" x2="301.89" y2="262.00" stroke="#1a1a1a" stroke-width="0.6"/>
<text x="331.00" y="196.68" font-size="6.6" text-anchor="middle" fill="#222" color="#222">HCC827</text>
<path d="M371.60,260.80 L371.60,260.80 L371.97,260.80 L372.35,260.80 L372.72,260.80 L373.10,260.80 L373.47,260.80 L373.85,260.80 L374.22,260.80 L374.60,260.80 L374.97,260.80 L375.34,260.80 L375.72,260.80 L376.09,260.80 L376.47,260.80 L376.84,260.80 L377.22,260.80 L377.59,260.80 L377.96,260.80 L378.34,260.80 L378.71,260.80 L379.09,260.80 L379.46,260.80 L379.84,260.80 L380.21,260.80 L380.59,260.80 L380.96,260.80 L381.33,260.80 L381.71,260.80 L382.08,260.80 L382.46,260.80 L382.83,260.80 L383.21,260.80 L383.58,260.80 L383.95,260.80 L384.33,260.80 L384.70,260.80 L385.08,260.80 L385.45,260.79 L385.83,260.79 L386.20,260.79 L386.58,260.79 L386.95,260.78 L387.32,260.78 L387.70,260.78 L388.07,260.77 L388.45,260.76 L388.82,260.75 L389.20,260.74 L389.57,260.72 L389.94,260.70 L390.32,260.68 L390.69,260.66 L391.07,260.62 L391.44,260.58 L391.82,260.54 L392.19,260.49 L392.56,260.40 L392.94,260.32 L393.31,260.23 L393.69,260.13 L394.06,260.00 L394.44,259.87 L394.81,259.70 L395.19,259.45 L395.56,259.22 L395.93,258.99 L396.31,258.69 L396.68,258.30 L397.06,257.92 L397.43,257.47 L397.81,257.06 L398.18,256.51 L398.56,255.94 L398.93,255.27 L399.30,254.47 L399.68,253.73 L400.05,252.84 L400.43,252.03 L400.80,251.00 L401.18,249.80 L401.55,248.60 L401.92,246.91 L402.30,245.50 L402.67,244.78 L403.05,243.28 L403.42,241.71 L403.80,239.33 L404.17,237.58 L404.55,236.28 L404.92,234.46 L405.29,232.17 L405.67,230.38 L406.04,228.47 L406.42,226.83 L406.79,224.95 L407.17,221.61 L407.54,219.73 L407.91,219.92 L408.29,218.26 L408.66,216.11 L409.04,215.22 L409.41,213.87 L409.79,211.39 L410.16,210.29 L410.54,210.44 L410.91,209.69 L411.28,208.85 L411.66,208.44 L412.03,206.97 L412.41,208.30 L412.78,208.70 L413.16,208.85 L413.53,210.22 L413.90,211.02 L414.28,213.26 L414.65,217.94 L415.03,220.75 L415.40,223.64 L415.78,226.29 L416.15,229.39 L416.52,231.56 L416.90,234.69 L417.27,237.91 L417.65,240.76 L418.02,243.80 L418.40,246.11 L418.77,248.30 L419.15,250.36 L419.52,252.09 L419.89,253.47 L420.27,254.80 L420.64,256.06 L421.02,256.83 L421.39,257.65 L421.77,258.28 L422.14,258.84 L422.51,259.28 L422.89,259.63 L423.26,259.93 L423.64,260.14 L424.01,260.31 L424.39,260.46 L424.76,260.55 L425.14,260.62 L425.51,260.67 L425.88,260.70 L426.26,260.73 L426.63,260.75 L427.01,260.77 L427.38,260.78 L427.76,260.78 L428.13,260.79 L428.50,260.79 L428.88,260.80 L429.25,260.80 L429.63,260.80 L430.00,260.80 L430.38,260.80 L430.75,260.80 L431.13,260.80 L431.50,260.80 L431.50,260.80Z" fill="#f6c39a" stroke="none" stroke-width="1"/>
<path d="M371.60,260.80 L371.60,260.80 L371.97,260.80 L372.35,260.80 L372.72,260.80 L373.10,260.80 L373.47,260.80 L373.85,260.80 L374.22,260.80 L374.60,260.80 L374.97,260.80 L375.34,260.80 L375.72,260.80 L376.09,260.80 L376.47,260.80 L376.84,260.80 L377.22,260.80 L377.59,260.80 L377.96,260.79 L378.34,260.79 L378.71,260.79 L379.09,260.79 L379.46,260.78 L379.84,260.78 L380.21,260.78 L380.59,260.77 L380.96,260.76 L381.33,260.75 L381.71,260.74 L382.08,260.73 L382.46,260.71 L382.83,260.69 L383.21,260.67 L383.58,260.64 L383.95,260.61 L384.33,260.57 L384.70,260.52 L385.08,260.48 L385.45,260.42 L385.83,260.33 L386.20,260.24 L386.58,260.14 L386.95,260.02 L387.32,259.90 L387.70,259.77 L388.07,259.59 L388.45,259.32 L388.82,259.08 L389.20,258.85 L389.57,258.55 L389.94,258.17 L390.32,257.79 L390.69,257.32 L391.07,256.87 L391.44,256.34 L391.82,255.68 L392.19,255.02 L392.56,254.49 L392.94,253.71 L393.31,252.67 L393.69,251.92 L394.06,250.93 L394.44,249.53 L394.81,248.34 L395.19,247.11 L395.56,245.77 L395.93,245.09 L396.31,243.65 L396.68,242.09 L397.06,240.40 L397.43,238.73 L397.81,235.92 L398.18,234.06 L398.56,233.03 L398.93,231.13 L399.30,228.84 L399.68,227.53 L400.05,225.59 L400.43,223.19 L400.80,221.24 L401.18,219.62 L401.55,217.76 L401.92,216.04 L402.30,214.31 L402.67,211.97 L403.05,210.39 L403.42,208.92 L403.80,206.56 L404.17,205.32 L404.55,204.97 L404.92,204.05 L405.29,202.45 L405.67,202.11 L406.04,201.70 L406.42,201.00 L406.79,200.96 L407.17,202.46 L407.54,203.37 L407.91,206.45 L408.29,208.24 L408.66,208.27 L409.04,210.59 L409.41,213.53 L409.79,216.84 L410.16,220.15 L410.54,224.27 L410.91,227.62 L411.28,230.67 L411.66,233.91 L412.03,237.73 L412.41,239.81 L412.78,242.56 L413.16,245.34 L413.53,247.61 L413.90,249.83 L414.28,251.61 L414.65,253.27 L415.03,254.29 L415.40,255.49 L415.78,256.47 L416.15,257.33 L416.52,258.19 L416.90,258.74 L417.27,259.13 L417.65,259.50 L418.02,259.83 L418.40,260.07 L418.77,260.25 L419.15,260.39 L419.52,260.50 L419.89,260.57 L420.27,260.63 L420.64,260.68 L421.02,260.72 L421.39,260.74 L421.77,260.76 L422.14,260.77 L422.51,260.78 L422.89,260.79 L423.26,260.79 L423.64,260.79 L424.01,260.80 L424.39,260.80 L424.76,260.80 L425.14,260.80 L425.51,260.80 L425.88,260.80 L426.26,260.80 L426.63,260.80 L427.01,260.80 L427.38,260.80 L427.76,260.80 L428.13,260.80 L428.50,260.80 L428.88,260.80 L429.25,260.80 L429.63,260.80 L430.00,260.80 L430.38,260.80 L430.75,260.80 L431.13,260.80 L431.50,260.80 L431.50,260.80Z" fill="#5cc0d2" stroke="none" stroke-width="1"/>
<path d="M371.60,260.80 L371.60,260.80 L371.97,260.80 L372.35,260.80 L372.72,260.80 L373.10,260.80 L373.47,260.80 L373.85,260.80 L374.22,260.80 L374.60,260.80 L374.97,260.80 L375.34,260.80 L375.72,260.80 L376.09,260.80 L376.47,260.80 L376.84,260.80 L377.22,260.80 L377.59,260.80 L377.96,260.80 L378.34,260.80 L378.71,260.80 L379.09,260.80 L379.46,260.80 L379.84,260.80 L380.21,260.80 L380.59,260.80 L380.96,260.80 L381.33,260.80 L381.71,260.80 L382.08,260.80 L382.46,260.80 L382.83,260.80 L383.21,260.80 L383.58,260.80 L383.95,260.80 L384.33,260.80 L384.70,260.80 L385.08,260.80 L385.45,260.79 L385.83,260.79 L386.20,260.79 L386.58,260.79 L386.95,260.78 L387.32,260.78 L387.70,260.78 L388.07,260.77 L388.45,260.76 L388.82,260.75 L389.20,260.74 L389.57,260.72 L389.94,260.70 L390.32,260.68 L390.69,260.66 L391.07,260.62 L391.44,260.58 L391.82,260.54 L392.19,260.49 L392.56,260.40 L392.94,260.32 L393.31,260.23 L393.69,260.13 L394.06,260.00 L394.44,259.87 L394.81,259.70 L395.19,259.45 L395.56,259.22 L395.93,258.99 L396.31,258.69 L396.68,258.30 L397.06,257.92 L397.43,257.47 L397.81,257.06 L398.18,256.51 L398.56,255.94 L398.93,255.27 L399.30,254.47 L399.68,253.73 L400.05,252.84 L400.43,252.03 L400.80,251.00 L401.18,249.80 L401.55,248.60 L401.92,246.91 L402.30,245.50 L402.67,244.78 L403.05,243.28 L403.42,241.71 L403.80,239.33 L404.17,237.58 L404.55,236.28 L404.92,234.46 L405.29,232.17 L405.67,230.38 L406.04,228.47 L406.42,226.83 L406.79,224.95 L407.17,221.61 L407.54,219.73 L407.91,219.92 L408.29,218.26 L408.66,216.11 L409.04,215.22 L409.41,213.87 L409.79,216.84 L410.16,220.15 L410.54,224.27 L410.91,227.62 L411.28,230.67 L411.66,233.91 L412.03,237.73 L412.41,239.81 L412.78,242.56 L413.16,245.34 L413.53,247.61 L413.90,249.83 L414.28,251.61 L414.65,253.27 L415.03,254.29 L415.40,255.49 L415.78,256.47 L416.15,257.33 L416.52,258.19 L416.90,258.74 L417.27,259.13 L417.65,259.50 L418.02,259.83 L418.40,260.07 L418.77,260.25 L419.15,260.39 L419.52,260.50 L419.89,260.57 L420.27,260.63 L420.64,260.68 L421.02,260.72 L421.39,260.74 L421.77,260.76 L422.14,260.77 L422.51,260.78 L422.89,260.79 L423.26,260.79 L423.64,260.79 L424.01,260.80 L424.39,260.80 L424.76,260.80 L425.14,260.80 L425.51,260.80 L425.88,260.80 L426.26,260.80 L426.63,260.80 L427.01,260.80 L427.38,260.80 L427.76,260.80 L428.13,260.80 L428.50,260.80 L428.88,260.80 L429.25,260.80 L429.63,260.80 L430.00,260.80 L430.38,260.80 L430.75,260.80 L431.13,260.80 L431.50,260.80 L431.50,260.80Z" fill="#69bda8" stroke="none" stroke-width="1"/>
<path d="M371.60,260.80 L371.60,260.80 L371.97,260.80 L372.35,260.80 L372.72,260.80 L373.10,260.80 L373.47,260.80 L373.85,260.80 L374.22,260.80 L374.60,260.80 L374.97,260.80 L375.34,260.80 L375.72,260.80 L376.09,260.80 L376.47,260.80 L376.84,260.80 L377.22,260.80 L377.59,260.80 L377.96,260.80 L378.34,260.80 L378.71,260.80 L379.09,260.80 L379.46,260.80 L379.84,260.80 L380.21,260.80 L380.59,260.80 L380.96,260.80 L381.33,260.80 L381.71,260.80 L382.08,260.80 L382.46,260.80 L382.83,260.80 L383.21,260.80 L383.58,260.80 L383.95,260.80 L384.33,260.80 L384.70,260.80 L385.08,257.73 L385.45,242.90 L385.83,228.08 L386.20,213.25 L386.58,202.27 L386.95,206.63 L387.32,210.99 L387.70,215.35 L388.07,219.71 L388.45,224.07 L388.82,228.43 L389.20,232.79 L389.57,237.15 L389.94,241.51 L390.32,245.88 L390.69,250.24 L391.07,254.60 L391.44,258.96 L391.82,260.80 L392.19,260.80 L392.56,260.80 L392.94,260.80 L393.31,260.80 L393.69,260.80 L394.06,260.80 L394.44,260.80 L394.81,260.80 L395.19,260.80 L395.56,260.80 L395.93,260.80 L396.31,260.80 L396.68,260.80 L397.06,260.80 L397.43,260.80 L397.81,260.80 L398.18,260.80 L398.56,260.80 L398.93,260.80 L399.30,260.80 L399.68,260.80 L400.05,260.80 L400.43,260.80 L400.80,260.80 L401.18,260.80 L401.55,260.80 L401.92,260.80 L402.30,260.80 L402.67,260.80 L403.05,260.80 L403.42,260.80 L403.80,260.80 L404.17,260.80 L404.55,260.80 L404.92,260.80 L405.29,260.80 L405.67,260.80 L406.04,260.80 L406.42,260.80 L406.79,260.80 L407.17,260.80 L407.54,260.80 L407.91,260.80 L408.29,260.80 L408.66,260.80 L409.04,260.80 L409.41,260.80 L409.79,260.80 L410.16,260.80 L410.54,260.80 L410.91,260.80 L411.28,260.80 L411.66,260.80 L412.03,260.80 L412.41,260.80 L412.78,260.80 L413.16,260.80 L413.53,260.80 L413.90,260.80 L414.28,260.80 L414.65,260.80 L415.03,260.80 L415.40,260.80 L415.78,260.80 L416.15,260.80 L416.52,260.80 L416.90,260.80 L417.27,260.80 L417.65,260.80 L418.02,260.80 L418.40,260.80 L418.77,260.80 L419.15,260.80 L419.52,260.80 L419.89,260.80 L420.27,260.80 L420.64,260.80 L421.02,260.80 L421.39,260.80 L421.77,260.80 L422.14,260.80 L422.51,260.80 L422.89,260.80 L423.26,260.80 L423.64,260.80 L424.01,260.80 L424.39,260.80 L424.76,260.80 L425.14,260.80 L425.51,260.80 L425.88,260.80 L426.26,260.80 L426.63,260.80 L427.01,260.80 L427.38,260.80 L427.76,260.80 L428.13,260.80 L428.50,260.80 L428.88,260.80 L429.25,260.80 L429.63,260.80 L430.00,260.80 L430.38,260.80 L430.75,260.80 L431.13,260.80 L431.50,260.80 L431.50,260.80Z" fill="#e9808e" stroke="none" stroke-width="1"/>
<line x1="370.60" y1="197.60" x2="370.60" y2="260.80" stroke="#1a1a1a" stroke-width="1.05"/>
<line x1="368.30" y1="260.80" x2="370.60" y2="260.80" stroke="#1a1a1a" stroke-width="1.05"/>
<text x="366.40" y="263.07" font-size="6.3" text-anchor="end" fill="#222" color="#222">0</text>
<line x1="368.30" y1="248.16" x2="370.60" y2="248.16" stroke="#1a1a1a" stroke-width="1.05"/>
<text x="366.40" y="250.43" font-size="6.3" text-anchor="end" fill="#222" color="#222">20</text>
<line x1="368.30" y1="235.52" x2="370.60" y2="235.52" stroke="#1a1a1a" stroke-width="1.05"/>
<text x="366.40" y="237.79" font-size="6.3" text-anchor="end" fill="#222" color="#222">40</text>
<line x1="368.30" y1="222.88" x2="370.60" y2="222.88" stroke="#1a1a1a" stroke-width="1.05"/>
<text x="366.40" y="225.15" font-size="6.3" text-anchor="end" fill="#222" color="#222">60</text>
<line x1="368.30" y1="210.24" x2="370.60" y2="210.24" stroke="#1a1a1a" stroke-width="1.05"/>
<text x="366.40" y="212.51" font-size="6.3" text-anchor="end" fill="#222" color="#222">80</text>
<line x1="368.30" y1="197.60" x2="370.60" y2="197.60" stroke="#1a1a1a" stroke-width="1.05"/>
<text x="366.40" y="199.87" font-size="6.3" text-anchor="end" fill="#222" color="#222">100</text>
<line x1="370.60" y1="260.80" x2="432.50" y2="260.80" stroke="#1a1a1a" stroke-width="1.05"/>
<line x1="374.50" y1="260.80" x2="374.50" y2="262.80" stroke="#1a1a1a" stroke-width="0.9"/>
<text x="370.60" y="271.56" font-size="6.0" text-anchor="middle" fill="#222" color="#222">-10<tspan font-size="3.8" dy="-2.3">3</tspan></text>
<line x1="385.10" y1="260.80" x2="385.10" y2="262.80" stroke="#1a1a1a" stroke-width="0.9"/>
<text x="383.40" y="271.56" font-size="6.0" text-anchor="middle" fill="#222" color="#222">0</text>
<line x1="396.20" y1="260.80" x2="396.20" y2="262.80" stroke="#1a1a1a" stroke-width="0.9"/>
<text x="394.10" y="271.56" font-size="6.0" text-anchor="middle" fill="#222" color="#222">10<tspan font-size="3.8" dy="-2.3">3</tspan></text>
<line x1="414.30" y1="260.80" x2="414.30" y2="262.80" stroke="#1a1a1a" stroke-width="0.9"/>
<text x="412.10" y="271.56" font-size="6.0" text-anchor="middle" fill="#222" color="#222">10<tspan font-size="3.8" dy="-2.3">4</tspan></text>
<line x1="429.60" y1="260.80" x2="429.60" y2="262.80" stroke="#1a1a1a" stroke-width="0.9"/>
<text x="426.00" y="271.56" font-size="6.0" text-anchor="middle" fill="#222" color="#222">10<tspan font-size="3.8" dy="-2.3">5</tspan></text>
<line x1="401.65" y1="260.80" x2="401.65" y2="262.00" stroke="#1a1a1a" stroke-width="0.6"/>
<line x1="404.84" y1="260.80" x2="404.84" y2="262.00" stroke="#1a1a1a" stroke-width="0.6"/>
<line x1="407.10" y1="260.80" x2="407.10" y2="262.00" stroke="#1a1a1a" stroke-width="0.6"/>
<line x1="408.85" y1="260.80" x2="408.85" y2="262.00" stroke="#1a1a1a" stroke-width="0.6"/>
<line x1="410.28" y1="260.80" x2="410.28" y2="262.00" stroke="#1a1a1a" stroke-width="0.6"/>
<line x1="411.50" y1="260.80" x2="411.50" y2="262.00" stroke="#1a1a1a" stroke-width="0.6"/>
<line x1="412.55" y1="260.80" x2="412.55" y2="262.00" stroke="#1a1a1a" stroke-width="0.6"/>
<line x1="413.47" y1="260.80" x2="413.47" y2="262.00" stroke="#1a1a1a" stroke-width="0.6"/>
<line x1="419.75" y1="260.80" x2="419.75" y2="262.00" stroke="#1a1a1a" stroke-width="0.6"/>
<line x1="422.94" y1="260.80" x2="422.94" y2="262.00" stroke="#1a1a1a" stroke-width="0.6"/>
<line x1="425.20" y1="260.80" x2="425.20" y2="262.00" stroke="#1a1a1a" stroke-width="0.6"/>
<line x1="426.95" y1="260.80" x2="426.95" y2="262.00" stroke="#1a1a1a" stroke-width="0.6"/>
<line x1="428.38" y1="260.80" x2="428.38" y2="262.00" stroke="#1a1a1a" stroke-width="0.6"/>
<line x1="429.60" y1="260.80" x2="429.60" y2="262.00" stroke="#1a1a1a" stroke-width="0.6"/>
<line x1="430.65" y1="260.80" x2="430.65" y2="262.00" stroke="#1a1a1a" stroke-width="0.6"/>
<line x1="431.57" y1="260.80" x2="431.57" y2="262.00" stroke="#1a1a1a" stroke-width="0.6"/>
<line x1="381.91" y1="260.80" x2="381.91" y2="262.00" stroke="#1a1a1a" stroke-width="0.6"/>
<line x1="380.04" y1="260.80" x2="380.04" y2="262.00" stroke="#1a1a1a" stroke-width="0.6"/>
<line x1="378.72" y1="260.80" x2="378.72" y2="262.00" stroke="#1a1a1a" stroke-width="0.6"/>
<line x1="377.69" y1="260.80" x2="377.69" y2="262.00" stroke="#1a1a1a" stroke-width="0.6"/>
<line x1="376.85" y1="260.80" x2="376.85" y2="262.00" stroke="#1a1a1a" stroke-width="0.6"/>
<line x1="376.14" y1="260.80" x2="376.14" y2="262.00" stroke="#1a1a1a" stroke-width="0.6"/>
<line x1="375.53" y1="260.80" x2="375.53" y2="262.00" stroke="#1a1a1a" stroke-width="0.6"/>
<line x1="374.99" y1="260.80" x2="374.99" y2="262.00" stroke="#1a1a1a" stroke-width="0.6"/>
<text x="400.50" y="196.68" font-size="6.6" text-anchor="middle" fill="#222" color="#222">HCC827GR6</text>
<path d="M444.60,260.80 L444.60,260.80 L444.98,260.80 L445.37,260.80 L445.75,260.80 L446.14,260.80 L446.52,260.80 L446.90,260.80 L447.29,260.80 L447.67,260.80 L448.05,260.80 L448.44,260.80 L448.82,260.80 L449.21,260.80 L449.59,260.80 L449.97,260.80 L450.36,260.80 L450.74,260.80 L451.12,260.80 L451.51,260.80 L451.89,260.80 L452.28,260.80 L452.66,260.80 L453.04,260.80 L453.43,260.80 L453.81,260.79 L454.19,260.79 L454.58,260.79 L454.96,260.79 L455.35,260.78 L455.73,260.78 L456.11,260.77 L456.50,260.77 L456.88,260.76 L457.26,260.75 L457.65,260.73 L458.03,260.71 L458.42,260.69 L458.80,260.66 L459.18,260.62 L459.57,260.57 L459.95,260.53 L460.33,260.47 L460.72,260.39 L461.10,260.27 L461.49,260.15 L461.87,260.01 L462.25,259.85 L462.64,259.68 L463.02,259.49 L463.40,259.23 L463.79,258.92 L464.17,258.57 L464.56,258.09 L464.94,257.62 L465.32,257.18 L465.71,256.38 L466.09,255.68 L466.47,255.04 L466.86,254.19 L467.24,253.44 L467.62,252.42 L468.01,251.00 L468.39,249.96 L468.78,248.62 L469.16,246.62 L469.54,245.01 L469.93,243.31 L470.31,241.49 L470.69,240.15 L471.08,237.99 L471.46,235.94 L471.85,233.73 L472.23,231.56 L472.61,229.11 L473.00,226.87 L473.38,224.20 L473.76,224.45 L474.15,222.38 L474.53,219.40 L474.92,217.43 L475.30,214.79 L475.68,214.01 L476.07,212.42 L476.45,209.99 L476.84,208.73 L477.22,209.51 L477.60,208.69 L477.99,205.08 L478.37,206.04 L478.75,205.89 L479.14,207.46 L479.52,207.46 L479.91,205.37 L480.29,205.37 L480.67,206.71 L481.06,207.16 L481.44,207.16 L481.82,206.05 L482.21,206.05 L482.59,207.70 L482.98,208.65 L483.36,209.91 L483.74,209.69 L484.13,212.34 L484.51,215.91 L484.89,219.23 L485.28,224.55 L485.66,228.02 L486.05,229.87 L486.43,234.90 L486.81,238.19 L487.20,240.84 L487.58,243.78 L487.96,245.88 L488.35,248.61 L488.73,250.77 L489.12,252.82 L489.50,254.38 L489.88,255.67 L490.27,256.77 L490.65,257.67 L491.03,258.45 L491.42,259.02 L491.80,259.38 L492.19,259.75 L492.57,260.08 L492.95,260.28 L493.34,260.42 L493.72,260.52 L494.10,260.61 L494.49,260.67 L494.87,260.71 L495.25,260.74 L495.64,260.76 L496.02,260.77 L496.41,260.78 L496.79,260.79 L497.17,260.79 L497.56,260.80 L497.94,260.80 L498.32,260.80 L498.71,260.80 L499.09,260.80 L499.48,260.80 L499.86,260.80 L500.24,260.80 L500.63,260.80 L501.01,260.80 L501.39,260.80 L501.78,260.80 L502.16,260.80 L502.55,260.80 L502.93,260.80 L503.31,260.80 L503.70,260.80 L504.08,260.80 L504.46,260.80 L504.85,260.80 L505.23,260.80 L505.62,260.80 L506.00,260.80 L506.00,260.80Z" fill="#f6c39a" stroke="none" stroke-width="1"/>
<path d="M444.60,260.80 L444.60,260.80 L444.98,260.80 L445.37,260.80 L445.75,260.80 L446.14,260.80 L446.52,260.80 L446.90,260.80 L447.29,260.80 L447.67,260.80 L448.05,260.80 L448.44,260.80 L448.82,260.80 L449.21,260.80 L449.59,260.80 L449.97,260.80 L450.36,260.80 L450.74,260.80 L451.12,260.80 L451.51,260.80 L451.89,260.80 L452.28,260.80 L452.66,260.80 L453.04,260.80 L453.43,260.79 L453.81,260.79 L454.19,260.79 L454.58,260.78 L454.96,260.78 L455.35,260.78 L455.73,260.77 L456.11,260.76 L456.50,260.75 L456.88,260.73 L457.26,260.71 L457.65,260.68 L458.03,260.66 L458.42,260.63 L458.80,260.58 L459.18,260.52 L459.57,260.45 L459.95,260.39 L460.33,260.28 L460.72,260.16 L461.10,260.05 L461.49,259.89 L461.87,259.71 L462.25,259.49 L462.64,259.14 L463.02,258.91 L463.40,258.56 L463.79,258.16 L464.17,257.70 L464.56,256.97 L464.94,256.34 L465.32,255.67 L465.71,255.11 L466.09,254.26 L466.47,252.96 L466.86,251.87 L467.24,250.96 L467.62,249.68 L468.01,248.18 L468.39,247.13 L468.78,245.56 L469.16,242.99 L469.54,241.12 L469.93,239.52 L470.31,237.49 L470.69,234.90 L471.08,232.81 L471.46,230.54 L471.85,229.55 L472.23,227.31 L472.61,224.91 L473.00,222.68 L473.38,221.04 L473.76,218.99 L474.15,216.96 L474.53,215.31 L474.92,213.52 L475.30,211.04 L475.68,208.44 L476.07,207.09 L476.45,208.24 L476.84,207.36 L477.22,204.05 L477.60,203.60 L477.99,204.75 L478.37,204.85 L478.75,204.85 L479.14,202.84 L479.52,202.84 L479.91,204.18 L480.29,204.18 L480.67,204.83 L481.06,204.17 L481.44,204.17 L481.82,203.40 L482.21,204.13 L482.59,207.98 L482.98,209.86 L483.36,209.03 L483.74,215.19 L484.13,218.34 L484.51,219.68 L484.89,223.42 L485.28,226.99 L485.66,230.78 L486.05,235.94 L486.43,238.04 L486.81,241.29 L487.20,244.75 L487.58,247.36 L487.96,249.52 L488.35,251.94 L488.73,253.64 L489.12,255.07 L489.50,256.27 L489.88,257.23 L490.27,258.05 L490.65,258.59 L491.03,259.22 L491.42,259.63 L491.80,259.90 L492.19,260.15 L492.57,260.33 L492.95,260.46 L493.34,260.56 L493.72,260.64 L494.10,260.69 L494.49,260.73 L494.87,260.75 L495.25,260.77 L495.64,260.78 L496.02,260.79 L496.41,260.79 L496.79,260.79 L497.17,260.80 L497.56,260.80 L497.94,260.80 L498.32,260.80 L498.71,260.80 L499.09,260.80 L499.48,260.80 L499.86,260.80 L500.24,260.80 L500.63,260.80 L501.01,260.80 L501.39,260.80 L501.78,260.80 L502.16,260.80 L502.55,260.80 L502.93,260.80 L503.31,260.80 L503.70,260.80 L504.08,260.80 L504.46,260.80 L504.85,260.80 L505.23,260.80 L505.62,260.80 L506.00,260.80 L506.00,260.80Z" fill="#5cc0d2" stroke="none" stroke-width="1"/>
<path d="M444.60,260.80 L444.60,260.80 L444.98,260.80 L445.37,260.80 L445.75,260.80 L446.14,260.80 L446.52,260.80 L446.90,260.80 L447.29,260.80 L447.67,260.80 L448.05,260.80 L448.44,260.80 L448.82,260.80 L449.21,260.80 L449.59,260.80 L449.97,260.80 L450.36,260.80 L450.74,260.80 L451.12,260.80 L451.51,260.80 L451.89,260.80 L452.28,260.80 L452.66,260.80 L453.04,260.80 L453.43,260.80 L453.81,260.79 L454.19,260.79 L454.58,260.79 L454.96,260.79 L455.35,260.78 L455.73,260.78 L456.11,260.77 L456.50,260.77 L456.88,260.76 L457.26,260.75 L457.65,260.73 L458.03,260.71 L458.42,260.69 L458.80,260.66 L459.18,260.62 L459.57,260.57 L459.95,260.53 L460.33,260.47 L460.72,260.39 L461.10,260.27 L461.49,260.15 L461.87,260.01 L462.25,259.85 L462.64,259.68 L463.02,259.49 L463.40,259.23 L463.79,258.92 L464.17,258.57 L464.56,258.09 L464.94,257.62 L465.32,257.18 L465.71,256.38 L466.09,255.68 L466.47,255.04 L466.86,254.19 L467.24,253.44 L467.62,252.42 L468.01,251.00 L468.39,249.96 L468.78,248.62 L469.16,246.62 L469.54,245.01 L469.93,243.31 L470.31,241.49 L470.69,240.15 L471.08,237.99 L471.46,235.94 L471.85,233.73 L472.23,231.56 L472.61,229.11 L473.00,226.87 L473.38,224.20 L473.76,224.45 L474.15,222.38 L474.53,219.40 L474.92,217.43 L475.30,214.79 L475.68,214.01 L476.07,212.42 L476.45,209.99 L476.84,208.73 L477.22,209.51 L477.60,208.69 L477.99,205.08 L478.37,206.04 L478.75,205.89 L479.14,207.46 L479.52,207.46 L479.91,205.37 L480.29,205.37 L480.67,206.71 L481.06,207.16 L481.44,207.16 L481.82,206.05 L482.21,206.05 L482.59,207.98 L482.98,209.86 L483.36,209.91 L483.74,215.19 L484.13,218.34 L484.51,219.68 L484.89,223.42 L485.28,226.99 L485.66,230.78 L486.05,235.94 L486.43,238.04 L486.81,241.29 L487.20,244.75 L487.58,247.36 L487.96,249.52 L488.35,251.94 L488.73,253.64 L489.12,255.07 L489.50,256.27 L489.88,257.23 L490.27,258.05 L490.65,258.59 L491.03,259.22 L491.42,259.63 L491.80,259.90 L492.19,260.15 L492.57,260.33 L492.95,260.46 L493.34,260.56 L493.72,260.64 L494.10,260.69 L494.49,260.73 L494.87,260.75 L495.25,260.77 L495.64,260.78 L496.02,260.79 L496.41,260.79 L496.79,260.79 L497.17,260.80 L497.56,260.80 L497.94,260.80 L498.32,260.80 L498.71,260.80 L499.09,260.80 L499.48,260.80 L499.86,260.80 L500.24,260.80 L500.63,260.80 L501.01,260.80 L501.39,260.80 L501.78,260.80 L502.16,260.80 L502.55,260.80 L502.93,260.80 L503.31,260.80 L503.70,260.80 L504.08,260.80 L504.46,260.80 L504.85,260.80 L505.23,260.80 L505.62,260.80 L506.00,260.80 L506.00,260.80Z" fill="#69bda8" stroke="none" stroke-width="1"/>
<path d="M444.60,260.80 L444.60,260.80 L444.98,260.80 L445.37,260.80 L445.75,260.80 L446.14,260.80 L446.52,260.80 L446.90,260.80 L447.29,260.80 L447.67,260.80 L448.05,260.80 L448.44,260.80 L448.82,260.80 L449.21,260.80 L449.59,260.80 L449.97,260.80 L450.36,260.80 L450.74,260.80 L451.12,260.80 L451.51,260.80 L451.89,260.80 L452.28,260.80 L452.66,260.80 L453.04,260.80 L453.43,260.80 L453.81,260.80 L454.19,260.80 L454.58,260.80 L454.96,260.80 L455.35,260.80 L455.73,260.80 L456.11,260.80 L456.50,260.80 L456.88,260.80 L457.26,260.80 L457.65,260.80 L458.03,260.80 L458.42,260.16 L458.80,243.75 L459.18,227.35 L459.57,210.94 L459.95,202.90 L460.33,207.89 L460.72,212.89 L461.10,217.88 L461.49,222.87 L461.87,227.87 L462.25,232.86 L462.64,237.85 L463.02,242.85 L463.40,247.84 L463.79,252.83 L464.17,257.82 L464.56,260.80 L464.94,260.80 L465.32,260.80 L465.71,260.80 L466.09,260.80 L466.47,260.80 L466.86,260.80 L467.24,260.80 L467.62,260.80 L468.01,260.80 L468.39,260.80 L468.78,260.80 L469.16,260.80 L469.54,260.80 L469.93,260.80 L470.31,260.80 L470.69,260.80 L471.08,260.80 L471.46,260.80 L471.85,260.80 L472.23,260.80 L472.61,260.80 L473.00,260.80 L473.38,260.80 L473.76,260.80 L474.15,260.80 L474.53,260.80 L474.92,260.80 L475.30,260.80 L475.68,260.80 L476.07,260.80 L476.45,260.80 L476.84,260.80 L477.22,260.80 L477.60,260.80 L477.99,260.80 L478.37,260.80 L478.75,260.80 L479.14,260.80 L479.52,260.80 L479.91,260.80 L480.29,260.80 L480.67,260.80 L481.06,260.80 L481.44,260.80 L481.82,260.80 L482.21,260.80 L482.59,260.80 L482.98,260.80 L483.36,260.80 L483.74,260.80 L484.13,260.80 L484.51,260.80 L484.89,260.80 L485.28,260.80 L485.66,260.80 L486.05,260.80 L486.43,260.80 L486.81,260.80 L487.20,260.80 L487.58,260.80 L487.96,260.80 L488.35,260.80 L488.73,260.80 L489.12,260.80 L489.50,260.80 L489.88,260.80 L490.27,260.80 L490.65,260.80 L491.03,260.80 L491.42,260.80 L491.80,260.80 L492.19,260.80 L492.57,260.80 L492.95,260.80 L493.34,260.80 L493.72,260.80 L494.10,260.80 L494.49,260.80 L494.87,260.80 L495.25,260.80 L495.64,260.80 L496.02,260.80 L496.41,260.80 L496.79,260.80 L497.17,260.80 L497.56,260.80 L497.94,260.80 L498.32,260.80 L498.71,260.80 L499.09,260.80 L499.48,260.80 L499.86,260.80 L500.24,260.80 L500.63,260.80 L501.01,260.80 L501.39,260.80 L501.78,260.80 L502.16,260.80 L502.55,260.80 L502.93,260.80 L503.31,260.80 L503.70,260.80 L504.08,260.80 L504.46,260.80 L504.85,260.80 L505.23,260.80 L505.62,260.80 L506.00,260.80 L506.00,260.80Z" fill="#e9808e" stroke="none" stroke-width="1"/>
<line x1="443.60" y1="197.80" x2="443.60" y2="260.80" stroke="#1a1a1a" stroke-width="1.05"/>
<line x1="441.30" y1="260.80" x2="443.60" y2="260.80" stroke="#1a1a1a" stroke-width="1.05"/>
<text x="439.40" y="263.07" font-size="6.3" text-anchor="end" fill="#222" color="#222">0</text>
<line x1="441.30" y1="248.20" x2="443.60" y2="248.20" stroke="#1a1a1a" stroke-width="1.05"/>
<text x="439.40" y="250.47" font-size="6.3" text-anchor="end" fill="#222" color="#222">20</text>
<line x1="441.30" y1="235.60" x2="443.60" y2="235.60" stroke="#1a1a1a" stroke-width="1.05"/>
<text x="439.40" y="237.87" font-size="6.3" text-anchor="end" fill="#222" color="#222">40</text>
<line x1="441.30" y1="223.00" x2="443.60" y2="223.00" stroke="#1a1a1a" stroke-width="1.05"/>
<text x="439.40" y="225.27" font-size="6.3" text-anchor="end" fill="#222" color="#222">60</text>
<line x1="441.30" y1="210.40" x2="443.60" y2="210.40" stroke="#1a1a1a" stroke-width="1.05"/>
<text x="439.40" y="212.67" font-size="6.3" text-anchor="end" fill="#222" color="#222">80</text>
<line x1="441.30" y1="197.80" x2="443.60" y2="197.80" stroke="#1a1a1a" stroke-width="1.05"/>
<text x="439.40" y="200.07" font-size="6.3" text-anchor="end" fill="#222" color="#222">100</text>
<line x1="443.60" y1="260.80" x2="507.00" y2="260.80" stroke="#1a1a1a" stroke-width="1.05"/>
<line x1="447.50" y1="260.80" x2="447.50" y2="262.80" stroke="#1a1a1a" stroke-width="0.9"/>
<text x="443.60" y="271.56" font-size="6.0" text-anchor="middle" fill="#222" color="#222">-10<tspan font-size="3.8" dy="-2.3">3</tspan></text>
<line x1="458.10" y1="260.80" x2="458.10" y2="262.80" stroke="#1a1a1a" stroke-width="0.9"/>
<text x="456.40" y="271.56" font-size="6.0" text-anchor="middle" fill="#222" color="#222">0</text>
<line x1="469.20" y1="260.80" x2="469.20" y2="262.80" stroke="#1a1a1a" stroke-width="0.9"/>
<text x="467.10" y="271.56" font-size="6.0" text-anchor="middle" fill="#222" color="#222">10<tspan font-size="3.8" dy="-2.3">3</tspan></text>
<line x1="487.30" y1="260.80" x2="487.30" y2="262.80" stroke="#1a1a1a" stroke-width="0.9"/>
<text x="485.10" y="271.56" font-size="6.0" text-anchor="middle" fill="#222" color="#222">10<tspan font-size="3.8" dy="-2.3">4</tspan></text>
<line x1="502.60" y1="260.80" x2="502.60" y2="262.80" stroke="#1a1a1a" stroke-width="0.9"/>
<text x="499.00" y="271.56" font-size="6.0" text-anchor="middle" fill="#222" color="#222">10<tspan font-size="3.8" dy="-2.3">5</tspan></text>
<line x1="474.65" y1="260.80" x2="474.65" y2="262.00" stroke="#1a1a1a" stroke-width="0.6"/>
<line x1="477.84" y1="260.80" x2="477.84" y2="262.00" stroke="#1a1a1a" stroke-width="0.6"/>
<line x1="480.10" y1="260.80" x2="480.10" y2="262.00" stroke="#1a1a1a" stroke-width="0.6"/>
<line x1="481.85" y1="260.80" x2="481.85" y2="262.00" stroke="#1a1a1a" stroke-width="0.6"/>
<line x1="483.28" y1="260.80" x2="483.28" y2="262.00" stroke="#1a1a1a" stroke-width="0.6"/>
<line x1="484.50" y1="260.80" x2="484.50" y2="262.00" stroke="#1a1a1a" stroke-width="0.6"/>
<line x1="485.55" y1="260.80" x2="485.55" y2="262.00" stroke="#1a1a1a" stroke-width="0.6"/>
<line x1="486.47" y1="260.80" x2="486.47" y2="262.00" stroke="#1a1a1a" stroke-width="0.6"/>
<line x1="492.75" y1="260.80" x2="492.75" y2="262.00" stroke="#1a1a1a" stroke-width="0.6"/>
<line x1="495.94" y1="260.80" x2="495.94" y2="262.00" stroke="#1a1a1a" stroke-width="0.6"/>
<line x1="498.20" y1="260.80" x2="498.20" y2="262.00" stroke="#1a1a1a" stroke-width="0.6"/>
<line x1="499.95" y1="260.80" x2="499.95" y2="262.00" stroke="#1a1a1a" stroke-width="0.6"/>
<line x1="501.38" y1="260.80" x2="501.38" y2="262.00" stroke="#1a1a1a" stroke-width="0.6"/>
<line x1="502.60" y1="260.80" x2="502.60" y2="262.00" stroke="#1a1a1a" stroke-width="0.6"/>
<line x1="503.65" y1="260.80" x2="503.65" y2="262.00" stroke="#1a1a1a" stroke-width="0.6"/>
<line x1="504.57" y1="260.80" x2="504.57" y2="262.00" stroke="#1a1a1a" stroke-width="0.6"/>
<line x1="454.91" y1="260.80" x2="454.91" y2="262.00" stroke="#1a1a1a" stroke-width="0.6"/>
<line x1="453.04" y1="260.80" x2="453.04" y2="262.00" stroke="#1a1a1a" stroke-width="0.6"/>
<line x1="451.72" y1="260.80" x2="451.72" y2="262.00" stroke="#1a1a1a" stroke-width="0.6"/>
<line x1="450.69" y1="260.80" x2="450.69" y2="262.00" stroke="#1a1a1a" stroke-width="0.6"/>
<line x1="449.85" y1="260.80" x2="449.85" y2="262.00" stroke="#1a1a1a" stroke-width="0.6"/>
<line x1="449.14" y1="260.80" x2="449.14" y2="262.00" stroke="#1a1a1a" stroke-width="0.6"/>
<line x1="448.53" y1="260.80" x2="448.53" y2="262.00" stroke="#1a1a1a" stroke-width="0.6"/>
<line x1="447.99" y1="260.80" x2="447.99" y2="262.00" stroke="#1a1a1a" stroke-width="0.6"/>
<text x="470.00" y="196.68" font-size="6.6" text-anchor="middle" fill="#222" color="#222">HCC827EPR</text>
<rect x="488.70" y="196.40" width="10.10" height="5.60" fill="#e9808e"/>
<text x="499.60" y="201.58" font-size="6.6" fill="#222" color="#222">IgG</text>
<rect x="488.70" y="204.10" width="10.10" height="5.60" fill="#5cc0d2"/>
<text x="499.60" y="209.28" font-size="6.6" fill="#222" color="#222">DMSO</text>
<rect x="488.70" y="211.50" width="10.10" height="5.60" fill="#f6c39a"/>
<text x="499.60" y="216.68" font-size="6.6" fill="#222" color="#222">PEM</text>
</g>
<g id="panelH">
<text x="1.50" y="308.40" font-size="12.4" font-weight="bold" fill="#111" color="#111">H</text>
<text x="57.30" y="322.15" font-size="6.8" text-anchor="middle" fill="#222" color="#222">&#916;MFI</text>
<text x="57.30" y="329.65" font-size="6.8" text-anchor="middle" fill="#222" color="#222">(PEM-DMSO/DMSO)</text>
<line x1="28.40" y1="340.30" x2="28.40" y2="464.30" stroke="#1a1a1a" stroke-width="1.05"/>
<line x1="25.00" y1="464.30" x2="28.40" y2="464.30" stroke="#1a1a1a" stroke-width="1.05"/>
<text x="22.30" y="467.04" font-size="7.6" text-anchor="end" fill="#222" color="#222">-50</text>
<line x1="25.00" y1="433.30" x2="28.40" y2="433.30" stroke="#1a1a1a" stroke-width="1.05"/>
<text x="22.30" y="436.04" font-size="7.6" text-anchor="end" fill="#222" color="#222">0</text>
<line x1="25.00" y1="402.30" x2="28.40" y2="402.30" stroke="#1a1a1a" stroke-width="1.05"/>
<text x="22.30" y="405.04" font-size="7.6" text-anchor="end" fill="#222" color="#222">50</text>
<line x1="25.00" y1="371.30" x2="28.40" y2="371.30" stroke="#1a1a1a" stroke-width="1.05"/>
<text x="22.30" y="374.04" font-size="7.6" text-anchor="end" fill="#222" color="#222">100</text>
<line x1="25.00" y1="340.30" x2="28.40" y2="340.30" stroke="#1a1a1a" stroke-width="1.05"/>
<text x="22.30" y="343.04" font-size="7.6" text-anchor="end" fill="#222" color="#222">150</text>
<line x1="28.40" y1="464.30" x2="85.00" y2="464.30" stroke="#1a1a1a" stroke-width="1.05"/>
<line x1="28.40" y1="433.30" x2="85.00" y2="433.30" stroke="#888" stroke-width="0.8"/>
<line x1="39.80" y1="464.30" x2="39.80" y2="467.10" stroke="#1a1a1a" stroke-width="1.05"/>
<line x1="56.60" y1="464.30" x2="56.60" y2="467.10" stroke="#1a1a1a" stroke-width="1.05"/>
<line x1="74.00" y1="464.30" x2="74.00" y2="467.10" stroke="#1a1a1a" stroke-width="1.05"/>
<line x1="39.80" y1="415.94" x2="39.80" y2="424.00" stroke="#111" stroke-width="1.3"/>
<line x1="39.80" y1="440.74" x2="39.80" y2="448.18" stroke="#111" stroke-width="1.3"/>
<line x1="36.50" y1="415.94" x2="43.10" y2="415.94" stroke="#111" stroke-width="1.3"/>
<line x1="36.50" y1="448.18" x2="43.10" y2="448.18" stroke="#111" stroke-width="1.3"/>
<rect x="34.40" y="424.00" width="10.80" height="16.74" fill="#fff" stroke="#111" stroke-width="1.3"/>
<line x1="34.40" y1="434.54" x2="45.20" y2="434.54" stroke="#111" stroke-width="1.3"/>
<line x1="56.60" y1="372.54" x2="56.60" y2="373.16" stroke="#111" stroke-width="1.3"/>
<line x1="56.60" y1="402.30" x2="56.60" y2="405.40" stroke="#111" stroke-width="1.3"/>
<line x1="53.30" y1="372.54" x2="59.90" y2="372.54" stroke="#111" stroke-width="1.3"/>
<line x1="53.30" y1="405.40" x2="59.90" y2="405.40" stroke="#111" stroke-width="1.3"/>
<rect x="51.20" y="373.16" width="10.80" height="29.14" fill="#fff" stroke="#111" stroke-width="1.3"/>
<line x1="51.20" y1="380.60" x2="62.00" y2="380.60" stroke="#111" stroke-width="1.3"/>
<line x1="74.00" y1="379.98" x2="74.00" y2="397.34" stroke="#111" stroke-width="1.3"/>
<line x1="74.00" y1="425.24" x2="74.00" y2="426.48" stroke="#111" stroke-width="1.3"/>
<line x1="70.70" y1="379.98" x2="77.30" y2="379.98" stroke="#111" stroke-width="1.3"/>
<line x1="70.70" y1="426.48" x2="77.30" y2="426.48" stroke="#111" stroke-width="1.3"/>
<rect x="68.60" y="397.34" width="10.80" height="27.90" fill="#fff" stroke="#111" stroke-width="1.3"/>
<line x1="68.60" y1="415.94" x2="79.40" y2="415.94" stroke="#111" stroke-width="1.3"/>
<line x1="39.00" y1="347.90" x2="74.50" y2="347.90" stroke="#888" stroke-width="1.2"/>
<text x="57.50" y="348.30" font-size="7.5" text-anchor="middle" fill="#222" color="#222">*</text>
<line x1="39.00" y1="360.90" x2="56.90" y2="360.90" stroke="#888" stroke-width="1.2"/>
<text x="45.50" y="362.00" font-size="7.5" text-anchor="middle" fill="#222" color="#222">***</text>
<text x="43.90" y="475.00" font-size="7.0" text-anchor="end" fill="#222" color="#222" transform="rotate(-45 43.90 475.0)">HCC827</text>
<text x="60.70" y="475.00" font-size="7.0" text-anchor="end" fill="#222" color="#222" transform="rotate(-45 60.70 475.0)">HCC827GR6</text>
<text x="78.10" y="475.00" font-size="7.0" text-anchor="end" fill="#222" color="#222" transform="rotate(-45 78.10 475.0)">HCC827EPR</text>
</g>
<g id="panelI">
<text x="123.50" y="308.60" font-size="12.4" font-weight="bold" fill="#111" color="#111">I</text>
<path d="M154.50,394.50 L154.50,394.50 L154.93,394.50 L155.35,394.50 L155.78,394.50 L156.20,394.50 L156.63,394.50 L157.05,394.50 L157.48,394.50 L157.91,394.50 L158.33,394.50 L158.76,394.50 L159.18,394.50 L159.61,394.50 L160.03,394.50 L160.46,394.50 L160.88,394.50 L161.31,394.50 L161.74,394.50 L162.16,394.50 L162.59,394.50 L163.01,394.50 L163.44,394.50 L163.86,394.50 L164.29,394.50 L164.72,394.50 L165.14,394.50 L165.57,394.50 L165.99,394.50 L166.42,394.50 L166.84,394.50 L167.27,394.50 L167.69,394.50 L168.12,394.50 L168.55,394.50 L168.97,394.50 L169.40,394.50 L169.82,394.50 L170.25,394.50 L170.67,394.50 L171.10,394.49 L171.53,394.49 L171.95,394.49 L172.38,394.49 L172.80,394.49 L173.23,394.49 L173.65,394.49 L174.08,394.49 L174.50,394.48 L174.93,394.48 L175.36,394.48 L175.78,394.48 L176.21,394.47 L176.63,394.47 L177.06,394.47 L177.48,394.46 L177.91,394.46 L178.34,394.45 L178.76,394.44 L179.19,394.43 L179.61,394.43 L180.04,394.42 L180.46,394.40 L180.89,394.39 L181.31,394.38 L181.74,394.36 L182.17,394.34 L182.59,394.32 L183.02,394.31 L183.44,394.28 L183.87,394.26 L184.29,394.23 L184.72,394.19 L185.15,394.16 L185.57,394.12 L186.00,394.06 L186.42,394.02 L186.85,393.97 L187.27,393.89 L187.70,393.82 L188.12,393.74 L188.55,393.65 L188.98,393.56 L189.40,393.46 L189.83,393.36 L190.25,393.23 L190.68,393.11 L191.10,392.97 L191.53,392.81 L191.95,392.60 L192.38,392.41 L192.81,392.19 L193.23,392.00 L193.66,391.75 L194.08,391.38 L194.51,391.12 L194.93,390.80 L195.36,390.41 L195.79,390.10 L196.21,389.69 L196.64,389.24 L197.06,388.81 L197.49,388.30 L197.91,387.65 L198.34,387.07 L198.76,386.43 L199.19,385.68 L199.62,384.93 L200.04,384.16 L200.47,383.10 L200.89,382.18 L201.32,381.17 L201.74,380.54 L202.17,379.47 L202.60,378.19 L203.02,377.14 L203.45,375.88 L203.87,374.15 L204.30,372.73 L204.72,370.95 L205.15,370.14 L205.57,368.55 L206.00,366.27 L206.43,365.07 L206.85,363.29 L207.28,361.83 L207.70,358.91 L208.13,356.94 L208.55,355.60 L208.98,353.59 L209.41,351.86 L209.83,349.35 L210.26,347.30 L210.68,345.67 L211.11,343.31 L211.53,341.34 L211.96,339.36 L212.38,337.61 L212.81,335.91 L213.24,333.95 L213.66,332.58 L214.09,332.23 L214.51,332.03 L214.94,332.56 L215.36,334.91 L215.79,338.77 L216.22,343.95 L216.64,349.23 L217.07,356.04 L217.49,362.58 L217.92,368.31 L218.34,374.25 L218.77,379.12 L219.19,383.07 L219.62,386.31 L220.05,388.75 L220.47,390.76 L220.90,392.05 L221.32,392.94 L221.75,393.53 L222.17,393.92 L222.60,394.16 L222.60,394.50Z" fill="#f6c39a" stroke="none" stroke-width="1"/>
<path d="M154.50,394.50 L154.50,394.50 L154.93,394.50 L155.35,394.50 L155.78,394.50 L156.20,394.50 L156.63,394.50 L157.05,394.50 L157.48,394.50 L157.91,394.50 L158.33,394.50 L158.76,394.50 L159.18,394.50 L159.61,394.50 L160.03,394.50 L160.46,394.50 L160.88,394.50 L161.31,394.50 L161.74,394.50 L162.16,394.50 L162.59,394.50 L163.01,394.50 L163.44,394.50 L163.86,394.50 L164.29,394.50 L164.72,394.50 L165.14,394.50 L165.57,394.50 L165.99,394.50 L166.42,394.50 L166.84,394.50 L167.27,394.50 L167.69,394.50 L168.12,394.50 L168.55,394.50 L168.97,394.50 L169.40,394.50 L169.82,394.50 L170.25,394.50 L170.67,394.50 L171.10,394.50 L171.53,394.50 L171.95,394.50 L172.38,394.50 L172.80,394.50 L173.23,394.50 L173.65,394.50 L174.08,394.50 L174.50,394.50 L174.93,394.50 L175.36,394.50 L175.78,394.50 L176.21,394.50 L176.63,394.50 L177.06,394.50 L177.48,394.50 L177.91,394.49 L178.34,394.49 L178.76,394.49 L179.19,394.49 L179.61,394.49 L180.04,394.49 L180.46,394.48 L180.89,394.48 L181.31,394.47 L181.74,394.47 L182.17,394.46 L182.59,394.45 L183.02,394.44 L183.44,394.43 L183.87,394.42 L184.29,394.40 L184.72,394.38 L185.15,394.35 L185.57,394.33 L186.00,394.29 L186.42,394.25 L186.85,394.20 L187.27,394.15 L187.70,394.08 L188.12,394.00 L188.55,393.93 L188.98,393.83 L189.40,393.71 L189.83,393.56 L190.25,393.39 L190.68,393.24 L191.10,393.01 L191.53,392.77 L191.95,392.52 L192.38,392.15 L192.81,391.78 L193.23,391.35 L193.66,390.88 L194.08,390.37 L194.51,389.71 L194.93,389.02 L195.36,388.39 L195.79,387.44 L196.21,386.49 L196.64,385.47 L197.06,384.31 L197.49,383.02 L197.91,381.67 L198.34,379.91 L198.76,378.20 L199.19,376.27 L199.62,374.26 L200.04,372.51 L200.47,370.04 L200.89,367.60 L201.32,365.72 L201.74,362.23 L202.17,359.38 L202.60,356.50 L203.02,352.90 L203.45,349.76 L203.87,346.92 L204.30,343.80 L204.72,341.90 L205.15,338.83 L205.57,336.21 L206.00,333.22 L206.43,333.01 L206.85,332.16 L207.28,331.50 L207.70,333.40 L208.13,335.22 L208.55,337.77 L208.98,340.72 L209.41,344.22 L209.83,346.58 L210.26,350.62 L210.68,355.78 L211.11,359.69 L211.53,363.71 L211.96,367.42 L212.38,370.64 L212.81,374.12 L213.24,377.82 L213.66,380.58 L214.09,382.84 L214.51,384.95 L214.94,386.80 L215.36,388.28 L215.79,389.61 L216.22,390.69 L216.64,391.56 L217.07,392.31 L217.49,392.86 L217.92,393.27 L218.34,393.60 L218.77,393.84 L219.19,394.02 L219.62,394.16 L220.05,394.26 L220.47,394.34 L220.90,394.39 L221.32,394.42 L221.75,394.45 L222.17,394.47 L222.60,394.48 L222.60,394.50Z" fill="#5cc0d2" stroke="none" stroke-width="1"/>
<path d="M154.50,394.50 L154.50,394.50 L154.93,394.50 L155.35,394.50 L155.78,394.50 L156.20,394.50 L156.63,394.50 L157.05,394.50 L157.48,394.50 L157.91,394.50 L158.33,394.50 L158.76,394.50 L159.18,394.50 L159.61,394.50 L160.03,394.50 L160.46,394.50 L160.88,394.50 L161.31,394.50 L161.74,394.50 L162.16,394.50 L162.59,394.50 L163.01,394.50 L163.44,394.50 L163.86,394.50 L164.29,394.50 L164.72,394.50 L165.14,394.50 L165.57,394.50 L165.99,394.50 L166.42,394.50 L166.84,394.50 L167.27,394.50 L167.69,394.50 L168.12,394.50 L168.55,394.50 L168.97,394.50 L169.40,394.50 L169.82,394.50 L170.25,394.50 L170.67,394.50 L171.10,394.50 L171.53,394.50 L171.95,394.50 L172.38,394.50 L172.80,394.50 L173.23,394.50 L173.65,394.50 L174.08,394.50 L174.50,394.50 L174.93,394.50 L175.36,394.50 L175.78,394.50 L176.21,394.50 L176.63,394.50 L177.06,394.50 L177.48,394.50 L177.91,394.49 L178.34,394.49 L178.76,394.49 L179.19,394.49 L179.61,394.49 L180.04,394.49 L180.46,394.48 L180.89,394.48 L181.31,394.47 L181.74,394.47 L182.17,394.46 L182.59,394.45 L183.02,394.44 L183.44,394.43 L183.87,394.42 L184.29,394.40 L184.72,394.38 L185.15,394.35 L185.57,394.33 L186.00,394.29 L186.42,394.25 L186.85,394.20 L187.27,394.15 L187.70,394.08 L188.12,394.00 L188.55,393.93 L188.98,393.83 L189.40,393.71 L189.83,393.56 L190.25,393.39 L190.68,393.24 L191.10,393.01 L191.53,392.81 L191.95,392.60 L192.38,392.41 L192.81,392.19 L193.23,392.00 L193.66,391.75 L194.08,391.38 L194.51,391.12 L194.93,390.80 L195.36,390.41 L195.79,390.10 L196.21,389.69 L196.64,389.24 L197.06,388.81 L197.49,388.30 L197.91,387.65 L198.34,387.07 L198.76,386.43 L199.19,385.68 L199.62,384.93 L200.04,384.16 L200.47,383.10 L200.89,382.18 L201.32,381.17 L201.74,380.54 L202.17,379.47 L202.60,378.19 L203.02,377.14 L203.45,375.88 L203.87,374.15 L204.30,372.73 L204.72,370.95 L205.15,370.14 L205.57,368.55 L206.00,366.27 L206.43,365.07 L206.85,363.29 L207.28,361.83 L207.70,358.91 L208.13,356.94 L208.55,355.60 L208.98,353.59 L209.41,351.86 L209.83,349.35 L210.26,350.62 L210.68,355.78 L211.11,359.69 L211.53,363.71 L211.96,367.42 L212.38,370.64 L212.81,374.12 L213.24,377.82 L213.66,380.58 L214.09,382.84 L214.51,384.95 L214.94,386.80 L215.36,388.28 L215.79,389.61 L216.22,390.69 L216.64,391.56 L217.07,392.31 L217.49,392.86 L217.92,393.27 L218.34,393.60 L218.77,393.84 L219.19,394.02 L219.62,394.16 L220.05,394.26 L220.47,394.34 L220.90,394.39 L221.32,394.42 L221.75,394.45 L222.17,394.47 L222.60,394.48 L222.60,394.50Z" fill="#69bda8" stroke="none" stroke-width="1"/>
<path d="M154.50,394.50 L154.50,394.50 L154.93,394.50 L155.35,394.50 L155.78,394.50 L156.20,394.50 L156.63,394.50 L157.05,394.50 L157.48,394.50 L157.91,394.50 L158.33,394.50 L158.76,394.50 L159.18,394.50 L159.61,394.50 L160.03,394.50 L160.46,394.50 L160.88,394.50 L161.31,394.50 L161.74,394.50 L162.16,394.50 L162.59,394.50 L163.01,394.50 L163.44,394.50 L163.86,394.50 L164.29,394.50 L164.72,394.50 L165.14,394.50 L165.57,394.50 L165.99,394.50 L166.42,394.50 L166.84,394.50 L167.27,394.50 L167.69,394.50 L168.12,394.50 L168.55,394.50 L168.97,378.36 L169.40,359.85 L169.82,341.34 L170.25,341.57 L170.67,355.21 L171.10,368.85 L171.53,382.48 L171.95,394.50 L172.38,394.50 L172.80,394.50 L173.23,394.50 L173.65,394.50 L174.08,394.50 L174.50,394.50 L174.93,394.50 L175.36,394.50 L175.78,394.50 L176.21,394.50 L176.63,394.50 L177.06,394.50 L177.48,394.50 L177.91,394.50 L178.34,394.50 L178.76,394.50 L179.19,394.50 L179.61,394.50 L180.04,394.50 L180.46,394.50 L180.89,394.50 L181.31,394.50 L181.74,394.50 L182.17,394.50 L182.59,394.50 L183.02,394.50 L183.44,394.50 L183.87,394.50 L184.29,394.50 L184.72,394.50 L185.15,394.50 L185.57,394.50 L186.00,394.50 L186.42,394.50 L186.85,394.50 L187.27,394.50 L187.70,394.50 L188.12,394.50 L188.55,394.50 L188.98,394.50 L189.40,394.50 L189.83,394.50 L190.25,394.50 L190.68,394.50 L191.10,394.50 L191.53,394.50 L191.95,394.50 L192.38,394.50 L192.81,394.50 L193.23,394.50 L193.66,394.50 L194.08,394.50 L194.51,394.50 L194.93,394.50 L195.36,394.50 L195.79,394.50 L196.21,394.50 L196.64,394.50 L197.06,394.50 L197.49,394.50 L197.91,394.50 L198.34,394.50 L198.76,394.50 L199.19,394.50 L199.62,394.50 L200.04,394.50 L200.47,394.50 L200.89,394.50 L201.32,394.50 L201.74,394.50 L202.17,394.50 L202.60,394.50 L203.02,394.50 L203.45,394.50 L203.87,394.50 L204.30,394.50 L204.72,394.50 L205.15,394.50 L205.57,394.50 L206.00,394.50 L206.43,394.50 L206.85,394.50 L207.28,394.50 L207.70,394.50 L208.13,394.50 L208.55,394.50 L208.98,394.50 L209.41,394.50 L209.83,394.50 L210.26,394.50 L210.68,394.50 L211.11,394.50 L211.53,394.50 L211.96,394.50 L212.38,394.50 L212.81,394.50 L213.24,394.50 L213.66,394.50 L214.09,394.50 L214.51,394.50 L214.94,394.50 L215.36,394.50 L215.79,394.50 L216.22,394.50 L216.64,394.50 L217.07,394.50 L217.49,394.50 L217.92,394.50 L218.34,394.50 L218.77,394.50 L219.19,394.50 L219.62,394.50 L220.05,394.50 L220.47,394.50 L220.90,394.50 L221.32,394.50 L221.75,394.50 L222.17,394.50 L222.60,394.50 L222.60,394.50Z" fill="#e9808e" stroke="none" stroke-width="1"/>
<line x1="153.50" y1="327.60" x2="153.50" y2="394.50" stroke="#1a1a1a" stroke-width="1.05"/>
<line x1="151.20" y1="394.50" x2="153.50" y2="394.50" stroke="#1a1a1a" stroke-width="1.05"/>
<text x="149.30" y="396.77" font-size="6.3" text-anchor="end" fill="#222" color="#222">0</text>
<line x1="151.20" y1="381.12" x2="153.50" y2="381.12" stroke="#1a1a1a" stroke-width="1.05"/>
<text x="149.30" y="383.39" font-size="6.3" text-anchor="end" fill="#222" color="#222">20</text>
<line x1="151.20" y1="367.74" x2="153.50" y2="367.74" stroke="#1a1a1a" stroke-width="1.05"/>
<text x="149.30" y="370.01" font-size="6.3" text-anchor="end" fill="#222" color="#222">40</text>
<line x1="151.20" y1="354.36" x2="153.50" y2="354.36" stroke="#1a1a1a" stroke-width="1.05"/>
<text x="149.30" y="356.63" font-size="6.3" text-anchor="end" fill="#222" color="#222">60</text>
<line x1="151.20" y1="340.98" x2="153.50" y2="340.98" stroke="#1a1a1a" stroke-width="1.05"/>
<text x="149.30" y="343.25" font-size="6.3" text-anchor="end" fill="#222" color="#222">80</text>
<line x1="151.20" y1="327.60" x2="153.50" y2="327.60" stroke="#1a1a1a" stroke-width="1.05"/>
<text x="149.30" y="329.87" font-size="6.3" text-anchor="end" fill="#222" color="#222">100</text>
<line x1="153.50" y1="394.50" x2="223.60" y2="394.50" stroke="#1a1a1a" stroke-width="1.05"/>
<line x1="157.50" y1="394.50" x2="157.50" y2="396.50" stroke="#1a1a1a" stroke-width="0.9"/>
<text x="156.50" y="404.36" font-size="6.0" text-anchor="middle" fill="#222" color="#222">-10<tspan font-size="3.8" dy="-2.3">3</tspan></text>
<line x1="168.50" y1="394.50" x2="168.50" y2="396.50" stroke="#1a1a1a" stroke-width="0.9"/>
<text x="167.30" y="404.36" font-size="6.0" text-anchor="middle" fill="#222" color="#222">0</text>
<line x1="178.00" y1="394.50" x2="178.00" y2="396.50" stroke="#1a1a1a" stroke-width="0.9"/>
<text x="175.70" y="404.36" font-size="6.0" text-anchor="middle" fill="#222" color="#222">10<tspan font-size="3.8" dy="-2.3">3</tspan></text>
<line x1="196.50" y1="394.50" x2="196.50" y2="396.50" stroke="#1a1a1a" stroke-width="0.9"/>
<text x="194.50" y="404.36" font-size="6.0" text-anchor="middle" fill="#222" color="#222">10<tspan font-size="3.8" dy="-2.3">4</tspan></text>
<line x1="212.00" y1="394.50" x2="212.00" y2="396.50" stroke="#1a1a1a" stroke-width="0.9"/>
<text x="206.80" y="404.36" font-size="6.0" text-anchor="middle" fill="#222" color="#222">10<tspan font-size="3.8" dy="-2.3">5</tspan></text>
<line x1="183.57" y1="394.50" x2="183.57" y2="395.70" stroke="#1a1a1a" stroke-width="0.6"/>
<line x1="186.83" y1="394.50" x2="186.83" y2="395.70" stroke="#1a1a1a" stroke-width="0.6"/>
<line x1="189.14" y1="394.50" x2="189.14" y2="395.70" stroke="#1a1a1a" stroke-width="0.6"/>
<line x1="190.93" y1="394.50" x2="190.93" y2="395.70" stroke="#1a1a1a" stroke-width="0.6"/>
<line x1="192.40" y1="394.50" x2="192.40" y2="395.70" stroke="#1a1a1a" stroke-width="0.6"/>
<line x1="193.63" y1="394.50" x2="193.63" y2="395.70" stroke="#1a1a1a" stroke-width="0.6"/>
<line x1="194.71" y1="394.50" x2="194.71" y2="395.70" stroke="#1a1a1a" stroke-width="0.6"/>
<line x1="195.65" y1="394.50" x2="195.65" y2="395.70" stroke="#1a1a1a" stroke-width="0.6"/>
<line x1="202.07" y1="394.50" x2="202.07" y2="395.70" stroke="#1a1a1a" stroke-width="0.6"/>
<line x1="205.33" y1="394.50" x2="205.33" y2="395.70" stroke="#1a1a1a" stroke-width="0.6"/>
<line x1="207.64" y1="394.50" x2="207.64" y2="395.70" stroke="#1a1a1a" stroke-width="0.6"/>
<line x1="209.43" y1="394.50" x2="209.43" y2="395.70" stroke="#1a1a1a" stroke-width="0.6"/>
<line x1="210.90" y1="394.50" x2="210.90" y2="395.70" stroke="#1a1a1a" stroke-width="0.6"/>
<line x1="212.13" y1="394.50" x2="212.13" y2="395.70" stroke="#1a1a1a" stroke-width="0.6"/>
<line x1="213.21" y1="394.50" x2="213.21" y2="395.70" stroke="#1a1a1a" stroke-width="0.6"/>
<line x1="214.15" y1="394.50" x2="214.15" y2="395.70" stroke="#1a1a1a" stroke-width="0.6"/>
<line x1="217.57" y1="394.50" x2="217.57" y2="395.70" stroke="#1a1a1a" stroke-width="0.6"/>
<line x1="220.83" y1="394.50" x2="220.83" y2="395.70" stroke="#1a1a1a" stroke-width="0.6"/>
<line x1="165.19" y1="394.50" x2="165.19" y2="395.70" stroke="#1a1a1a" stroke-width="0.6"/>
<line x1="163.25" y1="394.50" x2="163.25" y2="395.70" stroke="#1a1a1a" stroke-width="0.6"/>
<line x1="161.88" y1="394.50" x2="161.88" y2="395.70" stroke="#1a1a1a" stroke-width="0.6"/>
<line x1="160.81" y1="394.50" x2="160.81" y2="395.70" stroke="#1a1a1a" stroke-width="0.6"/>
<line x1="159.94" y1="394.50" x2="159.94" y2="395.70" stroke="#1a1a1a" stroke-width="0.6"/>
<line x1="159.20" y1="394.50" x2="159.20" y2="395.70" stroke="#1a1a1a" stroke-width="0.6"/>
<line x1="158.57" y1="394.50" x2="158.57" y2="395.70" stroke="#1a1a1a" stroke-width="0.6"/>
<line x1="158.00" y1="394.50" x2="158.00" y2="395.70" stroke="#1a1a1a" stroke-width="0.6"/>
<text x="188.75" y="324.18" font-size="6.6" text-anchor="middle" fill="#222" color="#222">HCC827GR6</text>
<text x="131.90" y="363.57" font-size="7.7" text-anchor="middle" fill="#222" color="#222" transform="rotate(-90 131.90 360.80)">Normalized</text>
<text x="180.00" y="412.88" font-size="6.6" text-anchor="middle" fill="#222" color="#222">CD73</text>
<rect x="220.20" y="325.50" width="10.50" height="5.40" fill="#e9808e"/>
<text x="231.80" y="330.65" font-size="6.8" fill="#222" color="#222">IgG</text>
<rect x="220.20" y="333.30" width="10.50" height="5.40" fill="#5cc0d2"/>
<text x="231.80" y="338.45" font-size="6.8" fill="#222" color="#222">DMSO</text>
<rect x="220.20" y="341.30" width="10.50" height="5.40" fill="#f6c39a"/>
<text x="231.80" y="346.45" font-size="6.8" fill="#222" color="#222">PEM</text>
</g>
<g id="panelJ">
<text x="115.00" y="435.70" font-size="12.4" font-weight="bold" fill="#111" color="#111">J</text>
<line x1="143.00" y1="448.00" x2="143.00" y2="518.30" stroke="#1a1a1a" stroke-width="1.05"/>
<line x1="140.50" y1="518.30" x2="143.00" y2="518.30" stroke="#1a1a1a" stroke-width="1.05"/>
<text x="138.60" y="520.82" font-size="7.0" text-anchor="end" fill="#222" color="#222">0</text>
<line x1="140.50" y1="494.87" x2="143.00" y2="494.87" stroke="#1a1a1a" stroke-width="1.05"/>
<text x="138.60" y="497.39" font-size="7.0" text-anchor="end" fill="#222" color="#222">50</text>
<line x1="140.50" y1="471.43" x2="143.00" y2="471.43" stroke="#1a1a1a" stroke-width="1.05"/>
<text x="138.60" y="473.95" font-size="7.0" text-anchor="end" fill="#222" color="#222">100</text>
<line x1="140.50" y1="448.00" x2="143.00" y2="448.00" stroke="#1a1a1a" stroke-width="1.05"/>
<text x="138.60" y="450.52" font-size="7.0" text-anchor="end" fill="#222" color="#222">150</text>
<line x1="143.00" y1="518.30" x2="209.70" y2="518.30" stroke="#1a1a1a" stroke-width="1.05"/>
<line x1="156.25" y1="518.30" x2="156.25" y2="520.50" stroke="#1a1a1a" stroke-width="1.05"/>
<text x="156.25" y="529.82" font-size="7.0" text-anchor="middle" fill="#222" color="#222">Scr</text>
<line x1="190.00" y1="518.30" x2="190.00" y2="520.50" stroke="#1a1a1a" stroke-width="1.05"/>
<text x="190.00" y="529.82" font-size="7.0" text-anchor="middle" fill="#222" color="#222">sgCD73</text>
<rect x="147.00" y="491.12" width="10.00" height="27.18" fill="#111" stroke="#111" stroke-width="0.6"/>
<line x1="152.00" y1="491.12" x2="152.00" y2="487.84" stroke="#111" stroke-width="0.9"/>
<line x1="150.00" y1="487.84" x2="154.00" y2="487.84" stroke="#111" stroke-width="0.9"/>
<rect x="160.75" y="475.18" width="9.75" height="43.12" fill="#d63a35" stroke="#111" stroke-width="0.6"/>
<line x1="165.62" y1="475.18" x2="165.62" y2="473.78" stroke="#111" stroke-width="0.9"/>
<line x1="163.62" y1="473.78" x2="167.62" y2="473.78" stroke="#111" stroke-width="0.9"/>
<rect x="182.50" y="515.96" width="9.50" height="2.34" fill="#111" stroke="#111" stroke-width="0.6"/>
<line x1="187.25" y1="515.96" x2="187.25" y2="515.49" stroke="#111" stroke-width="0.9"/>
<line x1="185.25" y1="515.49" x2="189.25" y2="515.49" stroke="#111" stroke-width="0.9"/>
<rect x="195.75" y="515.02" width="9.75" height="3.28" fill="#d63a35" stroke="#111" stroke-width="0.6"/>
<line x1="200.62" y1="515.02" x2="200.62" y2="514.08" stroke="#111" stroke-width="0.9"/>
<line x1="198.62" y1="514.08" x2="202.62" y2="514.08" stroke="#111" stroke-width="0.9"/>
<rect x="183.00" y="452.50" width="8.25" height="4.75" fill="#111"/>
<text x="193.00" y="457.45" font-size="6.8" fill="#222" color="#222">DMSO</text>
<rect x="183" y="463" width="8.25" height="5" fill="#d63a35" stroke="#111" stroke-width="0.6"/>
<text x="193.00" y="467.95" font-size="6.8" fill="#222" color="#222">PEM</text>
<line x1="148.75" y1="469.40" x2="168.00" y2="469.40" stroke="#333" stroke-width="0.8"/>
<text x="158.40" y="470.18" font-size="6.6" text-anchor="middle" fill="#222" color="#222">**</text>
<line x1="185.00" y1="510.30" x2="202.50" y2="510.30" stroke="#333" stroke-width="0.8"/>
<text x="193.70" y="508.95" font-size="6.8" text-anchor="middle" fill="#222" color="#222">n.s.</text>
<text x="119.50" y="486.32" font-size="7.0" text-anchor="middle" fill="#222" color="#222" transform="rotate(-90 119.50 483.80)">Adenosine Conc. (&#956;mol/L)</text>
</g>
<g id="panelK">
<text x="264.50" y="307.20" font-size="12.4" font-weight="bold" fill="#111" color="#111">K</text>
<text x="318.00" y="307.25" font-size="6.8" font-weight="bold" fill="#111" color="#111">Coculture with JC76 TCR-LMP2B</text>
<line x1="296.40" y1="318.00" x2="296.40" y2="386.00" stroke="#1a1a1a" stroke-width="1.05"/>
<line x1="293.90" y1="386.00" x2="296.40" y2="386.00" stroke="#1a1a1a" stroke-width="1.05"/>
<text x="292.00" y="388.52" font-size="7.0" text-anchor="end" fill="#222" color="#222">0</text>
<line x1="293.90" y1="369.00" x2="296.40" y2="369.00" stroke="#1a1a1a" stroke-width="1.05"/>
<text x="292.00" y="371.52" font-size="7.0" text-anchor="end" fill="#222" color="#222">200</text>
<line x1="293.90" y1="352.00" x2="296.40" y2="352.00" stroke="#1a1a1a" stroke-width="1.05"/>
<text x="292.00" y="354.52" font-size="7.0" text-anchor="end" fill="#222" color="#222">400</text>
<line x1="293.90" y1="335.00" x2="296.40" y2="335.00" stroke="#1a1a1a" stroke-width="1.05"/>
<text x="292.00" y="337.52" font-size="7.0" text-anchor="end" fill="#222" color="#222">600</text>
<line x1="293.90" y1="318.00" x2="296.40" y2="318.00" stroke="#1a1a1a" stroke-width="1.05"/>
<text x="292.00" y="320.52" font-size="7.0" text-anchor="end" fill="#222" color="#222">800</text>
<line x1="296.40" y1="386.00" x2="364.70" y2="386.00" stroke="#1a1a1a" stroke-width="1.05"/>
<line x1="312.50" y1="386.00" x2="312.50" y2="388.20" stroke="#1a1a1a" stroke-width="1.05"/>
<text x="312.50" y="397.02" font-size="7.0" text-anchor="middle" fill="#222" color="#222">Scr</text>
<line x1="348.75" y1="386.00" x2="348.75" y2="388.20" stroke="#1a1a1a" stroke-width="1.05"/>
<text x="348.75" y="397.02" font-size="7.0" text-anchor="middle" fill="#222" color="#222">sgCD73</text>
<rect x="301.25" y="365.60" width="9.50" height="20.40" fill="#1fa35c"/>
<line x1="306.00" y1="365.60" x2="306.00" y2="362.20" stroke="#16753f" stroke-width="1.1"/>
<line x1="303.80" y1="362.20" x2="308.20" y2="362.20" stroke="#16753f" stroke-width="1.1"/>
<rect x="314.50" y="362.20" width="10.00" height="23.80" fill="#7a2f8e"/>
<line x1="319.50" y1="362.20" x2="319.50" y2="359.65" stroke="#55206a" stroke-width="1.1"/>
<line x1="317.30" y1="359.65" x2="321.70" y2="359.65" stroke="#55206a" stroke-width="1.1"/>
<rect x="337.00" y="346.48" width="10.00" height="39.53" fill="#1fa35c"/>
<line x1="342.00" y1="346.48" x2="342.00" y2="343.50" stroke="#16753f" stroke-width="1.1"/>
<line x1="339.80" y1="343.50" x2="344.20" y2="343.50" stroke="#16753f" stroke-width="1.1"/>
<rect x="350.50" y="334.15" width="10.00" height="51.85" fill="#7a2f8e"/>
<line x1="355.50" y1="334.15" x2="355.50" y2="327.35" stroke="#55206a" stroke-width="1.1"/>
<line x1="353.30" y1="327.35" x2="357.70" y2="327.35" stroke="#55206a" stroke-width="1.1"/>
<rect x="302.00" y="322.25" width="9.25" height="4.50" fill="#1fa35c"/>
<text x="313.50" y="326.95" font-size="6.8" fill="#222" color="#222">DMSO</text>
<rect x="302.00" y="331.00" width="9.25" height="5.00" fill="#7a2f8e"/>
<text x="313.50" y="335.95" font-size="6.8" fill="#222" color="#222">PEM</text>
<line x1="303.50" y1="317.20" x2="360.00" y2="317.20" stroke="#333" stroke-width="0.8"/>
<text x="331.50" y="317.97" font-size="6.3" text-anchor="middle" fill="#222" color="#222">**</text>
<line x1="341.25" y1="322.75" x2="360.00" y2="322.75" stroke="#333" stroke-width="0.8"/>
<text x="350.60" y="323.57" font-size="6.3" text-anchor="middle" fill="#222" color="#222">*</text>
<line x1="303.00" y1="354.00" x2="322.50" y2="354.00" stroke="#333" stroke-width="0.8"/>
<text x="312.70" y="353.88" font-size="6.6" text-anchor="middle" fill="#222" color="#222">n.s.</text>
<text x="273.60" y="355.00" font-size="7.5" text-anchor="middle" fill="#222" color="#222" transform="rotate(-90 273.60 352.30)">IFN&#947; Conc. (pg/mL)</text>
<line x1="410.50" y1="317.75" x2="410.50" y2="387.25" stroke="#1a1a1a" stroke-width="1.05"/>
<line x1="408.00" y1="387.25" x2="410.50" y2="387.25" stroke="#1a1a1a" stroke-width="1.05"/>
<text x="406.10" y="389.77" font-size="7.0" text-anchor="end" fill="#222" color="#222">0</text>
<line x1="408.00" y1="364.08" x2="410.50" y2="364.08" stroke="#1a1a1a" stroke-width="1.05"/>
<text x="406.10" y="366.60" font-size="7.0" text-anchor="end" fill="#222" color="#222">500</text>
<line x1="408.00" y1="340.92" x2="410.50" y2="340.92" stroke="#1a1a1a" stroke-width="1.05"/>
<text x="406.10" y="343.44" font-size="7.0" text-anchor="end" fill="#222" color="#222">1,000</text>
<line x1="408.00" y1="317.75" x2="410.50" y2="317.75" stroke="#1a1a1a" stroke-width="1.05"/>
<text x="406.10" y="320.27" font-size="7.0" text-anchor="end" fill="#222" color="#222">1,500</text>
<line x1="410.50" y1="387.25" x2="481.00" y2="387.25" stroke="#1a1a1a" stroke-width="1.05"/>
<line x1="425.00" y1="387.25" x2="425.00" y2="389.45" stroke="#1a1a1a" stroke-width="1.05"/>
<text x="425.00" y="398.02" font-size="7.0" text-anchor="middle" fill="#222" color="#222">Scr</text>
<line x1="463.75" y1="387.25" x2="463.75" y2="389.45" stroke="#1a1a1a" stroke-width="1.05"/>
<text x="463.75" y="398.02" font-size="7.0" text-anchor="middle" fill="#222" color="#222">sgCD73</text>
<rect x="415.00" y="357.60" width="10.00" height="29.65" fill="#1fa35c"/>
<line x1="420.00" y1="357.60" x2="420.00" y2="356.67" stroke="#16753f" stroke-width="1.1"/>
<line x1="417.80" y1="356.67" x2="422.20" y2="356.67" stroke="#16753f" stroke-width="1.1"/>
<rect x="428.75" y="354.35" width="10.00" height="32.90" fill="#7a2f8e"/>
<line x1="433.75" y1="354.35" x2="433.75" y2="352.04" stroke="#55206a" stroke-width="1.1"/>
<line x1="431.55" y1="352.04" x2="435.95" y2="352.04" stroke="#55206a" stroke-width="1.1"/>
<rect x="452.00" y="339.06" width="10.00" height="48.19" fill="#1fa35c"/>
<line x1="457.00" y1="339.06" x2="457.00" y2="333.50" stroke="#16753f" stroke-width="1.1"/>
<line x1="454.80" y1="333.50" x2="459.20" y2="333.50" stroke="#16753f" stroke-width="1.1"/>
<rect x="466.25" y="327.02" width="10.00" height="60.23" fill="#7a2f8e"/>
<line x1="471.25" y1="327.02" x2="471.25" y2="322.85" stroke="#55206a" stroke-width="1.1"/>
<line x1="469.05" y1="322.85" x2="473.45" y2="322.85" stroke="#55206a" stroke-width="1.1"/>
<rect x="416.25" y="320.25" width="8.75" height="5.00" fill="#1fa35c"/>
<text x="426.50" y="325.25" font-size="6.8" fill="#222" color="#222">DMSO</text>
<rect x="416.25" y="329.75" width="8.75" height="5.00" fill="#7a2f8e"/>
<text x="426.50" y="334.75" font-size="6.8" fill="#222" color="#222">PEM</text>
<line x1="417.00" y1="313.50" x2="471.25" y2="313.50" stroke="#333" stroke-width="0.8"/>
<text x="444.00" y="314.57" font-size="6.3" text-anchor="middle" fill="#222" color="#222">***</text>
<line x1="456.25" y1="319.75" x2="471.25" y2="319.75" stroke="#333" stroke-width="0.8"/>
<text x="463.70" y="320.67" font-size="6.3" text-anchor="middle" fill="#222" color="#222">*</text>
<line x1="418.00" y1="347.75" x2="434.50" y2="347.75" stroke="#333" stroke-width="0.8"/>
<text x="426.20" y="347.58" font-size="6.6" text-anchor="middle" fill="#222" color="#222">n.s.</text>
<text x="380.60" y="354.94" font-size="7.6" text-anchor="middle" fill="#222" color="#222" transform="rotate(-90 380.60 352.20)">IL2 Conc. (pg/mL)</text>
</g>
<g id="panelL">
<text x="242.30" y="434.90" font-size="12.4" font-weight="bold" fill="#111" color="#111">L</text>
<defs><linearGradient id="ga1" x1="275.1" y1="0" x2="323" y2="0" gradientUnits="userSpaceOnUse"><stop offset="0" stop-color="#d0d0d0"/><stop offset="0.55" stop-color="#666"/><stop offset="1" stop-color="#111"/></linearGradient></defs>
<path d="M275.1,443.2 Q298.15,421.15 320.50,440.00" fill="none" stroke="url(#ga1)" stroke-width="1.8"/>
<polygon points="317.20,441.30 323.80,443.30 321.80,436.70" fill="#111"/>
<defs><linearGradient id="ga2" x1="372.5" y1="0" x2="423" y2="0" gradientUnits="userSpaceOnUse"><stop offset="0" stop-color="#d0d0d0"/><stop offset="0.55" stop-color="#666"/><stop offset="1" stop-color="#111"/></linearGradient></defs>
<path d="M372.5,443.5 Q396.25,421.00 420.50,440.00" fill="none" stroke="url(#ga2)" stroke-width="1.8"/>
<polygon points="417.20,441.30 423.80,443.30 421.80,436.70" fill="#111"/>
<path d="M286.07,492.00Q288.00,494.63 285.97,496.85Q286.41,499.63 283.96,501.29Q284.24,504.41 281.47,505.51Q280.97,508.65 277.76,508.79Q276.18,511.11 273.02,510.23Q271.17,512.66 268.37,511.27Q266.00,513.37 263.46,512.59Q260.65,513.40 258.87,510.52Q256.04,510.70 254.60,508.27Q250.99,508.70 250.05,505.93Q247.25,504.75 247.89,501.37Q245.68,499.60 245.56,496.96Q244.37,494.59 245.54,492.00Q244.45,489.42 245.87,487.11Q245.17,484.21 248.36,482.87Q248.16,479.87 250.49,478.46Q251.06,475.39 254.01,474.89Q255.75,472.76 258.72,473.08Q260.69,470.78 263.48,471.56Q266.00,470.16 268.50,471.67Q271.15,471.40 273.02,473.77Q276.17,472.91 277.89,475.03Q280.81,475.52 281.46,478.51Q284.35,479.52 283.86,482.76Q286.15,484.47 285.16,487.35Q287.61,489.41 286.07,492.00Z" fill="#c6dbe6" stroke="#8eaabb" stroke-width="0.9"/>
<circle cx="270.30" cy="494.40" r="9.40" fill="#9fc3d3"/>
<circle cx="269.80" cy="494.00" r="7.50" fill="#a9cbd9"/>
<path d="M258,489.5 q-1.5,7 0.5,14" fill="none" stroke="#efe6d4" stroke-width="3.4" stroke-linecap="round"/>
<path d="M280,491.2 l7,-0.5" fill="none" stroke="#eae2d0" stroke-width="2.2" stroke-linecap="round"/>
<path d="M259.50,472.00 L259.50,467.32 M256.70,463.50 L256.90,465.62 L259.50,467.32 L262.10,465.62 L262.30,463.50" fill="none" stroke="#55558c" stroke-width="1.4" stroke-linejoin="round" stroke-linecap="round"/>
<path d="M266.90,472.00 L266.90,467.32 M264.10,463.50 L264.30,465.62 L266.90,467.32 L269.50,465.62 L269.70,463.50" fill="none" stroke="#55558c" stroke-width="1.4" stroke-linejoin="round" stroke-linecap="round"/>
<path d="M273.60,472.00 L273.60,467.32 M270.80,463.50 L271.00,465.62 L273.60,467.32 L276.20,465.62 L276.40,463.50" fill="none" stroke="#55558c" stroke-width="1.4" stroke-linejoin="round" stroke-linecap="round"/>
<text x="266.90" y="460.32" font-size="7.0" text-anchor="middle" font-weight="bold" fill="#222" color="#222">MET</text>
<path d="M280.5,484.8 C283,480.5 290,479 295.5,479.5 C297,481.5 294,484.5 289,485.5 C285.5,486.5 282,486.5 280.5,484.8Z" fill="#e08c48"/>
<text x="287.20" y="476.79" font-size="7.2" font-weight="bold" fill="#222" color="#222">CD73</text>
<circle cx="292.80" cy="490.40" r="1.70" fill="#2c7d8e"/>
<circle cx="299.20" cy="490.00" r="1.70" fill="#2c7d8e"/>
<circle cx="295.50" cy="496.40" r="1.70" fill="#2c7d8e"/>
<text x="289.10" y="506.14" font-size="6.5" fill="#333" color="#333">Adenosine</text>
<text x="249.40" y="513.90" font-size="7.5" font-weight="bold" fill="#222" color="#222">STING</text>
<path d="M372.41,494.20Q373.27,496.85 371.98,499.27Q373.10,502.42 370.19,504.09Q369.89,507.02 367.36,508.48Q366.14,511.06 363.15,511.65Q361.95,514.94 358.58,514.31Q356.30,516.19 353.19,514.07Q350.70,515.77 348.12,514.79Q344.97,516.69 342.81,514.34Q339.73,514.42 338.34,511.52Q334.96,511.38 334.09,508.44Q332.05,506.65 332.25,503.57Q329.06,502.14 329.88,499.17Q327.90,496.88 329.64,494.20Q327.50,491.47 329.75,489.20Q328.64,486.11 331.55,484.48Q332.28,481.90 335.23,480.94Q336.02,478.17 338.76,477.47Q340.41,475.23 343.21,475.09Q345.25,472.83 348.02,472.86Q350.70,471.86 353.35,473.11Q356.13,472.88 358.12,475.28Q361.43,474.42 363.20,476.68Q365.52,478.02 366.33,480.81Q369.62,481.56 369.92,484.44Q371.81,486.45 370.95,489.37Q373.08,491.57 372.41,494.20Z" fill="#dccbe6" stroke="#b89ccb" stroke-width="0.9"/>
<path d="M366.46,494.60Q365.73,497.70 363.74,500.08Q362.04,502.63 359.30,504.14Q356.20,504.69 353.28,503.60Q350.25,502.78 347.89,500.64Q346.65,497.70 346.87,494.60Q346.71,491.52 347.97,488.62Q350.05,486.13 353.12,485.11Q356.20,484.14 359.34,484.95Q362.43,486.02 364.52,488.55Q366.20,491.35 366.46,494.60Z" fill="#c5a3d6"/>
<path d="M352.10,505.88 A12.00,12.00 0 0 1 346.37,487.72" fill="none" stroke="#fbf1dc" stroke-width="0.8" stroke-linecap="round"/>
<path d="M351.55,507.38 A13.60,13.60 0 0 1 345.06,486.80" fill="none" stroke="#fbf1dc" stroke-width="0.8" stroke-linecap="round"/>
<path d="M351.00,508.88 A15.20,15.20 0 0 1 343.75,485.88" fill="none" stroke="#fbf1dc" stroke-width="0.8" stroke-linecap="round"/>
<path d="M350.45,510.39 A16.80,16.80 0 0 1 342.44,484.96" fill="none" stroke="#fbf1dc" stroke-width="0.8" stroke-linecap="round"/>
<path d="M345.40,473.00 L345.40,468.38 M342.60,464.60 L342.80,466.70 L345.40,468.38 L348.00,466.70 L348.20,464.60" fill="none" stroke="#55558c" stroke-width="1.4" stroke-linejoin="round" stroke-linecap="round"/>
<path d="M353.10,473.00 L353.10,468.38 M350.30,464.60 L350.50,466.70 L353.10,468.38 L355.70,466.70 L355.90,464.60" fill="none" stroke="#55558c" stroke-width="1.4" stroke-linejoin="round" stroke-linecap="round"/>
<path d="M360.30,473.00 L360.30,468.38 M357.50,464.60 L357.70,466.70 L360.30,468.38 L362.90,466.70 L363.10,464.60" fill="none" stroke="#55558c" stroke-width="1.4" stroke-linejoin="round" stroke-linecap="round"/>
<polygon points="326.50,455.00 334.80,451.20 335.60,464.00 338.50,463.00 341.00,479.50 332.50,467.50 330.50,468.50" fill="#dfe63c" stroke="#a9ad22" stroke-width="0.5"/>
<text x="330.50" y="449.88" font-size="6.6" text-anchor="middle" font-weight="bold" fill="#d62a3a" color="#d62a3a">Pemetrexed</text>
<ellipse cx="372.5" cy="481.5" rx="4.3" ry="3.0" fill="#e2924c" transform="rotate(-15 372.5 481.5)"/>
<ellipse cx="377.5" cy="483.5" rx="4.3" ry="3.0" fill="#e2924c" transform="rotate(10 377.5 483.5)"/>
<ellipse cx="371.5" cy="487.5" rx="4.3" ry="3.0" fill="#e2924c" transform="rotate(-5 371.5 487.5)"/>
<ellipse cx="377.5" cy="489.5" rx="4.3" ry="3.0" fill="#e2924c" transform="rotate(10 377.5 489.5)"/>
<ellipse cx="372.5" cy="493.5" rx="4.3" ry="3.0" fill="#e2924c" transform="rotate(5 372.5 493.5)"/>
<ellipse cx="376.5" cy="495.5" rx="4.3" ry="3.0" fill="#e2924c" transform="rotate(0 376.5 495.5)"/>
<ellipse cx="373.5" cy="484.5" rx="2.2" ry="1.3" fill="#eaa868"/>
<ellipse cx="378.5" cy="490.5" rx="2.2" ry="1.3" fill="#eaa868"/>
<ellipse cx="374.5" cy="493.5" rx="2.2" ry="1.3" fill="#eaa868"/>
<circle cx="386.50" cy="492.00" r="1.60" fill="#a8d4dc"/>
<circle cx="391.50" cy="491.00" r="1.60" fill="#3a9aa8"/>
<circle cx="396.50" cy="492.50" r="1.60" fill="#3a9aa8"/>
<circle cx="386.00" cy="497.50" r="1.60" fill="#5ab0b8"/>
<circle cx="391.80" cy="497.20" r="1.60" fill="#5ab0b8"/>
<circle cx="397.50" cy="497.50" r="1.60" fill="#2f8c9c"/>
<circle cx="388.50" cy="502.50" r="1.60" fill="#3a9aa8"/>
<circle cx="394.00" cy="502.00" r="1.60" fill="#a8d4dc"/>
<circle cx="340.19" cy="527.84" r="0.62" fill="#cc8a58"/>
<circle cx="340.18" cy="531.97" r="0.62" fill="#c07a48"/>
<circle cx="335.64" cy="527.17" r="0.62" fill="#c07a48"/>
<circle cx="334.10" cy="524.25" r="0.62" fill="#d49060"/>
<circle cx="341.66" cy="532.47" r="0.62" fill="#d49060"/>
<circle cx="342.62" cy="525.55" r="0.62" fill="#cc8a58"/>
<circle cx="343.62" cy="528.62" r="0.62" fill="#c07a48"/>
<circle cx="343.09" cy="531.64" r="0.62" fill="#d49060"/>
<circle cx="333.51" cy="522.66" r="0.62" fill="#c07a48"/>
<circle cx="342.69" cy="530.89" r="0.62" fill="#e0a878"/>
<circle cx="339.99" cy="531.79" r="0.62" fill="#c07a48"/>
<circle cx="343.38" cy="527.00" r="0.62" fill="#d49060"/>
<circle cx="340.27" cy="523.89" r="0.62" fill="#d49060"/>
<circle cx="344.53" cy="524.41" r="0.62" fill="#c07a48"/>
<circle cx="341.22" cy="520.42" r="0.62" fill="#d49060"/>
<circle cx="339.31" cy="531.85" r="0.62" fill="#cc8a58"/>
<circle cx="333.64" cy="520.24" r="0.62" fill="#d49060"/>
<circle cx="336.13" cy="532.98" r="0.62" fill="#d49060"/>
<circle cx="340.49" cy="533.73" r="0.62" fill="#cc8a58"/>
<circle cx="339.64" cy="527.93" r="0.62" fill="#c07a48"/>
<circle cx="345.73" cy="523.78" r="0.62" fill="#d49060"/>
<circle cx="337.79" cy="520.21" r="0.62" fill="#cc8a58"/>
<circle cx="345.39" cy="521.65" r="0.62" fill="#c07a48"/>
<circle cx="344.52" cy="520.15" r="0.62" fill="#cc8a58"/>
<circle cx="346.05" cy="522.49" r="0.62" fill="#c07a48"/>
<circle cx="340.11" cy="522.67" r="0.62" fill="#c07a48"/>
<circle cx="362.00" cy="528.90" r="4.80" fill="#6fbdd3"/>
<circle cx="362.00" cy="528.90" r="3.36" fill="#4aa5c3"/>
<circle cx="361.70" cy="529.20" r="1.92" fill="#2f8bad"/>
<circle cx="363.20" cy="527.40" r="0.96" fill="#b0e0ec"/>
<circle cx="370.40" cy="522.00" r="4.80" fill="#6fbdd3"/>
<circle cx="370.40" cy="522.00" r="3.36" fill="#4aa5c3"/>
<circle cx="370.10" cy="522.30" r="1.92" fill="#2f8bad"/>
<circle cx="371.60" cy="520.50" r="0.96" fill="#b0e0ec"/>
<text x="375.20" y="533.86" font-size="7.4" font-weight="bold" fill="#222" color="#222">T cells</text>
<text x="291.30" y="541.87" font-size="6.3" fill="#222" color="#222">Type1IFN, CXCL10</text>
<path d="M460.53,493.50Q462.36,496.31 461.15,498.91Q461.27,501.87 457.97,503.33Q458.15,506.55 455.86,508.19Q454.78,510.99 451.31,510.85Q449.90,513.60 446.97,513.47Q445.10,516.55 442.20,516.01Q439.50,517.51 436.97,514.64Q434.00,516.11 431.79,514.11Q428.97,513.85 427.33,511.38Q424.64,510.50 423.47,507.90Q420.17,507.03 420.47,503.63Q418.27,501.66 419.14,498.59Q417.01,496.27 417.43,493.50Q416.20,490.63 419.31,488.45Q418.49,485.42 420.87,483.58Q420.91,480.49 424.03,479.60Q424.38,476.20 427.51,475.89Q429.07,473.34 431.93,473.27Q433.97,470.74 436.83,471.16Q439.50,469.44 442.07,472.07Q444.79,471.74 446.89,473.75Q450.07,473.09 451.48,475.91Q454.58,476.24 456.23,478.48Q458.66,480.09 457.87,483.72Q460.96,485.25 460.58,488.23Q462.73,490.64 460.53,493.50Z" fill="#f1a2c1" stroke="#d9779c" stroke-width="0.9"/>
<path d="M452.87,493.00Q452.95,496.33 451.33,499.27Q449.03,501.71 445.89,502.82Q442.70,503.61 439.55,502.68Q436.40,501.67 434.21,499.17Q432.34,496.37 432.21,493.00Q432.32,489.63 434.22,486.84Q436.40,484.33 439.47,483.06Q442.70,482.40 445.87,483.25Q448.94,484.41 450.99,486.98Q452.71,489.75 452.87,493.00Z" fill="#e77ba6"/>
<path d="M437.42,504.33 A12.50,12.50 0 0 1 433.12,484.97" fill="none" stroke="#fff4e6" stroke-width="0.9" stroke-linecap="round"/>
<path d="M436.74,505.78 A14.10,14.10 0 0 1 431.90,483.94" fill="none" stroke="#fff4e6" stroke-width="0.9" stroke-linecap="round"/>
<path d="M436.06,507.23 A15.70,15.70 0 0 1 430.67,482.91" fill="none" stroke="#fff4e6" stroke-width="0.9" stroke-linecap="round"/>
<path d="M435.39,508.68 A17.30,17.30 0 0 1 429.45,481.88" fill="none" stroke="#fff4e6" stroke-width="0.9" stroke-linecap="round"/>
<path d="M432.70,471.80 L432.70,467.84 M429.90,464.60 L430.10,466.40 L432.70,467.84 L435.30,466.40 L435.50,464.60" fill="none" stroke="#55558c" stroke-width="1.4" stroke-linejoin="round" stroke-linecap="round"/>
<path d="M440.40,471.80 L440.40,467.84 M437.60,464.60 L437.80,466.40 L440.40,467.84 L443.00,466.40 L443.20,464.60" fill="none" stroke="#55558c" stroke-width="1.4" stroke-linejoin="round" stroke-linecap="round"/>
<path d="M448.80,471.80 L448.80,467.84 M446.00,464.60 L446.20,466.40 L448.80,467.84 L451.40,466.40 L451.60,464.60" fill="none" stroke="#55558c" stroke-width="1.4" stroke-linejoin="round" stroke-linecap="round"/>
<polygon points="415.30,454.50 421.30,450.30 423.50,463.50 426.00,462.50 429.80,481.80 420.50,468.00 418.50,469.50" fill="#dfe63c" stroke="#a9ad22" stroke-width="0.5"/>
<ellipse cx="461.5" cy="481.5" rx="4.3" ry="3.0" fill="#e2924c" transform="rotate(-15 461.5 481.5)"/>
<ellipse cx="466.5" cy="483.5" rx="4.3" ry="3.0" fill="#e2924c" transform="rotate(10 466.5 483.5)"/>
<ellipse cx="460.5" cy="487.5" rx="4.3" ry="3.0" fill="#e2924c" transform="rotate(-5 460.5 487.5)"/>
<ellipse cx="466.5" cy="489.5" rx="4.3" ry="3.0" fill="#e2924c" transform="rotate(10 466.5 489.5)"/>
<ellipse cx="461.5" cy="493.5" rx="4.3" ry="3.0" fill="#e2924c" transform="rotate(5 461.5 493.5)"/>
<ellipse cx="465.5" cy="495.5" rx="4.3" ry="3.0" fill="#e2924c" transform="rotate(0 465.5 495.5)"/>
<ellipse cx="462.5" cy="484.5" rx="2.2" ry="1.3" fill="#eaa868"/>
<ellipse cx="467.5" cy="490.5" rx="2.2" ry="1.3" fill="#eaa868"/>
<ellipse cx="463.5" cy="493.5" rx="2.2" ry="1.3" fill="#eaa868"/>
<circle cx="465.80" cy="460.00" r="5.30" fill="#6fbdd3"/>
<circle cx="465.80" cy="460.00" r="3.71" fill="#4aa5c3"/>
<circle cx="465.50" cy="460.30" r="2.12" fill="#2f8bad"/>
<circle cx="467.00" cy="458.50" r="1.06" fill="#b0e0ec"/>
<circle cx="476.50" cy="455.40" r="5.30" fill="#6fbdd3"/>
<circle cx="476.50" cy="455.40" r="3.71" fill="#4aa5c3"/>
<circle cx="476.20" cy="455.70" r="2.12" fill="#2f8bad"/>
<circle cx="477.70" cy="453.90" r="1.06" fill="#b0e0ec"/>
<circle cx="465.80" cy="471.50" r="5.30" fill="#6fbdd3"/>
<circle cx="465.80" cy="471.50" r="3.71" fill="#4aa5c3"/>
<circle cx="465.50" cy="471.80" r="2.12" fill="#2f8bad"/>
<circle cx="467.00" cy="470.00" r="1.06" fill="#b0e0ec"/>
<circle cx="451.20" cy="528.50" r="5.30" fill="#6fbdd3"/>
<circle cx="451.20" cy="528.50" r="3.71" fill="#4aa5c3"/>
<circle cx="450.90" cy="528.80" r="2.12" fill="#2f8bad"/>
<circle cx="452.40" cy="527.00" r="1.06" fill="#b0e0ec"/>
<circle cx="460.50" cy="522.70" r="5.30" fill="#6fbdd3"/>
<circle cx="460.50" cy="522.70" r="3.71" fill="#4aa5c3"/>
<circle cx="460.20" cy="523.00" r="2.12" fill="#2f8bad"/>
<circle cx="461.70" cy="521.20" r="1.06" fill="#b0e0ec"/>
<circle cx="481.50" cy="464.00" r="1.90" fill="#cfa7b0"/>
<circle cx="489.00" cy="466.00" r="1.90" fill="#9a5a68"/>
<circle cx="479.50" cy="469.50" r="1.90" fill="#8a4a58"/>
<circle cx="485.00" cy="469.50" r="1.90" fill="#6e2f3e"/>
<circle cx="492.50" cy="468.50" r="1.90" fill="#d8c0c4"/>
<circle cx="490.50" cy="472.50" r="1.90" fill="#b08890"/>
<circle cx="479.50" cy="475.00" r="1.90" fill="#c49aa3"/>
<circle cx="485.00" cy="477.00" r="1.90" fill="#8a4a58"/>
<path d="M475.5,503 C473.5,494 475.5,485 481,479.8" fill="none" stroke="#111" stroke-width="1.3"/>
<polygon points="477.8,479.2 483.2,477.3 481.8,482.7" fill="#111"/>
<text x="477.00" y="493.87" font-size="6.3" font-weight="bold" fill="#d03446" color="#d03446">CD73</text>
<text x="477.00" y="500.87" font-size="6.3" font-weight="bold" fill="#d03446" color="#d03446">inhibitor</text>
<circle cx="430.07" cy="528.70" r="0.62" fill="#e0a878"/>
<circle cx="424.42" cy="519.65" r="0.62" fill="#e0a878"/>
<circle cx="430.20" cy="528.51" r="0.62" fill="#cc8a58"/>
<circle cx="433.74" cy="527.92" r="0.62" fill="#d49060"/>
<circle cx="433.24" cy="521.53" r="0.62" fill="#cc8a58"/>
<circle cx="428.25" cy="524.26" r="0.62" fill="#c07a48"/>
<circle cx="423.00" cy="530.96" r="0.62" fill="#d49060"/>
<circle cx="430.73" cy="530.97" r="0.62" fill="#cc8a58"/>
<circle cx="435.56" cy="520.72" r="0.62" fill="#d49060"/>
<circle cx="435.93" cy="528.77" r="0.62" fill="#c07a48"/>
<circle cx="423.55" cy="533.32" r="0.62" fill="#cc8a58"/>
<circle cx="423.91" cy="525.42" r="0.62" fill="#c07a48"/>
<circle cx="431.17" cy="531.85" r="0.62" fill="#c07a48"/>
<circle cx="438.59" cy="531.90" r="0.62" fill="#c07a48"/>
<circle cx="430.62" cy="520.67" r="0.62" fill="#cc8a58"/>
<circle cx="433.36" cy="526.07" r="0.62" fill="#cc8a58"/>
<circle cx="431.20" cy="528.47" r="0.62" fill="#d49060"/>
<circle cx="438.45" cy="533.17" r="0.62" fill="#e0a878"/>
<circle cx="428.06" cy="524.58" r="0.62" fill="#cc8a58"/>
<circle cx="433.45" cy="521.09" r="0.62" fill="#c07a48"/>
<circle cx="427.70" cy="524.70" r="0.62" fill="#c07a48"/>
<circle cx="422.48" cy="531.02" r="0.62" fill="#cc8a58"/>
<circle cx="422.56" cy="519.86" r="0.62" fill="#cc8a58"/>
<circle cx="422.74" cy="522.36" r="0.62" fill="#d49060"/>
<circle cx="434.81" cy="522.59" r="0.62" fill="#d49060"/>
<circle cx="433.83" cy="520.02" r="0.62" fill="#e0a878"/>
<circle cx="476.20" cy="508.90" r="1.70" fill="#bfe0ea"/>
<circle cx="479.60" cy="511.80" r="1.90" fill="#2f8c9c"/>
</g>
</svg>
</body></html>
